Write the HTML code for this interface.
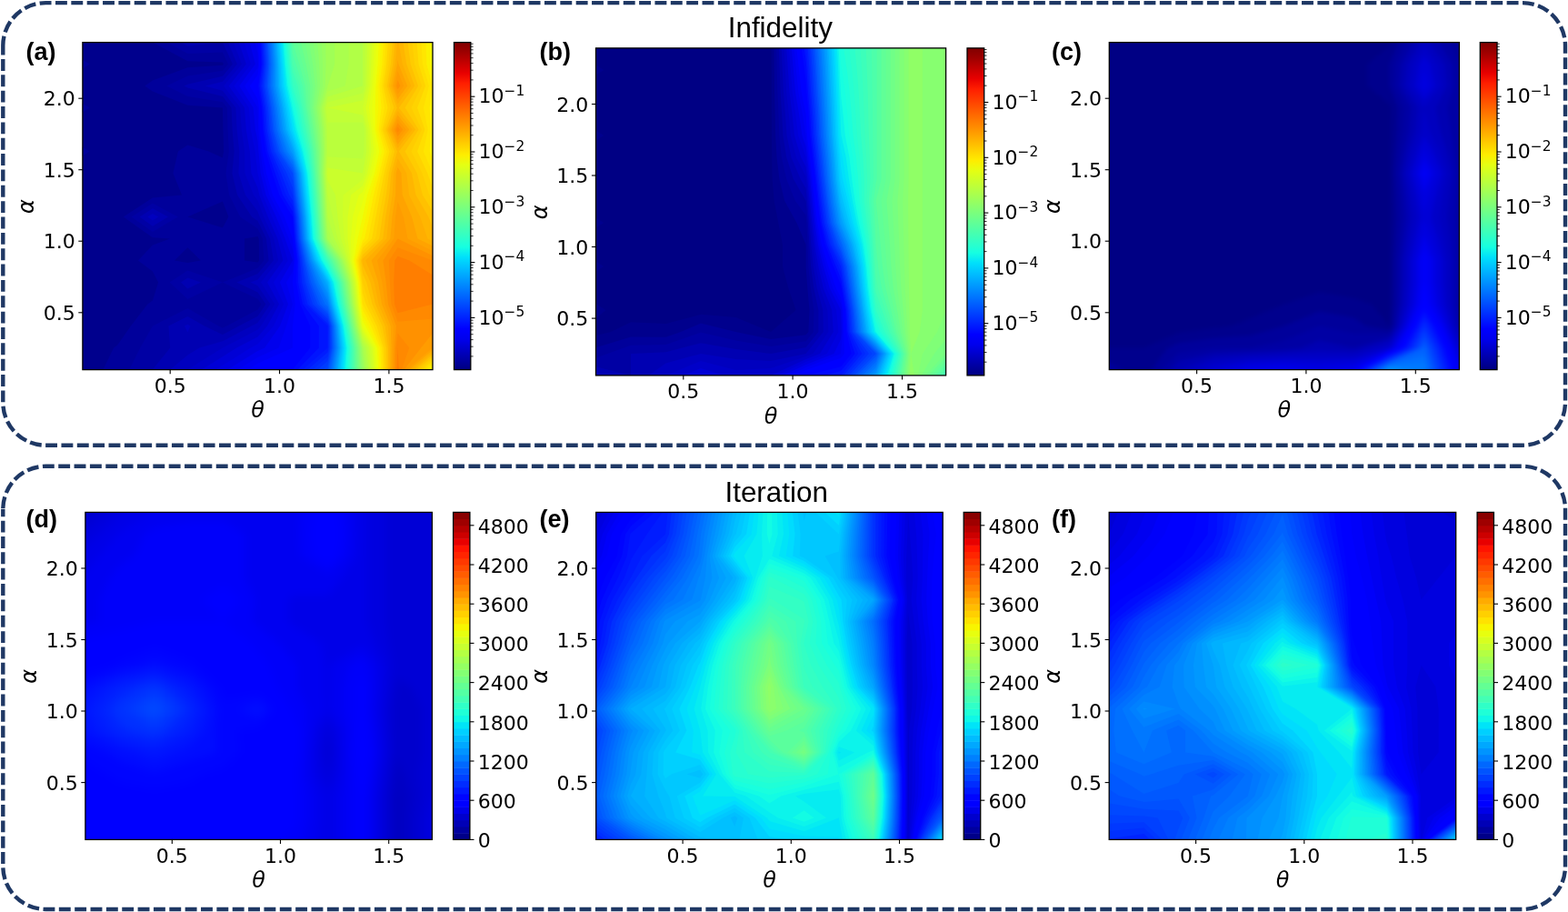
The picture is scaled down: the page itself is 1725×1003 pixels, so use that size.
<!DOCTYPE html>
<html><head><meta charset="utf-8"><title>Infidelity and Iteration</title>
<style>html,body{margin:0;padding:0;background:#fff}svg{display:block}text{font-family:"DejaVu Sans","Liberation Sans",sans-serif;fill:#000}.t{font-size:22px}.b{font-family:"Liberation Sans",sans-serif;font-weight:bold;font-size:27px}.h{font-family:"Liberation Sans",sans-serif;font-size:31.4px}.i{font-style:italic;font-size:24px}</style></head>
<body>
<svg width="1725" height="1003" viewBox="0 0 1725 1003">
<rect width="1725" height="1003" fill="#fff"/>
<path d="M3.3,50.1A47,47 0 0 1 50.3,3.1L1675.0,3.1A47,47 0 0 1 1722.0,50.1L1722.0,442.7A47,47 0 0 1 1675.0,489.7L50.3,489.7A47,47 0 0 1 3.3,442.7Z" fill="none" stroke="#1f3864" stroke-width="4.4" stroke-dasharray="12.9 4.455" stroke-dashoffset="2.39"/>
<path d="M3.3,559.8A47,47 0 0 1 50.3,512.8L1675.0,512.8A47,47 0 0 1 1722.0,559.8L1722.0,953.0A47,47 0 0 1 1675.0,1000.0L50.3,1000.0A47,47 0 0 1 3.3,953.0Z" fill="none" stroke="#1f3864" stroke-width="4.4" stroke-dasharray="12.9 4.455" stroke-dashoffset="16.51"/>
<g><rect x="90.9" y="46.6" width="385.1" height="360" fill="#00008d"/><path fill="#00009b" fill-rule="evenodd" d="M113.4,406.6L129.4,406.6L167.9,406.6L206.4,406.6L244.9,406.6L283.5,406.6L322,406.6L360.5,406.6L399,406.6L437.5,406.6L476,406.6L476,382.6L476,358.6L476,334.6L476,310.6L476,286.6L476,262.6L476,238.6L476,214.6L476,190.6L476,166.6L476,142.6L476,118.6L476,94.6L476,70.6L476,46.6L437.5,46.6L399,46.6L360.5,46.6L322,46.6L283.5,46.6L244.9,46.6L206.4,46.6L167.9,46.6L206.4,67.3L244.9,68.4L245.9,70.6L244.9,71.8L206.4,74.3L167.9,88.6L159.4,94.6L167.9,100.6L206.4,115.7L244.9,118.6L244.9,118.6L245.4,142.6L246.1,166.6L244.9,173.5L229.5,166.6L206.4,159.4L195.9,166.6L190.4,190.6L200,214.6L167.9,217.5L135.7,238.6L167.9,261.3L187.2,262.6L167.9,269.5L151.9,286.6L167.9,298.6L174.1,310.6L167.9,330.6L162.4,334.6L143.9,358.6L129.4,379.2L125.1,382.6ZM206.4,289.1L192,286.6L206.4,272.2L220.9,286.6ZM283.5,288.5L269,286.6L269,262.6L283.5,260L284.7,262.6L285,286.6ZM206.4,238.6L206.4,238.6L206.4,238.6L244.9,221.5L251.4,238.6L244.9,250.6ZM90.9,166.6L90.9,171.4L98.6,166.6L90.9,161.8ZM90.9,118.6L90.9,123.4L98.6,118.6L90.9,113.8ZM90.9,70.6L90.9,75.4L98.6,70.6L90.9,65.8Z"/><path fill="#0000a4" fill-rule="evenodd" d="M142.2,406.6L167.9,406.6L206.4,406.6L244.9,406.6L283.5,406.6L322,406.6L360.5,406.6L399,406.6L437.5,406.6L476,406.6L476,382.6L476,358.6L476,334.6L476,310.6L476,286.6L476,262.6L476,238.6L476,214.6L476,190.6L476,166.6L476,142.6L476,118.6L476,94.6L476,70.6L476,46.6L437.5,46.6L399,46.6L360.5,46.6L322,46.6L283.5,46.6L244.9,46.6L206.4,46.6L183.3,46.6L206.4,59L244.9,57.5L250.9,70.6L244.9,77.8L206.4,83.5L183.3,94.6L206.4,106.1L244.9,112.3L249.8,118.6L250.5,142.6L251.8,166.6L248.4,190.6L252.1,214.6L264.2,238.6L283.5,251.5L288.8,262.6L290.3,286.6L283.5,294.8L244.9,310.6L283.5,328.8L287.4,334.6L283.5,340.4L249.1,358.6L244.9,360.8L240.3,358.6L206.4,339L167.9,358.6L167.9,358.6L154.2,382.6ZM186.6,310.6L206.4,328.9L244.9,310.6L206.4,297.4ZM144.6,238.6L167.9,255L195.7,238.6L167.9,223.4Z"/><path fill="#0000b2" fill-rule="evenodd" d="M167.9,406.6L206.4,406.6L244.9,406.6L283.5,406.6L322,406.6L360.5,406.6L399,406.6L437.5,406.6L476,406.6L476,382.6L476,358.6L476,334.6L476,310.6L476,286.6L476,262.6L476,238.6L476,214.6L476,190.6L476,166.6L476,142.6L476,118.6L476,94.6L476,70.6L476,46.6L437.5,46.6L399,46.6L360.5,46.6L322,46.6L283.5,46.6L244.9,46.6L255.9,70.6L244.9,83.8L206.4,92.8L202.6,94.6L206.4,96.5L244.9,106L254.6,118.6L255.6,142.6L257.6,166.6L255.4,190.6L261.1,214.6L277,238.6L283.5,242.9L293,262.6L295.6,286.6L283.5,301.1L260.3,310.6L283.5,321.5L292.3,334.6L283.5,347.7L262.8,358.6L244.9,368.1L224.9,358.6L206.4,347.9L185.4,358.6L187.2,382.6ZM199,310.6L206.4,317.5L220.9,310.6L206.4,305.6ZM153.6,238.6L167.9,248.7L185,238.6L167.9,229.2ZM198.7,46.6L206.4,50.7L244.9,46.6L206.4,46.6Z"/><path fill="#0000bf" fill-rule="evenodd" d="M187.2,406.6L206.4,406.6L244.9,406.6L283.5,406.6L322,406.6L360.5,406.6L399,406.6L437.5,406.6L476,406.6L476,382.6L476,358.6L476,334.6L476,310.6L476,286.6L476,262.6L476,238.6L476,214.6L476,190.6L476,166.6L476,142.6L476,118.6L476,94.6L476,70.6L476,46.6L437.5,46.6L399,46.6L360.5,46.6L322,46.6L283.5,46.6L250.9,46.6L260.9,70.6L244.9,89.8L225.7,94.6L244.9,99.7L259.4,118.6L260.6,142.6L263.3,166.6L262.4,190.6L270,214.6L283.5,232.6L285.7,238.6L297.1,262.6L300.9,286.6L283.5,307.4L275.7,310.6L283.5,314.2L297.3,334.6L283.5,355L276.6,358.6L244.9,375.3L219.3,382.6L206.4,390.6ZM202.9,358.6L206.4,365.5L209.5,358.6L206.4,356.8ZM162.5,238.6L167.9,242.4L174.3,238.6L167.9,235.1Z"/><path fill="#0000c8" fill-rule="evenodd" d="M206.4,406.6L244.9,406.6L283.5,406.6L322,406.6L360.5,406.6L399,406.6L437.5,406.6L476,406.6L476,382.6L476,358.6L476,334.6L476,310.6L476,286.6L476,262.6L476,238.6L476,214.6L476,190.6L476,166.6L476,142.6L476,118.6L476,94.6L476,70.6L476,46.6L437.5,46.6L399,46.6L360.5,46.6L322,46.6L283.5,46.6L256.8,46.6L265.9,70.6L246.1,94.6L264.2,118.6L265.7,142.6L269.1,166.6L269.4,190.6L279,214.6L283.5,220.6L290.2,238.6L301.3,262.6L306.1,286.6L287,310.6L302.2,334.6L287,358.6L283.5,362.6L244.9,382.6L244.9,382.6Z"/><path fill="#0000d6" fill-rule="evenodd" d="M221.8,406.6L244.9,406.6L283.5,406.6L322,406.6L360.5,406.6L399,406.6L437.5,406.6L476,406.6L476,382.6L476,358.6L476,334.6L476,310.6L476,286.6L476,262.6L476,238.6L476,214.6L476,190.6L476,166.6L476,142.6L476,118.6L476,94.6L476,70.6L476,46.6L437.5,46.6L399,46.6L360.5,46.6L322,46.6L283.5,46.6L262.7,46.6L270.9,70.6L251.8,94.6L269,118.6L270.8,142.6L274.8,166.6L276.4,190.6L283.5,206.6L285.3,214.6L294.8,238.6L305.4,262.6L311.4,286.6L294,310.6L307.1,334.6L294,358.6L283.5,370.6L260.3,382.6L244.9,392.2Z"/><path fill="#0000df" fill-rule="evenodd" d="M237.2,406.6L244.9,406.6L283.5,406.6L322,406.6L360.5,406.6L399,406.6L437.5,406.6L476,406.6L476,382.6L476,358.6L476,334.6L476,310.6L476,286.6L476,262.6L476,238.6L476,214.6L476,190.6L476,166.6L476,142.6L476,118.6L476,94.6L476,70.6L476,46.6L437.5,46.6L399,46.6L360.5,46.6L322,46.6L283.5,46.6L268.6,46.6L275.9,70.6L257.6,94.6L273.8,118.6L275.8,142.6L280.6,166.6L283.5,190.6L283.5,190.6L289,214.6L299.3,238.6L309.5,262.6L316.7,286.6L301,310.6L312.1,334.6L301,358.6L283.5,378.6L275.7,382.6L244.9,401.8Z"/><path fill="#0000ed" fill-rule="evenodd" d="M250.4,406.6L283.5,406.6L322,406.6L360.5,406.6L399,406.6L437.5,406.6L476,406.6L476,382.6L476,358.6L476,334.6L476,310.6L476,286.6L476,262.6L476,238.6L476,214.6L476,190.6L476,166.6L476,142.6L476,118.6L476,94.6L476,70.6L476,46.6L437.5,46.6L399,46.6L360.5,46.6L322,46.6L283.5,46.6L274.6,46.6L280.9,70.6L263.3,94.6L278.6,118.6L280.9,142.6L283.5,154.6L284.4,166.6L286.7,190.6L292.6,214.6L303.8,238.6L313.7,262.6L322,286.6L322,286.6L322,286.6L308,310.6L317,334.6L308,358.6L291.2,382.6L283.5,386Z"/><path fill="#0000f6" fill-rule="evenodd" d="M261.4,406.6L283.5,406.6L322,406.6L360.5,406.6L399,406.6L437.5,406.6L476,406.6L476,382.6L476,358.6L476,334.6L476,310.6L476,286.6L476,262.6L476,238.6L476,214.6L476,190.6L476,166.6L476,142.6L476,118.6L476,94.6L476,70.6L476,46.6L437.5,46.6L399,46.6L360.5,46.6L322,46.6L283.5,46.6L280.5,46.6L283.5,58.6L284,70.6L283.5,74.6L269.1,94.6L283.5,118.6L283.5,118.6L284.2,142.6L286.4,166.6L289.9,190.6L296.3,214.6L308.4,238.6L317.8,262.6L322,274.6L323.1,286.6L322,298.6L315,310.6L322,334.6L322,334.6L322,334.6L315,358.6L306.6,382.6L283.5,392.9Z"/><path fill="#0000ff" fill-rule="evenodd" d="M272.4,406.6L283.5,406.6L322,406.6L360.5,406.6L399,406.6L437.5,406.6L476,406.6L476,382.6L476,358.6L476,334.6L476,310.6L476,286.6L476,262.6L476,238.6L476,214.6L476,190.6L476,166.6L476,142.6L476,118.6L476,94.6L476,70.6L476,46.6L437.5,46.6L399,46.6L360.5,46.6L322,46.6L284,46.6L285.1,70.6L283.5,82.6L274.8,94.6L283.5,109L284.9,118.6L285.8,142.6L288.4,166.6L293.1,190.6L300,214.6L312.9,238.6L322,262.6L322,262.6L324.3,286.6L322,310.6L324.7,334.6L322,358.6L322,382.6L322,382.6L283.5,399.7Z"/><path fill="#0000ff" fill-rule="evenodd" d="M283.5,406.6L322,406.6L360.5,406.6L399,406.6L437.5,406.6L476,406.6L476,382.6L476,358.6L476,334.6L476,310.6L476,286.6L476,262.6L476,238.6L476,214.6L476,190.6L476,166.6L476,142.6L476,118.6L476,94.6L476,70.6L476,46.6L437.5,46.6L399,46.6L360.5,46.6L322,46.6L285.1,46.6L286.2,70.6L283.5,90.6L280.6,94.6L283.5,99.4L286.3,118.6L287.4,142.6L290.4,166.6L296.3,190.6L303.6,214.6L317.4,238.6L322,250.6L322.8,262.6L325.5,286.6L324,310.6L327.5,334.6L331.6,358.6L331.6,382.6L322,394.6Z"/><path fill="#0008ff" fill-rule="evenodd" d="M322,406.6L360.5,406.6L399,406.6L437.5,406.6L476,406.6L476,382.6L476,358.6L476,334.6L476,310.6L476,286.6L476,262.6L476,238.6L476,214.6L476,190.6L476,166.6L476,142.6L476,118.6L476,94.6L476,70.6L476,46.6L437.5,46.6L399,46.6L360.5,46.6L322,46.6L286.2,46.6L287.4,70.6L284.1,94.6L287.7,118.6L289,142.6L292.3,166.6L299.5,190.6L307.3,214.6L322,238.6L322,238.6L323.7,262.6L326.6,286.6L326,310.6L330.2,334.6L341.2,358.6L341.2,382.6Z"/><path fill="#0014ff" fill-rule="evenodd" d="M327.5,406.6L360.5,406.6L399,406.6L437.5,406.6L476,406.6L476,382.6L476,358.6L476,334.6L476,310.6L476,286.6L476,262.6L476,238.6L476,214.6L476,190.6L476,166.6L476,142.6L476,118.6L476,94.6L476,70.6L476,46.6L437.5,46.6L399,46.6L360.5,46.6L322,46.6L287.2,46.6L288.5,70.6L285.5,94.6L289.2,118.6L290.5,142.6L294.3,166.6L302.7,190.6L311,214.6L322,232.6L322.8,238.6L324.6,262.6L327.8,286.6L328,310.6L333,334.6L350.8,358.6L350.8,382.6Z"/><path fill="#001cff" fill-rule="evenodd" d="M333,406.6L360.5,406.6L399,406.6L437.5,406.6L476,406.6L476,382.6L476,358.6L476,334.6L476,310.6L476,286.6L476,262.6L476,238.6L476,214.6L476,190.6L476,166.6L476,142.6L476,118.6L476,94.6L476,70.6L476,46.6L437.5,46.6L399,46.6L360.5,46.6L322,46.6L288.3,46.6L289.6,70.6L286.8,94.6L290.6,118.6L292.1,142.6L296.3,166.6L305.9,190.6L314.6,214.6L322,226.6L323.7,238.6L325.5,262.6L329,286.6L330.1,310.6L335.7,334.6L360.5,358.6L360.5,358.6L360.5,382.6L360.5,382.6Z"/><path fill="#0028ff" fill-rule="evenodd" d="M338.5,406.6L360.5,406.6L399,406.6L437.5,406.6L476,406.6L476,382.6L476,358.6L476,334.6L476,310.6L476,286.6L476,262.6L476,238.6L476,214.6L476,190.6L476,166.6L476,142.6L476,118.6L476,94.6L476,70.6L476,46.6L437.5,46.6L399,46.6L360.5,46.6L322,46.6L289.4,46.6L290.7,70.6L288.2,94.6L292,118.6L293.7,142.6L298.3,166.6L309.1,190.6L318.3,214.6L322,220.6L324.6,238.6L326.3,262.6L330.1,286.6L332.1,310.6L338.5,334.6L360.5,355.9L361.3,358.6L361.4,382.6L360.5,387.4Z"/><path fill="#0030ff" fill-rule="evenodd" d="M344,406.6L360.5,406.6L399,406.6L437.5,406.6L476,406.6L476,382.6L476,358.6L476,334.6L476,310.6L476,286.6L476,262.6L476,238.6L476,214.6L476,190.6L476,166.6L476,142.6L476,118.6L476,94.6L476,70.6L476,46.6L437.5,46.6L399,46.6L360.5,46.6L322,46.6L290.5,46.6L291.8,70.6L289.5,94.6L293.4,118.6L295.2,142.6L300.2,166.6L312.3,190.6L322,214.6L322,214.6L325.5,238.6L327.2,262.6L331.3,286.6L334.1,310.6L341.2,334.6L360.5,353.3L362.1,358.6L362.4,382.6L360.5,392.2Z"/><path fill="#003cff" fill-rule="evenodd" d="M349.5,406.6L360.5,406.6L399,406.6L437.5,406.6L476,406.6L476,382.6L476,358.6L476,334.6L476,310.6L476,286.6L476,262.6L476,238.6L476,214.6L476,190.6L476,166.6L476,142.6L476,118.6L476,94.6L476,70.6L476,46.6L437.5,46.6L399,46.6L360.5,46.6L322,46.6L291.6,46.6L292.9,70.6L290.9,94.6L294.9,118.6L296.8,142.6L302.2,166.6L315.5,190.6L322,206.6L322.9,214.6L326.3,238.6L328.1,262.6L332.5,286.6L336.1,310.6L344,334.6L360.5,350.6L362.9,358.6L363.4,382.6L360.5,397Z"/><path fill="#0044ff" fill-rule="evenodd" d="M355,406.6L360.5,406.6L399,406.6L437.5,406.6L476,406.6L476,382.6L476,358.6L476,334.6L476,310.6L476,286.6L476,262.6L476,238.6L476,214.6L476,190.6L476,166.6L476,142.6L476,118.6L476,94.6L476,70.6L476,46.6L437.5,46.6L399,46.6L360.5,46.6L322,46.6L292.7,46.6L294.1,70.6L292.2,94.6L296.3,118.6L298.4,142.6L304.2,166.6L318.8,190.6L322,198.6L323.8,214.6L327.2,238.6L329,262.6L333.6,286.6L338.2,310.6L346.7,334.6L360.5,347.9L363.7,358.6L364.3,382.6L360.5,401.8Z"/><path fill="#0050ff" fill-rule="evenodd" d="M360.5,406.6L399,406.6L437.5,406.6L476,406.6L476,382.6L476,358.6L476,334.6L476,310.6L476,286.6L476,262.6L476,238.6L476,214.6L476,190.6L476,166.6L476,142.6L476,118.6L476,94.6L476,70.6L476,46.6L437.5,46.6L399,46.6L360.5,46.6L322,46.6L293.8,46.6L295.2,70.6L293.6,94.6L297.7,118.6L300,142.6L306.2,166.6L322,190.6L322,190.6L324.8,214.6L328.1,238.6L329.8,262.6L334.8,286.6L340.2,310.6L349.5,334.6L360.5,345.3L364.5,358.6L365.3,382.6Z"/><path fill="#005cff" fill-rule="evenodd" d="M361.6,406.6L399,406.6L437.5,406.6L476,406.6L476,382.6L476,358.6L476,334.6L476,310.6L476,286.6L476,262.6L476,238.6L476,214.6L476,190.6L476,166.6L476,142.6L476,118.6L476,94.6L476,70.6L476,46.6L437.5,46.6L399,46.6L360.5,46.6L322,46.6L294.8,46.6L296.3,70.6L294.9,94.6L299.1,118.6L301.5,142.6L308.1,166.6L322,187.6L322.9,190.6L325.7,214.6L329,238.6L330.7,262.6L336,286.6L342.2,310.6L352.2,334.6L360.5,342.6L365.3,358.6L366.2,382.6Z"/><path fill="#0064ff" fill-rule="evenodd" d="M362.8,406.6L399,406.6L437.5,406.6L476,406.6L476,382.6L476,358.6L476,334.6L476,310.6L476,286.6L476,262.6L476,238.6L476,214.6L476,190.6L476,166.6L476,142.6L476,118.6L476,94.6L476,70.6L476,46.6L437.5,46.6L399,46.6L360.5,46.6L322,46.6L295.9,46.6L297.4,70.6L296.3,94.6L300.6,118.6L303.1,142.6L310.1,166.6L322,184.6L323.9,190.6L326.7,214.6L329.8,238.6L331.6,262.6L337.1,286.6L344.3,310.6L355,334.6L360.5,339.9L366.1,358.6L367.2,382.6Z"/><path fill="#0070ff" fill-rule="evenodd" d="M364,406.6L399,406.6L437.5,406.6L476,406.6L476,382.6L476,358.6L476,334.6L476,310.6L476,286.6L476,262.6L476,238.6L476,214.6L476,190.6L476,166.6L476,142.6L476,118.6L476,94.6L476,70.6L476,46.6L437.5,46.6L399,46.6L360.5,46.6L322,46.6L297,46.6L298.5,70.6L297.6,94.6L302,118.6L304.7,142.6L312.1,166.6L322,181.6L324.9,190.6L327.6,214.6L330.7,238.6L332.5,262.6L338.3,286.6L346.3,310.6L357.7,334.6L360.5,337.3L366.9,358.6L368.2,382.6Z"/><path fill="#0078ff" fill-rule="evenodd" d="M365.1,406.6L399,406.6L437.5,406.6L476,406.6L476,382.6L476,358.6L476,334.6L476,310.6L476,286.6L476,262.6L476,238.6L476,214.6L476,190.6L476,166.6L476,142.6L476,118.6L476,94.6L476,70.6L476,46.6L437.5,46.6L399,46.6L360.5,46.6L322,46.6L298.1,46.6L299.6,70.6L299,94.6L303.4,118.6L306.2,142.6L314.1,166.6L322,178.6L325.9,190.6L328.5,214.6L331.6,238.6L333.3,262.6L339.5,286.6L348.3,310.6L360.5,334.6L360.5,334.6L367.7,358.6L369.1,382.6Z"/><path fill="#0084ff" fill-rule="evenodd" d="M366.3,406.6L399,406.6L437.5,406.6L476,406.6L476,382.6L476,358.6L476,334.6L476,310.6L476,286.6L476,262.6L476,238.6L476,214.6L476,190.6L476,166.6L476,142.6L476,118.6L476,94.6L476,70.6L476,46.6L437.5,46.6L399,46.6L360.5,46.6L322,46.6L299.2,46.6L300.8,70.6L300.3,94.6L304.8,118.6L307.8,142.6L316,166.6L322,175.6L326.8,190.6L329.5,214.6L332.5,238.6L334.2,262.6L340.6,286.6L350.3,310.6L360.5,330.6L361.4,334.6L368.5,358.6L370.1,382.6Z"/><path fill="#008cff" fill-rule="evenodd" d="M367.5,406.6L399,406.6L437.5,406.6L476,406.6L476,382.6L476,358.6L476,334.6L476,310.6L476,286.6L476,262.6L476,238.6L476,214.6L476,190.6L476,166.6L476,142.6L476,118.6L476,94.6L476,70.6L476,46.6L437.5,46.6L399,46.6L360.5,46.6L322,46.6L300.3,46.6L301.9,70.6L301.7,94.6L306.3,118.6L309.4,142.6L318,166.6L322,172.6L327.8,190.6L330.4,214.6L333.3,238.6L335.1,262.6L341.8,286.6L352.4,310.6L360.5,326.6L362.3,334.6L369.3,358.6L371.1,382.6Z"/><path fill="#0098ff" fill-rule="evenodd" d="M368.6,406.6L399,406.6L437.5,406.6L476,406.6L476,382.6L476,358.6L476,334.6L476,310.6L476,286.6L476,262.6L476,238.6L476,214.6L476,190.6L476,166.6L476,142.6L476,118.6L476,94.6L476,70.6L476,46.6L437.5,46.6L399,46.6L360.5,46.6L322,46.6L301.3,46.6L303,70.6L303,94.6L307.7,118.6L311,142.6L320,166.6L322,169.6L328.8,190.6L331.4,214.6L334.2,238.6L336,262.6L343,286.6L354.4,310.6L360.5,322.6L363.2,334.6L370.1,358.6L372,382.6Z"/><path fill="#00a0ff" fill-rule="evenodd" d="M369.8,406.6L399,406.6L437.5,406.6L476,406.6L476,382.6L476,358.6L476,334.6L476,310.6L476,286.6L476,262.6L476,238.6L476,214.6L476,190.6L476,166.6L476,142.6L476,118.6L476,94.6L476,70.6L476,46.6L437.5,46.6L399,46.6L360.5,46.6L322,46.6L302.4,46.6L304.1,70.6L304.4,94.6L309.1,118.6L312.5,142.6L322,166.6L322,166.6L329.8,190.6L332.3,214.6L335.1,238.6L336.8,262.6L344.1,286.6L356.4,310.6L360.5,318.6L364.1,334.6L370.9,358.6L373,382.6Z"/><path fill="#00acff" fill-rule="evenodd" d="M371,406.6L399,406.6L437.5,406.6L476,406.6L476,382.6L476,358.6L476,334.6L476,310.6L476,286.6L476,262.6L476,238.6L476,214.6L476,190.6L476,166.6L476,142.6L476,118.6L476,94.6L476,70.6L476,46.6L437.5,46.6L399,46.6L360.5,46.6L322,46.6L303.5,46.6L305.2,70.6L305.7,94.6L310.5,118.6L314.1,142.6L322,162.6L323.3,166.6L330.7,190.6L333.2,214.6L336,238.6L337.7,262.6L345.3,286.6L358.4,310.6L360.5,314.6L364.9,334.6L371.7,358.6L373.9,382.6Z"/><path fill="#00b8ff" fill-rule="evenodd" d="M372.1,406.6L399,406.6L437.5,406.6L476,406.6L476,382.6L476,358.6L476,334.6L476,310.6L476,286.6L476,262.6L476,238.6L476,214.6L476,190.6L476,166.6L476,142.6L476,118.6L476,94.6L476,70.6L476,46.6L437.5,46.6L399,46.6L360.5,46.6L322,46.6L304.6,46.6L306.3,70.6L307.1,94.6L312,118.6L315.7,142.6L322,158.6L324.6,166.6L331.7,190.6L334.2,214.6L336.8,238.6L338.6,262.6L346.5,286.6L360.5,310.6L360.5,310.6L365.8,334.6L372.5,358.6L374.9,382.6Z"/><path fill="#00c0ff" fill-rule="evenodd" d="M373.3,406.6L399,406.6L437.5,406.6L476,406.6L476,382.6L476,358.6L476,334.6L476,310.6L476,286.6L476,262.6L476,238.6L476,214.6L476,190.6L476,166.6L476,142.6L476,118.6L476,94.6L476,70.6L476,46.6L437.5,46.6L399,46.6L360.5,46.6L322,46.6L305.7,46.6L307.4,70.6L308.4,94.6L313.4,118.6L317.2,142.6L322,154.6L325.9,166.6L332.7,190.6L335.1,214.6L337.7,238.6L339.5,262.6L347.6,286.6L360.5,308.6L361.5,310.6L366.7,334.6L373.3,358.6L375.9,382.6Z"/><path fill="#00ccff" fill-rule="evenodd" d="M374.5,406.6L399,406.6L437.5,406.6L476,406.6L476,382.6L476,358.6L476,334.6L476,310.6L476,286.6L476,262.6L476,238.6L476,214.6L476,190.6L476,166.6L476,142.6L476,118.6L476,94.6L476,70.6L476,46.6L437.5,46.6L399,46.6L360.5,46.6L322,46.6L306.8,46.6L308.6,70.6L309.8,94.6L314.8,118.6L318.8,142.6L322,150.6L327.2,166.6L333.7,190.6L336,214.6L338.6,238.6L340.3,262.6L348.8,286.6L360.5,306.6L362.4,310.6L367.6,334.6L374.1,358.6L376.8,382.6Z"/><path fill="#00d4ff" fill-rule="evenodd" d="M375.6,406.6L399,406.6L437.5,406.6L476,406.6L476,382.6L476,358.6L476,334.6L476,310.6L476,286.6L476,262.6L476,238.6L476,214.6L476,190.6L476,166.6L476,142.6L476,118.6L476,94.6L476,70.6L476,46.6L437.5,46.6L399,46.6L360.5,46.6L322,46.6L307.9,46.6L309.7,70.6L311.2,94.6L316.3,118.6L320.4,142.6L322,146.6L328.5,166.6L334.6,190.6L337,214.6L339.5,238.6L341.2,262.6L350,286.6L360.5,304.6L363.4,310.6L368.5,334.6L374.9,358.6L377.8,382.6Z"/><path fill="#00e0fb" fill-rule="evenodd" d="M376.8,406.6L399,406.6L437.5,406.6L476,406.6L476,382.6L476,358.6L476,334.6L476,310.6L476,286.6L476,262.6L476,238.6L476,214.6L476,190.6L476,166.6L476,142.6L476,118.6L476,94.6L476,70.6L476,46.6L437.5,46.6L399,46.6L360.5,46.6L322,46.6L308.9,46.6L310.8,70.6L312.5,94.6L317.7,118.6L322,142.6L322,142.6L329.8,166.6L335.6,190.6L337.9,214.6L340.3,238.6L342.1,262.6L351.1,286.6L360.5,302.6L364.4,310.6L369.4,334.6L375.7,358.6L378.8,382.6Z"/><path fill="#02e8f4" fill-rule="evenodd" d="M378,406.6L399,406.6L437.5,406.6L476,406.6L476,382.6L476,358.6L476,334.6L476,310.6L476,286.6L476,262.6L476,238.6L476,214.6L476,190.6L476,166.6L476,142.6L476,118.6L476,94.6L476,70.6L476,46.6L437.5,46.6L399,46.6L360.5,46.6L322,46.6L310,46.6L311.9,70.6L313.9,94.6L319.1,118.6L322,134.6L323.6,142.6L331.1,166.6L336.6,190.6L338.9,214.6L341.2,238.6L343,262.6L352.3,286.6L360.5,300.6L365.4,310.6L370.3,334.6L376.5,358.6L379.7,382.6Z"/><path fill="#0cf4eb" fill-rule="evenodd" d="M379.1,406.6L399,406.6L437.5,406.6L476,406.6L476,382.6L476,358.6L476,334.6L476,310.6L476,286.6L476,262.6L476,238.6L476,214.6L476,190.6L476,166.6L476,142.6L476,118.6L476,94.6L476,70.6L476,46.6L437.5,46.6L399,46.6L360.5,46.6L322,46.6L311.1,46.6L313,70.6L315.2,94.6L320.5,118.6L322,126.6L325.2,142.6L332.4,166.6L337.6,190.6L339.8,214.6L342.1,238.6L343.8,262.6L353.5,286.6L360.5,298.6L366.4,310.6L371.2,334.6L377.3,358.6L380.7,382.6Z"/><path fill="#16ffe1" fill-rule="evenodd" d="M380.3,406.6L399,406.6L437.5,406.6L476,406.6L476,382.6L476,358.6L476,334.6L476,310.6L476,286.6L476,262.6L476,238.6L476,214.6L476,190.6L476,166.6L476,142.6L476,118.6L476,94.6L476,70.6L476,46.6L437.5,46.6L399,46.6L360.5,46.6L322,46.6L312.2,46.6L314.1,70.6L316.6,94.6L322,118.6L322,118.6L326.9,142.6L333.7,166.6L338.5,190.6L340.7,214.6L343,238.6L344.7,262.6L354.6,286.6L360.5,296.6L367.4,310.6L372.1,334.6L378.1,358.6L381.7,382.6Z"/><path fill="#1cffdb" fill-rule="evenodd" d="M381.5,406.6L399,406.6L437.5,406.6L476,406.6L476,382.6L476,358.6L476,334.6L476,310.6L476,286.6L476,262.6L476,238.6L476,214.6L476,190.6L476,166.6L476,142.6L476,118.6L476,94.6L476,70.6L476,46.6L437.5,46.6L399,46.6L360.5,46.6L322,46.6L313.3,46.6L315.3,70.6L317.9,94.6L322,112.6L323.7,118.6L328.5,142.6L335,166.6L339.5,190.6L341.7,214.6L343.8,238.6L345.6,262.6L355.8,286.6L360.5,294.6L368.4,310.6L373,334.6L378.9,358.6L382.6,382.6Z"/><path fill="#26ffd1" fill-rule="evenodd" d="M382.6,406.6L399,406.6L437.5,406.6L476,406.6L476,382.6L476,358.6L476,334.6L476,310.6L476,286.6L476,262.6L476,238.6L476,214.6L476,190.6L476,166.6L476,142.6L476,118.6L476,94.6L476,70.6L476,46.6L437.5,46.6L399,46.6L360.5,46.6L322,46.6L314.4,46.6L316.4,70.6L319.3,94.6L322,106.6L325.5,118.6L330.2,142.6L336.3,166.6L340.5,190.6L342.6,214.6L344.7,238.6L346.5,262.6L357,286.6L360.5,292.6L369.4,310.6L373.9,334.6L379.7,358.6L383.6,382.6Z"/><path fill="#2cffca" fill-rule="evenodd" d="M383.8,406.6L399,406.6L437.5,406.6L476,406.6L476,382.6L476,358.6L476,334.6L476,310.6L476,286.6L476,262.6L476,238.6L476,214.6L476,190.6L476,166.6L476,142.6L476,118.6L476,94.6L476,70.6L476,46.6L437.5,46.6L399,46.6L360.5,46.6L322,46.6L315.5,46.6L317.5,70.6L320.6,94.6L322,100.6L327.2,118.6L331.8,142.6L337.6,166.6L341.5,190.6L343.6,214.6L345.6,238.6L347.3,262.6L358.1,286.6L360.5,290.6L370.3,310.6L374.8,334.6L380.5,358.6L384.5,382.6Z"/><path fill="#36ffc1" fill-rule="evenodd" d="M385,406.6L399,406.6L437.5,406.6L476,406.6L476,382.6L476,358.6L476,334.6L476,310.6L476,286.6L476,262.6L476,238.6L476,214.6L476,190.6L476,166.6L476,142.6L476,118.6L476,94.6L476,70.6L476,46.6L437.5,46.6L399,46.6L360.5,46.6L322,46.6L316.5,46.6L318.6,70.6L322,94.6L322,94.6L329,118.6L333.4,142.6L338.9,166.6L342.4,190.6L344.5,214.6L346.5,238.6L348.2,262.6L359.3,286.6L360.5,288.6L371.3,310.6L375.7,334.6L381.3,358.6L385.5,382.6Z"/><path fill="#3cffba" fill-rule="evenodd" d="M386.1,406.6L399,406.6L437.5,406.6L476,406.6L476,382.6L476,358.6L476,334.6L476,310.6L476,286.6L476,262.6L476,238.6L476,214.6L476,190.6L476,166.6L476,142.6L476,118.6L476,94.6L476,70.6L476,46.6L437.5,46.6L399,46.6L360.5,46.6L322,46.6L317.6,46.6L319.7,70.6L322,86.6L324.7,94.6L330.7,118.6L335.1,142.6L340.2,166.6L343.4,190.6L345.4,214.6L347.3,238.6L349.1,262.6L360.5,286.6L360.5,286.6L372.3,310.6L376.6,334.6L382.1,358.6L386.5,382.6Z"/><path fill="#46ffb1" fill-rule="evenodd" d="M387.3,406.6L399,406.6L437.5,406.6L476,406.6L476,382.6L476,358.6L476,334.6L476,310.6L476,286.6L476,262.6L476,238.6L476,214.6L476,190.6L476,166.6L476,142.6L476,118.6L476,94.6L476,70.6L476,46.6L437.5,46.6L399,46.6L360.5,46.6L322,46.6L318.7,46.6L320.8,70.6L322,78.6L327.5,94.6L332.5,118.6L336.7,142.6L341.5,166.6L344.4,190.6L346.4,214.6L348.2,238.6L350,262.6L360.5,284.8L361.8,286.6L373.3,310.6L377.5,334.6L382.9,358.6L387.4,382.6Z"/><path fill="#4dffaa" fill-rule="evenodd" d="M388.5,406.6L399,406.6L437.5,406.6L476,406.6L476,382.6L476,358.6L476,334.6L476,310.6L476,286.6L476,262.6L476,238.6L476,214.6L476,190.6L476,166.6L476,142.6L476,118.6L476,94.6L476,70.6L476,46.6L437.5,46.6L399,46.6L360.5,46.6L322,46.6L319.8,46.6L322,70.6L322,70.6L330.2,94.6L334.2,118.6L338.3,142.6L342.8,166.6L345.4,190.6L347.3,214.6L349.1,238.6L350.8,262.6L360.5,282.9L363.1,286.6L374.3,310.6L378.4,334.6L383.7,358.6L388.4,382.6Z"/><path fill="#56ffa0" fill-rule="evenodd" d="M389.6,406.6L399,406.6L437.5,406.6L476,406.6L476,382.6L476,358.6L476,334.6L476,310.6L476,286.6L476,262.6L476,238.6L476,214.6L476,190.6L476,166.6L476,142.6L476,118.6L476,94.6L476,70.6L476,46.6L437.5,46.6L399,46.6L360.5,46.6L322,46.6L320.9,46.6L322,58.6L325.6,70.6L333,94.6L336,118.6L340,142.6L344.2,166.6L346.3,190.6L348.3,214.6L350,238.6L351.7,262.6L360.5,281.1L364.4,286.6L375.3,310.6L379.3,334.6L384.5,358.6L389.4,382.6Z"/><path fill="#60ff97" fill-rule="evenodd" d="M390.8,406.6L399,406.6L437.5,406.6L476,406.6L476,382.6L476,358.6L476,334.6L476,310.6L476,286.6L476,262.6L476,238.6L476,214.6L476,190.6L476,166.6L476,142.6L476,118.6L476,94.6L476,70.6L476,46.6L437.5,46.6L399,46.6L360.5,46.6L322,46.6L329.3,70.6L335.7,94.6L337.7,118.6L341.6,142.6L345.5,166.6L347.3,190.6L349.2,214.6L350.8,238.6L352.6,262.6L360.5,279.2L365.7,286.6L376.3,310.6L380.2,334.6L385.3,358.6L390.3,382.6Z"/><path fill="#66ff90" fill-rule="evenodd" d="M392,406.6L399,406.6L437.5,406.6L476,406.6L476,382.6L476,358.6L476,334.6L476,310.6L476,286.6L476,262.6L476,238.6L476,214.6L476,190.6L476,166.6L476,142.6L476,118.6L476,94.6L476,70.6L476,46.6L437.5,46.6L399,46.6L360.5,46.6L326.5,46.6L333,70.6L338.5,94.6L339.5,118.6L343.3,142.6L346.8,166.6L348.3,190.6L350.1,214.6L351.7,238.6L353.5,262.6L360.5,277.4L367,286.6L377.3,310.6L381.1,334.6L386.1,358.6L391.3,382.6Z"/><path fill="#70ff87" fill-rule="evenodd" d="M393.1,406.6L399,406.6L437.5,406.6L476,406.6L476,382.6L476,358.6L476,334.6L476,310.6L476,286.6L476,262.6L476,238.6L476,214.6L476,190.6L476,166.6L476,142.6L476,118.6L476,94.6L476,70.6L476,46.6L437.5,46.6L399,46.6L360.5,46.6L331,46.6L336.6,70.6L341.2,94.6L341.2,118.6L344.9,142.6L348.1,166.6L349.3,190.6L351.1,214.6L352.6,238.6L354.3,262.6L360.5,275.5L368.3,286.6L378.2,310.6L382,334.6L386.9,358.6L392.2,382.6Z"/><path fill="#77ff80" fill-rule="evenodd" d="M394.3,406.6L399,406.6L437.5,406.6L476,406.6L476,382.6L476,358.6L476,334.6L476,310.6L476,286.6L476,262.6L476,238.6L476,214.6L476,190.6L476,166.6L476,142.6L476,118.6L476,94.6L476,70.6L476,46.6L437.5,46.6L399,46.6L360.5,46.6L335.6,46.6L340.3,70.6L344,94.6L343,118.6L346.5,142.6L349.4,166.6L350.2,190.6L352,214.6L353.5,238.6L355.2,262.6L360.5,273.7L369.6,286.6L379.2,310.6L382.9,334.6L387.7,358.6L393.2,382.6Z"/><path fill="#80ff77" fill-rule="evenodd" d="M395.5,406.6L399,406.6L437.5,406.6L476,406.6L476,382.6L476,358.6L476,334.6L476,310.6L476,286.6L476,262.6L476,238.6L476,214.6L476,190.6L476,166.6L476,142.6L476,118.6L476,94.6L476,70.6L476,46.6L437.5,46.6L399,46.6L360.5,46.6L340.1,46.6L344,70.6L346.7,94.6L344.7,118.6L348.2,142.6L350.7,166.6L351.2,190.6L353,214.6L354.3,238.6L356.1,262.6L360.5,271.8L370.9,286.6L380.2,310.6L383.8,334.6L388.6,358.6L394.2,382.6Z"/><path fill="#87ff70" fill-rule="evenodd" d="M396.6,406.6L399,406.6L437.5,406.6L476,406.6L476,382.6L476,358.6L476,334.6L476,310.6L476,286.6L476,262.6L476,238.6L476,214.6L476,190.6L476,166.6L476,142.6L476,118.6L476,94.6L476,70.6L476,46.6L437.5,46.6L399,46.6L360.5,46.6L344.6,46.6L347.6,70.6L349.5,94.6L346.5,118.6L349.8,142.6L352,166.6L352.2,190.6L353.9,214.6L355.2,238.6L357,262.6L360.5,270L372.2,286.6L381.2,310.6L384.7,334.6L389.4,358.6L395.1,382.6Z"/><path fill="#90ff66" fill-rule="evenodd" d="M397.8,406.6L399,406.6L437.5,406.6L476,406.6L476,382.6L476,358.6L476,334.6L476,310.6L476,286.6L476,262.6L476,238.6L476,214.6L476,190.6L476,166.6L476,142.6L476,118.6L476,94.6L476,70.6L476,46.6L437.5,46.6L399,46.6L360.5,46.6L349.1,46.6L351.3,70.6L352.2,94.6L348.2,118.6L351.5,142.6L353.3,166.6L353.2,190.6L354.8,214.6L356.1,238.6L357.8,262.6L360.5,268.1L373.5,286.6L382.2,310.6L385.5,334.6L390.2,358.6L396.1,382.6Z"/><path fill="#97ff60" fill-rule="evenodd" d="M397.1,382.6L399,406.6L399,406.6L437.5,406.6L476,406.6L476,382.6L476,358.6L476,334.6L476,310.6L476,286.6L476,262.6L476,238.6L476,214.6L476,190.6L476,166.6L476,142.6L476,118.6L476,94.6L476,70.6L476,46.6L437.5,46.6L399,46.6L360.5,46.6L353.7,46.6L355,70.6L355,94.6L350,118.6L353.1,142.6L354.6,166.6L354.1,190.6L355.8,214.6L357,238.6L358.7,262.6L360.5,266.3L374.8,286.6L383.2,310.6L386.4,334.6L391,358.6Z"/><path fill="#a0ff56" fill-rule="evenodd" d="M398,382.6L399,394.6L400.6,406.6L437.5,406.6L476,406.6L476,382.6L476,358.6L476,334.6L476,310.6L476,286.6L476,262.6L476,238.6L476,214.6L476,190.6L476,166.6L476,142.6L476,118.6L476,94.6L476,70.6L476,46.6L437.5,46.6L399,46.6L360.5,46.6L358.2,46.6L358.6,70.6L357.7,94.6L351.7,118.6L354.7,142.6L355.9,166.6L355.1,190.6L356.7,214.6L357.8,238.6L359.6,262.6L360.5,264.4L376.1,286.6L384.2,310.6L387.3,334.6L391.8,358.6Z"/><path fill="#aaff4d" fill-rule="evenodd" d="M402.1,406.6L437.5,406.6L476,406.6L476,382.6L476,358.6L476,334.6L476,310.6L476,286.6L476,262.6L476,238.6L476,214.6L476,190.6L476,166.6L476,142.6L476,118.6L476,94.6L476,70.6L476,46.6L437.5,46.6L399,46.6L368.2,46.6L368.2,70.6L360.5,94.6L360.5,94.6L353.5,118.6L356.4,142.6L357.2,166.6L356.1,190.6L357.7,214.6L358.7,238.6L360.5,262.6L360.5,262.6L377.4,286.6L385.2,310.6L388.2,334.6L392.6,358.6L399,382.6L399,382.6Z"/><path fill="#b1ff46" fill-rule="evenodd" d="M403.7,406.6L437.5,406.6L476,406.6L476,382.6L476,358.6L476,334.6L476,310.6L476,286.6L476,262.6L476,238.6L476,214.6L476,190.6L476,166.6L476,142.6L476,118.6L476,94.6L476,70.6L476,46.6L437.5,46.6L399,46.6L383.6,46.6L383.6,70.6L379.7,94.6L360.5,100.6L355.2,118.6L358,142.6L358.5,166.6L357.1,190.6L358.6,214.6L359.6,238.6L360.5,250.6L364.1,262.6L378.7,286.6L386.1,310.6L389.1,334.6L393.4,358.6L399,379.6L400.7,382.6Z"/><path fill="#baff3c" fill-rule="evenodd" d="M405.3,406.6L437.5,406.6L476,406.6L476,382.6L476,358.6L476,334.6L476,310.6L476,286.6L476,262.6L476,238.6L476,214.6L476,190.6L476,166.6L476,142.6L476,118.6L476,94.6L476,70.6L476,46.6L437.5,46.6L399,46.6L399,70.6L399,94.6L399,94.6L360.5,106.6L357,118.6L359.7,142.6L359.8,166.6L358,190.6L359.5,214.6L360.5,238.6L360.5,238.6L367.8,262.6L380.1,286.6L387.1,310.6L390,334.6L394.2,358.6L399,376.6L402.5,382.6ZM399,142.6L399,142.6L399,142.6L399,142.6Z"/><path fill="#c1ff36" fill-rule="evenodd" d="M406.8,406.6L437.5,406.6L476,406.6L476,382.6L476,358.6L476,334.6L476,310.6L476,286.6L476,262.6L476,238.6L476,214.6L476,190.6L476,166.6L476,142.6L476,118.6L476,94.6L476,70.6L476,46.6L437.5,46.6L401.5,46.6L401.4,70.6L401,94.6L399,102.6L360.5,112.6L358.7,118.6L360.5,134.6L399,134.6L400.9,142.6L400.4,166.6L399,174.6L360.5,172.6L359,190.6L360.5,214.6L360.5,214.6L366,238.6L371.5,262.6L381.4,286.6L388.1,310.6L390.9,334.6L395,358.6L399,373.6L404.2,382.6Z"/><path fill="#caff2c" fill-rule="evenodd" d="M408.4,406.6L437.5,406.6L476,406.6L476,382.6L476,358.6L476,334.6L476,310.6L476,286.6L476,262.6L476,238.6L476,214.6L476,190.6L476,166.6L476,142.6L476,118.6L476,94.6L476,70.6L476,46.6L437.5,46.6L404,46.6L403.7,70.6L403.1,94.6L399,110.6L360.5,118.6L399,126.6L402.9,142.6L403.2,166.6L399,190.6L399,190.6L399,190.6L360.5,184.6L360,190.6L360.5,198.6L369,214.6L371.5,238.6L375.1,262.6L382.7,286.6L389.1,310.6L391.8,334.6L395.8,358.6L399,370.6L406,382.6Z"/><path fill="#d1ff26" fill-rule="evenodd" d="M410,406.6L437.5,406.6L476,406.6L476,382.6L476,358.6L476,334.6L476,310.6L476,286.6L476,262.6L476,238.6L476,214.6L476,190.6L476,166.6L476,142.6L476,118.6L476,94.6L476,70.6L476,46.6L437.5,46.6L406.6,46.6L406.1,70.6L405.2,94.6L399,118.6L404.8,142.6L406,166.6L401.6,190.6L399,197.5L377.6,214.6L377,238.6L378.8,262.6L384,286.6L390.1,310.6L392.7,334.6L396.6,358.6L399,367.6L407.7,382.6Z"/><path fill="#dbff1c" fill-rule="evenodd" d="M411.6,406.6L437.5,406.6L476,406.6L476,382.6L476,358.6L476,334.6L476,310.6L476,286.6L476,262.6L476,238.6L476,214.6L476,190.6L476,166.6L476,142.6L476,118.6L476,94.6L476,70.6L476,46.6L437.5,46.6L409.1,46.6L408.5,70.6L407.2,94.6L402.4,118.6L406.8,142.6L408.8,166.6L404.2,190.6L399,204.3L386.1,214.6L382.5,238.6L382.5,262.6L385.3,286.6L391.1,310.6L393.6,334.6L397.4,358.6L399,364.6L409.5,382.6Z"/><path fill="#e4ff13" fill-rule="evenodd" d="M413.1,406.6L437.5,406.6L476,406.6L476,382.6L476,358.6L476,334.6L476,310.6L476,286.6L476,262.6L476,238.6L476,214.6L476,190.6L476,166.6L476,142.6L476,118.6L476,94.6L476,70.6L476,46.6L437.5,46.6L411.6,46.6L410.9,70.6L409.3,94.6L405.9,118.6L408.8,142.6L411.6,166.6L406.8,190.6L399,211.2L394.7,214.6L388,238.6L386.1,262.6L386.6,286.6L392.1,310.6L394.5,334.6L398.2,358.6L399,361.6L411.2,382.6Z"/><path fill="#ebff0c" fill-rule="evenodd" d="M414.7,406.6L437.5,406.6L476,406.6L476,382.6L476,358.6L476,334.6L476,310.6L476,286.6L476,262.6L476,238.6L476,214.6L476,190.6L476,166.6L476,142.6L476,118.6L476,94.6L476,70.6L476,46.6L437.5,46.6L414.2,46.6L413.2,70.6L411.3,94.6L409.3,118.6L410.7,142.6L414.4,166.6L409.5,190.6L400.7,214.6L399,222.6L393.5,238.6L389.8,262.6L387.9,286.6L393.1,310.6L395.4,334.6L399,358.6L399,358.6L413,382.6Z"/><path fill="#f4f802" fill-rule="evenodd" d="M416.3,406.6L437.5,406.6L476,406.6L476,406.6L476,382.6L476,358.6L476,334.6L476,310.6L476,286.6L476,262.6L476,238.6L476,214.6L476,190.6L476,166.6L476,142.6L476,118.6L476,94.6L476,70.6L476,46.6L437.5,46.6L416.7,46.6L415.6,70.6L413.4,94.6L412.7,118.6L412.7,142.6L417.3,166.6L412.1,190.6L404.1,214.6L399,238.6L399,238.6L393.5,262.6L389.2,286.6L394,310.6L396.3,334.6L399,352.6L402.1,358.6L414.7,382.6Z"/><path fill="#fbf100" fill-rule="evenodd" d="M417.8,406.6L437.5,406.6L473.1,406.6L476,404.2L476,382.6L476,358.6L476,334.6L476,310.6L476,286.6L476,262.6L476,238.6L476,214.6L476,190.6L476,166.6L476,142.6L476,118.6L476,94.6L476,78.6L473.8,70.6L473.5,46.6L437.5,46.6L419.2,46.6L418,70.6L415.5,94.6L416.2,118.6L414.6,142.6L420.1,166.6L414.7,190.6L407.6,214.6L402.6,238.6L399,254.6L397.1,262.6L390.5,286.6L395,310.6L397.2,334.6L399,346.6L405.1,358.6L416.5,382.6Z"/><path fill="#ffe600" fill-rule="evenodd" d="M419.4,406.6L437.5,406.6L470.3,406.6L476,401.8L476,382.6L476,358.6L476,334.6L476,310.6L476,286.6L476,262.6L476,238.6L476,214.6L476,190.6L476,174.6L472.6,166.6L474.3,142.6L472.6,118.6L476,94.6L469.4,70.6L468.5,46.6L437.5,46.6L421.8,46.6L420.4,70.6L417.5,94.6L419.6,118.6L416.6,142.6L422.9,166.6L417.3,190.6L411,214.6L406.2,238.6L401,262.6L399,264.6L391.8,286.6L396,310.6L398.1,334.6L399,340.6L408.2,358.6L418.2,382.6Z"/><path fill="#ffde00" fill-rule="evenodd" d="M421,406.6L437.5,406.6L467.4,406.6L476,399.4L476,382.6L476,358.6L476,334.6L476,310.6L476,286.6L476,262.6L476,238.6L476,214.6L476,190.6L476,190.6L465.9,166.6L470.8,142.6L465.9,118.6L472,94.6L464.9,70.6L463.5,46.6L437.5,46.6L424.3,46.6L422.8,70.6L419.6,94.6L423,118.6L418.5,142.6L425.7,166.6L419.9,190.6L414.5,214.6L409.8,238.6L405.1,262.6L399,268.6L393.1,286.6L397,310.6L399,334.6L399,334.6L411.3,358.6L420,382.6Z"/><path fill="#ffd300" fill-rule="evenodd" d="M422.6,406.6L437.5,406.6L464.6,406.6L476,397L476,382.6L476,358.6L476,334.6L476,310.6L476,286.6L476,262.6L476,238.6L476,214.6L476,206.6L470.3,190.6L459.1,166.6L467.4,142.6L459.1,118.6L468.1,94.6L460.5,70.6L458.5,46.6L437.5,46.6L426.8,46.6L425.1,70.6L421.6,94.6L426.5,118.6L420.5,142.6L428.5,166.6L422.6,190.6L417.9,214.6L413.4,238.6L409.1,262.6L399,272.6L394.4,286.6L398,310.6L399,322.6L402.5,334.6L414.4,358.6L421.7,382.6Z"/><path fill="#ffcc00" fill-rule="evenodd" d="M424.1,406.6L437.5,406.6L461.7,406.6L476,394.6L476,382.6L476,358.6L476,334.6L476,310.6L476,286.6L476,262.6L476,238.6L476,220.6L472.3,214.6L464.5,190.6L452.4,166.6L464,142.6L452.4,118.6L464.1,94.6L456.1,70.6L453.5,46.6L437.5,46.6L429.4,46.6L427.5,70.6L423.7,94.6L429.9,118.6L422.4,142.6L431.3,166.6L425.2,190.6L421.3,214.6L417,238.6L413.2,262.6L399,276.6L395.7,286.6L399,310.6L399,310.6L406,334.6L417.5,358.6L423.5,382.6Z"/><path fill="#ffc100" fill-rule="evenodd" d="M425.7,406.6L437.5,406.6L458.9,406.6L476,392.2L476,382.6L476,358.6L476,334.6L476,310.6L476,286.6L476,262.6L476,238.6L476,232.6L464.9,214.6L458.8,190.6L445.6,166.6L460.5,142.6L445.6,118.6L460.1,94.6L451.7,70.6L448.5,46.6L437.5,46.6L431.9,46.6L429.9,70.6L425.8,94.6L433.4,118.6L424.4,142.6L434.1,166.6L427.8,190.6L424.8,214.6L420.6,238.6L417.2,262.6L399,280.6L397,286.6L399,301L403.3,310.6L409.5,334.6L420.5,358.6L425.2,382.6Z"/><path fill="#ffb600" fill-rule="evenodd" d="M427.3,406.6L437.5,406.6L456,406.6L476,389.8L476,382.6L476,358.6L476,334.6L476,310.6L476,286.6L476,262.6L476,250.6L471.4,238.6L457.5,214.6L453,190.6L438.8,166.6L457.1,142.6L438.8,118.6L456.1,94.6L447.2,70.6L443.5,46.6L437.5,46.6L434.4,46.6L432.3,70.6L427.8,94.6L436.8,118.6L426.3,142.6L436.9,166.6L430.4,190.6L428.2,214.6L424.2,238.6L421.3,262.6L399,284.6L398.3,286.6L399,291.4L407.5,310.6L413,334.6L423.6,358.6L427,382.6Z"/><path fill="#ffae00" fill-rule="evenodd" d="M428.8,406.6L437.5,406.6L453.2,406.6L476,387.4L476,382.6L476,358.6L476,334.6L476,310.6L476,286.6L476,265.3L470.5,262.6L462.2,238.6L450.1,214.6L447.3,190.6L437.5,174.3L433,190.6L431.6,214.6L427.8,238.6L425.3,262.6L402.2,286.6L411.8,310.6L416.5,334.6L426.7,358.6L428.7,382.6ZM428.3,142.6L437.5,163.1L453.7,142.6L437.5,122.1ZM429.9,94.6L437.5,114.3L452.2,94.6L442.8,70.6L438.5,46.6L437.5,46.6L437,46.6L434.6,70.6Z"/><path fill="#ffa300" fill-rule="evenodd" d="M430.4,406.6L437.5,406.6L450.3,406.6L476,385L476,382.6L476,358.6L476,334.6L476,310.6L476,286.6L476,270.6L459.5,262.6L453.1,238.6L442.7,214.6L441.5,190.6L437.5,183.9L435.7,190.6L435.1,214.6L431.4,238.6L429.4,262.6L408.6,286.6L416.1,310.6L420,334.6L429.8,358.6L430.5,382.6ZM430.3,142.6L437.5,158.7L450.2,142.6L437.5,126.5ZM431.9,94.6L437.5,109L448.2,94.6L438.4,70.6L437.5,65.8L437,70.6Z"/><path fill="#ff9c00" fill-rule="evenodd" d="M432,406.6L437.5,406.6L447.5,406.6L476,382.6L476,382.6L476,358.6L476,334.6L476,310.6L476,286.6L476,275.9L448.5,262.6L443.9,238.6L437.5,221.8L435,238.6L433.4,262.6L415,286.6L420.4,310.6L423.5,334.6L432.9,358.6L432.2,382.6ZM432.2,142.6L437.5,154.4L446.8,142.6L437.5,130.8ZM434,94.6L437.5,103.7L444.2,94.6L437.5,78.3Z"/><path fill="#ff9100" fill-rule="evenodd" d="M433.6,406.6L437.5,406.6L444.6,406.6L463.2,382.6L476,366.6L476,358.6L476,334.6L476,310.6L476,286.6L476,281.3L437.5,262.6L421.4,286.6L424.7,310.6L427,334.6L435.9,358.6L434,382.6ZM434.2,142.6L437.5,150L443.3,142.6L437.5,135.2ZM436,94.6L437.5,98.3L440.3,94.6L437.5,87.9Z"/><path fill="#ff8900" fill-rule="evenodd" d="M435.1,406.6L437.5,406.6L441.8,406.6L450.3,382.6L437.5,366.6L435.7,382.6ZM430.5,334.6L437.5,353.8L476,350.6L476,334.6L476,310.6L476,286.6L476,286.6L437.5,272.2L427.9,286.6L428.9,310.6ZM436.1,142.6L437.5,145.7L439.9,142.6L437.5,139.5Z"/><path fill="#ff7e00" fill-rule="evenodd" d="M436.7,406.6L437.5,406.6L438.9,406.6L437.5,382.6ZM434,334.6L437.5,344.2L476,334.6L476,334.6L476,310.6L476,302.6L450.3,286.6L437.5,281.8L434.3,286.6L433.2,310.6Z"/></g>
<rect x="90.9" y="46.6" width="385.1" height="360" fill="none" stroke="#000" stroke-width="1.3"/>
<path d="M187.2,406.6v4.6" stroke="#000" stroke-width="1.1"/><text class="t" x="187.2" y="431.9" text-anchor="middle" style="font-size:22px">0.5</text>
<path d="M307.5,406.6v4.6" stroke="#000" stroke-width="1.1"/><text class="t" x="307.5" y="431.9" text-anchor="middle" style="font-size:22px">1.0</text>
<path d="M427.9,406.6v4.6" stroke="#000" stroke-width="1.1"/><text class="t" x="427.9" y="431.9" text-anchor="middle" style="font-size:22px">1.5</text>
<path d="M90.9,343.8h-4.6" stroke="#000" stroke-width="1.1"/><text class="t" x="82.7" y="351.8" text-anchor="end" style="font-size:22px">0.5</text>
<path d="M90.9,265.2h-4.6" stroke="#000" stroke-width="1.1"/><text class="t" x="82.7" y="273.3" text-anchor="end" style="font-size:22px">1.0</text>
<path d="M90.9,186.7h-4.6" stroke="#000" stroke-width="1.1"/><text class="t" x="82.7" y="194.7" text-anchor="end" style="font-size:22px">1.5</text>
<path d="M90.9,108.2h-4.6" stroke="#000" stroke-width="1.1"/><text class="t" x="82.7" y="116.2" text-anchor="end" style="font-size:22px">2.0</text>
<text class="i" x="283.5" y="459.4" text-anchor="middle">θ</text>
<text class="i" transform="translate(37.0,227.1) rotate(-90)" text-anchor="middle">α</text>
<defs><linearGradient id="ga" x1="0" y1="0" x2="0" y2="1"><stop offset="0.0000" stop-color="#800000"/><stop offset="0.0312" stop-color="#9f0000"/><stop offset="0.0625" stop-color="#c40000"/><stop offset="0.0938" stop-color="#e80000"/><stop offset="0.1250" stop-color="#ff1e00"/><stop offset="0.1562" stop-color="#ff3b00"/><stop offset="0.1875" stop-color="#ff5900"/><stop offset="0.2188" stop-color="#ff7700"/><stop offset="0.2500" stop-color="#ff9400"/><stop offset="0.2812" stop-color="#ffb200"/><stop offset="0.3125" stop-color="#ffd000"/><stop offset="0.3438" stop-color="#feed00"/><stop offset="0.3750" stop-color="#e4ff13"/><stop offset="0.4062" stop-color="#caff2c"/><stop offset="0.4375" stop-color="#b1ff46"/><stop offset="0.4688" stop-color="#97ff60"/><stop offset="0.5000" stop-color="#7dff7a"/><stop offset="0.5312" stop-color="#63ff94"/><stop offset="0.5625" stop-color="#49ffad"/><stop offset="0.5938" stop-color="#30ffc7"/><stop offset="0.6250" stop-color="#16ffe1"/><stop offset="0.6562" stop-color="#00e0fb"/><stop offset="0.6875" stop-color="#00c0ff"/><stop offset="0.7188" stop-color="#00a0ff"/><stop offset="0.7500" stop-color="#0080ff"/><stop offset="0.7812" stop-color="#0060ff"/><stop offset="0.8125" stop-color="#0040ff"/><stop offset="0.8438" stop-color="#0020ff"/><stop offset="0.8750" stop-color="#0000ff"/><stop offset="0.9062" stop-color="#0000ed"/><stop offset="0.9375" stop-color="#0000c8"/><stop offset="0.9688" stop-color="#0000a4"/><stop offset="1.0000" stop-color="#000080"/></linearGradient></defs><rect x="499.5" y="46.6" width="18.3" height="360" fill="url(#ga)"/><rect x="499.5" y="46.6" width="18.3" height="360" fill="none" stroke="#000" stroke-width="1.3"/>
<path d="M517.8,391.9h2.8" stroke="#000" stroke-width="0.8"/><path d="M517.8,381.2h2.8" stroke="#000" stroke-width="0.8"/><path d="M517.8,373.6h2.8" stroke="#000" stroke-width="0.8"/><path d="M517.8,367.7h2.8" stroke="#000" stroke-width="0.8"/><path d="M517.8,362.9h2.8" stroke="#000" stroke-width="0.8"/><path d="M517.8,358.9h2.8" stroke="#000" stroke-width="0.8"/><path d="M517.8,355.3h2.8" stroke="#000" stroke-width="0.8"/><path d="M517.8,352.2h2.8" stroke="#000" stroke-width="0.8"/><path d="M517.8,349.4h4.6" stroke="#000" stroke-width="1.1"/><text class="t" x="526.6" y="356.6" style="font-size:22px">10<tspan dy="-8.5" style="font-size:15.4px">−5</tspan></text>
<path d="M517.8,331.1h2.8" stroke="#000" stroke-width="0.8"/><path d="M517.8,320.4h2.8" stroke="#000" stroke-width="0.8"/><path d="M517.8,312.8h2.8" stroke="#000" stroke-width="0.8"/><path d="M517.8,306.9h2.8" stroke="#000" stroke-width="0.8"/><path d="M517.8,302.1h2.8" stroke="#000" stroke-width="0.8"/><path d="M517.8,298.0h2.8" stroke="#000" stroke-width="0.8"/><path d="M517.8,294.5h2.8" stroke="#000" stroke-width="0.8"/><path d="M517.8,291.4h2.8" stroke="#000" stroke-width="0.8"/><path d="M517.8,288.6h4.6" stroke="#000" stroke-width="1.1"/><text class="t" x="526.6" y="295.8" style="font-size:22px">10<tspan dy="-8.5" style="font-size:15.4px">−4</tspan></text>
<path d="M517.8,270.3h2.8" stroke="#000" stroke-width="0.8"/><path d="M517.8,259.6h2.8" stroke="#000" stroke-width="0.8"/><path d="M517.8,252.0h2.8" stroke="#000" stroke-width="0.8"/><path d="M517.8,246.1h2.8" stroke="#000" stroke-width="0.8"/><path d="M517.8,241.3h2.8" stroke="#000" stroke-width="0.8"/><path d="M517.8,237.2h2.8" stroke="#000" stroke-width="0.8"/><path d="M517.8,233.7h2.8" stroke="#000" stroke-width="0.8"/><path d="M517.8,230.6h2.8" stroke="#000" stroke-width="0.8"/><path d="M517.8,227.8h4.6" stroke="#000" stroke-width="1.1"/><text class="t" x="526.6" y="235.0" style="font-size:22px">10<tspan dy="-8.5" style="font-size:15.4px">−3</tspan></text>
<path d="M517.8,209.5h2.8" stroke="#000" stroke-width="0.8"/><path d="M517.8,198.8h2.8" stroke="#000" stroke-width="0.8"/><path d="M517.8,191.2h2.8" stroke="#000" stroke-width="0.8"/><path d="M517.8,185.3h2.8" stroke="#000" stroke-width="0.8"/><path d="M517.8,180.5h2.8" stroke="#000" stroke-width="0.8"/><path d="M517.8,176.4h2.8" stroke="#000" stroke-width="0.8"/><path d="M517.8,172.9h2.8" stroke="#000" stroke-width="0.8"/><path d="M517.8,169.8h2.8" stroke="#000" stroke-width="0.8"/><path d="M517.8,167.0h4.6" stroke="#000" stroke-width="1.1"/><text class="t" x="526.6" y="174.2" style="font-size:22px">10<tspan dy="-8.5" style="font-size:15.4px">−2</tspan></text>
<path d="M517.8,148.7h2.8" stroke="#000" stroke-width="0.8"/><path d="M517.8,138.0h2.8" stroke="#000" stroke-width="0.8"/><path d="M517.8,130.4h2.8" stroke="#000" stroke-width="0.8"/><path d="M517.8,124.5h2.8" stroke="#000" stroke-width="0.8"/><path d="M517.8,119.7h2.8" stroke="#000" stroke-width="0.8"/><path d="M517.8,115.6h2.8" stroke="#000" stroke-width="0.8"/><path d="M517.8,112.1h2.8" stroke="#000" stroke-width="0.8"/><path d="M517.8,109.0h2.8" stroke="#000" stroke-width="0.8"/><path d="M517.8,106.2h4.6" stroke="#000" stroke-width="1.1"/><text class="t" x="526.6" y="113.4" style="font-size:22px">10<tspan dy="-8.5" style="font-size:15.4px">−1</tspan></text>
<path d="M517.8,87.9h2.8" stroke="#000" stroke-width="0.8"/><path d="M517.8,77.2h2.8" stroke="#000" stroke-width="0.8"/><path d="M517.8,69.6h2.8" stroke="#000" stroke-width="0.8"/><path d="M517.8,63.7h2.8" stroke="#000" stroke-width="0.8"/><path d="M517.8,58.9h2.8" stroke="#000" stroke-width="0.8"/><path d="M517.8,54.8h2.8" stroke="#000" stroke-width="0.8"/><path d="M517.8,51.3h2.8" stroke="#000" stroke-width="0.8"/><path d="M517.8,48.2h2.8" stroke="#000" stroke-width="0.8"/><text class="b" x="28.5" y="66">(a)</text>
<g><rect x="655.5" y="52.9" width="385.1" height="360" fill="#000084"/><path fill="#00008d" fill-rule="evenodd" d="M655.5,412.9L694,412.9L732.5,412.9L771,412.9L809.5,412.9L848,412.9L886.6,412.9L925.1,412.9L963.6,412.9L1002.1,412.9L1040.6,412.9L1040.6,388.9L1040.6,364.9L1040.6,340.9L1040.6,316.9L1040.6,292.9L1040.6,268.9L1040.6,244.9L1040.6,220.9L1040.6,196.9L1040.6,172.9L1040.6,148.9L1040.6,124.9L1040.6,100.9L1040.6,76.9L1040.6,52.9L1002.1,52.9L963.6,52.9L925.1,52.9L886.6,52.9L848.6,52.9L848.7,76.9L848.7,100.9L848.8,124.9L848.9,148.9L849.1,172.9L849.6,196.9L851.6,220.9L856.2,244.9L860.9,268.9L860.9,292.9L867.3,316.9L875.6,340.9L848,364.9L848,364.9L848,364.9L809.5,348.9L771,345.8L732.5,355.9L694,354.2L672,364.9L655.5,368.9L655.5,388.9ZM655.5,340.9L655.5,350.5L666.5,340.9L655.5,334ZM655.5,292.9L655.5,298.4L664.4,292.9L655.5,287.4ZM655.5,244.9L655.5,250.4L664.4,244.9L655.5,239.4ZM655.5,148.9L655.5,154.4L664.4,148.9L655.5,143.4ZM655.5,76.9L655.5,82.4L664.4,76.9L655.5,71.4Z"/><path fill="#00009b" fill-rule="evenodd" d="M655.5,412.9L694,412.9L732.5,412.9L771,412.9L809.5,412.9L848,412.9L886.6,412.9L925.1,412.9L963.6,412.9L1002.1,412.9L1040.6,412.9L1040.6,388.9L1040.6,364.9L1040.6,340.9L1040.6,316.9L1040.6,292.9L1040.6,268.9L1040.6,244.9L1040.6,220.9L1040.6,196.9L1040.6,172.9L1040.6,148.9L1040.6,124.9L1040.6,100.9L1040.6,76.9L1040.6,52.9L1002.1,52.9L963.6,52.9L925.1,52.9L886.6,52.9L851.4,52.9L851.7,76.9L852,100.9L852.6,124.9L853.1,148.9L854.5,172.9L857.4,196.9L863.2,220.9L876.4,244.9L886.6,268.9L886.6,268.9L886.6,292.9L888.3,316.9L890.5,340.9L889.3,364.9L886.6,368.3L848,372.9L809.5,364.9L809.5,364.9L771,355.6L748.9,364.9L732.5,370.7L694,370.4L655.5,382.2L655.5,388.9Z"/><path fill="#0000a4" fill-rule="evenodd" d="M655.5,412.9L694,412.9L732.5,412.9L771,412.9L809.5,412.9L848,412.9L886.6,412.9L925.1,412.9L963.6,412.9L1002.1,412.9L1040.6,412.9L1040.6,388.9L1040.6,364.9L1040.6,340.9L1040.6,316.9L1040.6,292.9L1040.6,268.9L1040.6,244.9L1040.6,220.9L1040.6,196.9L1040.6,172.9L1040.6,148.9L1040.6,124.9L1040.6,100.9L1040.6,76.9L1040.6,52.9L1002.1,52.9L963.6,52.9L925.1,52.9L886.6,52.9L854.1,52.9L854.7,76.9L855.3,100.9L856.4,124.9L857.3,148.9L859.8,172.9L865.2,196.9L874.9,220.9L886.6,236.9L887.3,244.9L888.5,268.9L889.3,292.9L891.8,316.9L895.4,340.9L894.8,364.9L886.6,375.2L848,380.9L809.5,374.5L771,365.5L732.5,379L694,379.7L668.3,388.9L655.5,393.7Z"/><path fill="#0000b2" fill-rule="evenodd" d="M655.5,412.9L694,412.9L655.5,403.3ZM694,412.9L732.5,412.9L771,412.9L809.5,412.9L848,412.9L886.6,412.9L925.1,412.9L963.6,412.9L1002.1,412.9L1040.6,412.9L1040.6,388.9L1040.6,364.9L1040.6,340.9L1040.6,316.9L1040.6,292.9L1040.6,268.9L1040.6,244.9L1040.6,220.9L1040.6,196.9L1040.6,172.9L1040.6,148.9L1040.6,124.9L1040.6,100.9L1040.6,76.9L1040.6,52.9L1002.1,52.9L963.6,52.9L925.1,52.9L886.6,52.9L856.9,52.9L857.8,76.9L858.6,100.9L860.1,124.9L861.4,148.9L865.2,172.9L872.9,196.9L886.6,220.9L886.6,220.9L888.8,244.9L890.4,268.9L892.1,292.9L895.3,316.9L900.4,340.9L900.3,364.9L886.6,382L848,388.9L848,388.9L848,388.9L809.5,384.1L771,377.2L732.5,387.2L694,388.9Z"/><path fill="#0000bf" fill-rule="evenodd" d="M713.3,412.9L732.5,412.9L771,412.9L809.5,412.9L848,412.9L886.6,412.9L925.1,412.9L963.6,412.9L1002.1,412.9L1040.6,412.9L1040.6,388.9L1040.6,364.9L1040.6,340.9L1040.6,316.9L1040.6,292.9L1040.6,268.9L1040.6,244.9L1040.6,220.9L1040.6,196.9L1040.6,172.9L1040.6,148.9L1040.6,124.9L1040.6,100.9L1040.6,76.9L1040.6,52.9L1002.1,52.9L963.6,52.9L925.1,52.9L886.6,52.9L859.7,52.9L860.8,76.9L861.9,100.9L863.9,124.9L865.6,148.9L870.5,172.9L880.7,196.9L886.6,207.2L888,220.9L890.3,244.9L892.3,268.9L894.8,292.9L898.8,316.9L905.3,340.9L905.8,364.9L886.6,388.9L886.6,388.9L848,396.9L809.5,394.9L771,388.9L732.5,399.6Z"/><path fill="#0000c8" fill-rule="evenodd" d="M732.5,412.9L771,412.9L809.5,412.9L848,412.9L886.6,412.9L925.1,412.9L963.6,412.9L1002.1,412.9L1040.6,412.9L1040.6,388.9L1040.6,364.9L1040.6,340.9L1040.6,316.9L1040.6,292.9L1040.6,268.9L1040.6,244.9L1040.6,220.9L1040.6,196.9L1040.6,172.9L1040.6,148.9L1040.6,124.9L1040.6,100.9L1040.6,76.9L1040.6,52.9L1002.1,52.9L963.6,52.9L925.1,52.9L886.6,52.9L862.5,52.9L863.8,76.9L865.2,100.9L867.7,124.9L869.8,148.9L875.9,172.9L886.6,194.2L886.9,196.9L889.4,220.9L891.8,244.9L894.3,268.9L897.6,292.9L902.3,316.9L910.3,340.9L911.3,364.9L894.3,388.9L886.6,391.9L848,404.9L809.5,406.9L771,396.9Z"/><path fill="#0000d6" fill-rule="evenodd" d="M751.8,412.9L771,412.9L796.7,412.9L771,404.9ZM848,412.9L886.6,412.9L925.1,412.9L963.6,412.9L1002.1,412.9L1040.6,412.9L1040.6,388.9L1040.6,364.9L1040.6,340.9L1040.6,316.9L1040.6,292.9L1040.6,268.9L1040.6,244.9L1040.6,220.9L1040.6,196.9L1040.6,172.9L1040.6,148.9L1040.6,124.9L1040.6,100.9L1040.6,76.9L1040.6,52.9L1002.1,52.9L963.6,52.9L925.1,52.9L886.6,52.9L865.2,52.9L866.9,76.9L868.5,100.9L871.5,124.9L874,148.9L881.2,172.9L886.6,183.6L888.3,196.9L890.8,220.9L893.4,244.9L896.2,268.9L900.3,292.9L905.8,316.9L915.2,340.9L916.8,364.9L902,388.9L886.6,394.9Z"/><path fill="#0000df" fill-rule="evenodd" d="M854.5,412.9L886.6,412.9L925.1,412.9L963.6,412.9L1002.1,412.9L1040.6,412.9L1040.6,388.9L1040.6,364.9L1040.6,340.9L1040.6,316.9L1040.6,292.9L1040.6,268.9L1040.6,244.9L1040.6,220.9L1040.6,196.9L1040.6,172.9L1040.6,148.9L1040.6,124.9L1040.6,100.9L1040.6,76.9L1040.6,52.9L1002.1,52.9L963.6,52.9L925.1,52.9L886.6,52.9L868,52.9L869.9,76.9L871.7,100.9L875.2,124.9L878.2,148.9L886.6,172.9L886.6,172.9L889.7,196.9L892.3,220.9L894.9,244.9L898.1,268.9L903.1,292.9L909.3,316.9L920.1,340.9L922.3,364.9L909.7,388.9L886.6,397.9Z"/><path fill="#0000ed" fill-rule="evenodd" d="M860.9,412.9L886.6,412.9L925.1,412.9L963.6,412.9L1002.1,412.9L1040.6,412.9L1040.6,388.9L1040.6,364.9L1040.6,340.9L1040.6,316.9L1040.6,292.9L1040.6,268.9L1040.6,244.9L1040.6,220.9L1040.6,196.9L1040.6,172.9L1040.6,148.9L1040.6,124.9L1040.6,100.9L1040.6,76.9L1040.6,52.9L1002.1,52.9L963.6,52.9L925.1,52.9L886.6,52.9L870.8,52.9L872.9,76.9L875,100.9L879,124.9L882.4,148.9L886.6,160.9L888,172.9L891.1,196.9L893.7,220.9L896.4,244.9L900,268.9L905.8,292.9L912.8,316.9L925.1,340.9L925.1,340.9L925.7,364.9L925.1,372.9L917.4,388.9L886.6,400.9Z"/><path fill="#0000f6" fill-rule="evenodd" d="M867.3,412.9L886.6,412.9L925.1,412.9L963.6,412.9L1002.1,412.9L1040.6,412.9L1040.6,388.9L1040.6,364.9L1040.6,340.9L1040.6,316.9L1040.6,292.9L1040.6,268.9L1040.6,244.9L1040.6,220.9L1040.6,196.9L1040.6,172.9L1040.6,148.9L1040.6,124.9L1040.6,100.9L1040.6,76.9L1040.6,52.9L1002.1,52.9L963.6,52.9L925.1,52.9L886.6,52.9L873.5,52.9L875.9,76.9L878.3,100.9L882.8,124.9L886.6,148.9L886.6,148.9L889.5,172.9L892.5,196.9L895.1,220.9L897.9,244.9L902,268.9L908.6,292.9L916.3,316.9L925.1,334L926.3,340.9L927.1,364.9L925.1,388.9L925.1,388.9L886.6,403.9Z"/><path fill="#0000ff" fill-rule="evenodd" d="M873.7,412.9L886.6,412.9L925.1,412.9L963.6,412.9L1002.1,412.9L1040.6,412.9L1040.6,388.9L1040.6,364.9L1040.6,340.9L1040.6,316.9L1040.6,292.9L1040.6,268.9L1040.6,244.9L1040.6,220.9L1040.6,196.9L1040.6,172.9L1040.6,148.9L1040.6,124.9L1040.6,100.9L1040.6,76.9L1040.6,52.9L1002.1,52.9L963.6,52.9L925.1,52.9L886.6,52.9L876.3,52.9L879,76.9L881.6,100.9L886.6,124.9L886.6,124.9L888,148.9L890.9,172.9L893.9,196.9L896.5,220.9L899.4,244.9L903.9,268.9L911.3,292.9L919.8,316.9L925.1,327.2L927.5,340.9L928.4,364.9L928.9,388.9L925.1,393.7L886.6,406.9Z"/><path fill="#0000ff" fill-rule="evenodd" d="M880.1,412.9L886.6,412.9L925.1,412.9L963.6,412.9L1002.1,412.9L1040.6,412.9L1040.6,388.9L1040.6,364.9L1040.6,340.9L1040.6,316.9L1040.6,292.9L1040.6,268.9L1040.6,244.9L1040.6,220.9L1040.6,196.9L1040.6,172.9L1040.6,148.9L1040.6,124.9L1040.6,100.9L1040.6,76.9L1040.6,52.9L1002.1,52.9L963.6,52.9L925.1,52.9L886.6,52.9L879.1,52.9L882,76.9L884.9,100.9L886.6,108.9L888.1,124.9L889.5,148.9L892.4,172.9L895.3,196.9L898,220.9L900.9,244.9L905.8,268.9L914.1,292.9L923.3,316.9L925.1,320.3L928.7,340.9L929.8,364.9L932.8,388.9L925.1,398.5L886.6,409.9Z"/><path fill="#0008ff" fill-rule="evenodd" d="M886.6,412.9L925.1,412.9L963.6,412.9L1002.1,412.9L1040.6,412.9L1040.6,388.9L1040.6,364.9L1040.6,340.9L1040.6,316.9L1040.6,292.9L1040.6,268.9L1040.6,244.9L1040.6,220.9L1040.6,196.9L1040.6,172.9L1040.6,148.9L1040.6,124.9L1040.6,100.9L1040.6,76.9L1040.6,52.9L1002.1,52.9L963.6,52.9L925.1,52.9L886.6,52.9L881.9,52.9L885,76.9L886.6,88.9L887.3,100.9L889.6,124.9L891,148.9L893.8,172.9L896.7,196.9L899.4,220.9L902.4,244.9L907.7,268.9L916.8,292.9L925.1,313.5L925.7,316.9L929.9,340.9L931.2,364.9L936.6,388.9L925.1,403.3Z"/><path fill="#0014ff" fill-rule="evenodd" d="M905.8,412.9L925.1,412.9L963.6,412.9L1002.1,412.9L1040.6,412.9L1040.6,388.9L1040.6,364.9L1040.6,340.9L1040.6,316.9L1040.6,292.9L1040.6,268.9L1040.6,244.9L1040.6,220.9L1040.6,196.9L1040.6,172.9L1040.6,148.9L1040.6,124.9L1040.6,100.9L1040.6,76.9L1040.6,52.9L1002.1,52.9L963.6,52.9L925.1,52.9L886.6,52.9L884.6,52.9L886.6,66.9L887.4,76.9L888.9,100.9L891.1,124.9L892.5,148.9L895.3,172.9L898.1,196.9L900.8,220.9L903.9,244.9L909.7,268.9L919.6,292.9L925.1,306.6L926.9,316.9L931.1,340.9L932.5,364.9L940.5,388.9L925.1,408.1Z"/><path fill="#001cff" fill-rule="evenodd" d="M925.1,412.9L963.6,412.9L1002.1,412.9L1040.6,412.9L1040.6,388.9L1040.6,364.9L1040.6,340.9L1040.6,316.9L1040.6,292.9L1040.6,268.9L1040.6,244.9L1040.6,220.9L1040.6,196.9L1040.6,172.9L1040.6,148.9L1040.6,124.9L1040.6,100.9L1040.6,76.9L1040.6,52.9L1002.1,52.9L963.6,52.9L925.1,52.9L887,52.9L888.9,76.9L890.5,100.9L892.6,124.9L894,148.9L896.7,172.9L899.4,196.9L902.2,220.9L905.4,244.9L911.6,268.9L922.3,292.9L925.1,299.8L928.2,316.9L932.3,340.9L933.9,364.9L944.3,388.9Z"/><path fill="#0028ff" fill-rule="evenodd" d="M928,412.9L963.6,412.9L1002.1,412.9L1040.6,412.9L1040.6,388.9L1040.6,364.9L1040.6,340.9L1040.6,316.9L1040.6,292.9L1040.6,268.9L1040.6,244.9L1040.6,220.9L1040.6,196.9L1040.6,172.9L1040.6,148.9L1040.6,124.9L1040.6,100.9L1040.6,76.9L1040.6,52.9L1002.1,52.9L963.6,52.9L925.1,52.9L888.7,52.9L890.5,76.9L892,100.9L894.1,124.9L895.5,148.9L898.2,172.9L900.8,196.9L903.7,220.9L906.9,244.9L913.5,268.9L925.1,292.9L925.1,292.9L929.4,316.9L933.5,340.9L935.2,364.9L948.2,388.9Z"/><path fill="#0030ff" fill-rule="evenodd" d="M931,412.9L963.6,412.9L1002.1,412.9L1040.6,412.9L1040.6,388.9L1040.6,364.9L1040.6,340.9L1040.6,316.9L1040.6,292.9L1040.6,268.9L1040.6,244.9L1040.6,220.9L1040.6,196.9L1040.6,172.9L1040.6,148.9L1040.6,124.9L1040.6,100.9L1040.6,76.9L1040.6,52.9L1002.1,52.9L963.6,52.9L925.1,52.9L890.3,52.9L892.1,76.9L893.6,100.9L895.6,124.9L897,148.9L899.6,172.9L902.2,196.9L905.1,220.9L908.5,244.9L915.4,268.9L925.1,288.9L926.4,292.9L930.7,316.9L934.7,340.9L936.6,364.9L952,388.9Z"/><path fill="#003cff" fill-rule="evenodd" d="M934,412.9L963.6,412.9L1002.1,412.9L1040.6,412.9L1040.6,388.9L1040.6,364.9L1040.6,340.9L1040.6,316.9L1040.6,292.9L1040.6,268.9L1040.6,244.9L1040.6,220.9L1040.6,196.9L1040.6,172.9L1040.6,148.9L1040.6,124.9L1040.6,100.9L1040.6,76.9L1040.6,52.9L1002.1,52.9L963.6,52.9L925.1,52.9L891.9,52.9L893.7,76.9L895.2,100.9L897.1,124.9L898.5,148.9L901.1,172.9L903.6,196.9L906.5,220.9L910,244.9L917.4,268.9L925.1,284.9L927.8,292.9L931.9,316.9L935.9,340.9L937.9,364.9L955.9,388.9Z"/><path fill="#0044ff" fill-rule="evenodd" d="M936.9,412.9L963.6,412.9L1002.1,412.9L1040.6,412.9L1040.6,388.9L1040.6,364.9L1040.6,340.9L1040.6,316.9L1040.6,292.9L1040.6,268.9L1040.6,244.9L1040.6,220.9L1040.6,196.9L1040.6,172.9L1040.6,148.9L1040.6,124.9L1040.6,100.9L1040.6,76.9L1040.6,52.9L1002.1,52.9L963.6,52.9L925.1,52.9L893.5,52.9L895.3,76.9L896.7,100.9L898.6,124.9L899.9,148.9L902.5,172.9L905,196.9L908,220.9L911.5,244.9L919.3,268.9L925.1,280.9L929.1,292.9L933.1,316.9L937.1,340.9L939.3,364.9L959.7,388.9Z"/><path fill="#0050ff" fill-rule="evenodd" d="M939.9,412.9L963.6,412.9L1002.1,412.9L1040.6,412.9L1040.6,388.9L1040.6,364.9L1040.6,340.9L1040.6,316.9L1040.6,292.9L1040.6,268.9L1040.6,244.9L1040.6,220.9L1040.6,196.9L1040.6,172.9L1040.6,148.9L1040.6,124.9L1040.6,100.9L1040.6,76.9L1040.6,52.9L1002.1,52.9L963.6,52.9L925.1,52.9L895.1,52.9L896.9,76.9L898.3,100.9L900.2,124.9L901.4,148.9L904,172.9L906.4,196.9L909.4,220.9L913,244.9L921.2,268.9L925.1,276.9L930.5,292.9L934.4,316.9L938.3,340.9L940.6,364.9L963.6,388.9L963.6,388.9L963.6,388.9Z"/><path fill="#005cff" fill-rule="evenodd" d="M942.8,412.9L963.6,412.9L1002.1,412.9L1040.6,412.9L1040.6,388.9L1040.6,364.9L1040.6,340.9L1040.6,316.9L1040.6,292.9L1040.6,268.9L1040.6,244.9L1040.6,220.9L1040.6,196.9L1040.6,172.9L1040.6,148.9L1040.6,124.9L1040.6,100.9L1040.6,76.9L1040.6,52.9L1002.1,52.9L963.6,52.9L925.1,52.9L896.8,52.9L898.4,76.9L899.9,100.9L901.7,124.9L902.9,148.9L905.5,172.9L907.8,196.9L910.8,220.9L914.5,244.9L923.1,268.9L925.1,272.9L931.8,292.9L935.6,316.9L939.5,340.9L942,364.9L963.6,387.5L964.8,388.9L963.6,391.9Z"/><path fill="#0064ff" fill-rule="evenodd" d="M945.8,412.9L963.6,412.9L1002.1,412.9L1040.6,412.9L1040.6,388.9L1040.6,364.9L1040.6,340.9L1040.6,316.9L1040.6,292.9L1040.6,268.9L1040.6,244.9L1040.6,220.9L1040.6,196.9L1040.6,172.9L1040.6,148.9L1040.6,124.9L1040.6,100.9L1040.6,76.9L1040.6,52.9L1002.1,52.9L963.6,52.9L925.1,52.9L898.4,52.9L900,76.9L901.4,100.9L903.2,124.9L904.4,148.9L906.9,172.9L909.2,196.9L912.2,220.9L916,244.9L925.1,268.9L925.1,268.9L933.2,292.9L936.9,316.9L940.7,340.9L943.3,364.9L963.6,386.1L966,388.9L963.6,394.9Z"/><path fill="#0070ff" fill-rule="evenodd" d="M948.8,412.9L963.6,412.9L1002.1,412.9L1040.6,412.9L1040.6,388.9L1040.6,364.9L1040.6,340.9L1040.6,316.9L1040.6,292.9L1040.6,268.9L1040.6,244.9L1040.6,220.9L1040.6,196.9L1040.6,172.9L1040.6,148.9L1040.6,124.9L1040.6,100.9L1040.6,76.9L1040.6,52.9L1002.1,52.9L963.6,52.9L925.1,52.9L900,52.9L901.6,76.9L903,100.9L904.7,124.9L905.9,148.9L908.4,172.9L910.6,196.9L913.7,220.9L917.5,244.9L925.1,264.9L926.7,268.9L934.5,292.9L938.1,316.9L941.9,340.9L944.7,364.9L963.6,384.7L967.2,388.9L963.6,397.9Z"/><path fill="#0078ff" fill-rule="evenodd" d="M951.7,412.9L963.6,412.9L1002.1,412.9L1040.6,412.9L1040.6,388.9L1040.6,364.9L1040.6,340.9L1040.6,316.9L1040.6,292.9L1040.6,268.9L1040.6,244.9L1040.6,220.9L1040.6,196.9L1040.6,172.9L1040.6,148.9L1040.6,124.9L1040.6,100.9L1040.6,76.9L1040.6,52.9L1002.1,52.9L963.6,52.9L925.1,52.9L901.6,52.9L903.2,76.9L904.6,100.9L906.2,124.9L907.4,148.9L909.8,172.9L912,196.9L915.1,220.9L919,244.9L925.1,260.9L928.4,268.9L935.9,292.9L939.4,316.9L943.1,340.9L946,364.9L963.6,383.3L968.4,388.9L963.6,400.9Z"/><path fill="#0084ff" fill-rule="evenodd" d="M954.7,412.9L963.6,412.9L1002.1,412.9L1040.6,412.9L1040.6,388.9L1040.6,364.9L1040.6,340.9L1040.6,316.9L1040.6,292.9L1040.6,268.9L1040.6,244.9L1040.6,220.9L1040.6,196.9L1040.6,172.9L1040.6,148.9L1040.6,124.9L1040.6,100.9L1040.6,76.9L1040.6,52.9L1002.1,52.9L963.6,52.9L925.1,52.9L903.2,52.9L904.8,76.9L906.1,100.9L907.7,124.9L908.9,148.9L911.3,172.9L913.4,196.9L916.5,220.9L920.5,244.9L925.1,256.9L930.1,268.9L937.2,292.9L940.6,316.9L944.3,340.9L947.4,364.9L963.6,381.8L969.6,388.9L963.6,403.9Z"/><path fill="#008cff" fill-rule="evenodd" d="M957.7,412.9L963.6,412.9L1002.1,412.9L1040.6,412.9L1040.6,388.9L1040.6,364.9L1040.6,340.9L1040.6,316.9L1040.6,292.9L1040.6,268.9L1040.6,244.9L1040.6,220.9L1040.6,196.9L1040.6,172.9L1040.6,148.9L1040.6,124.9L1040.6,100.9L1040.6,76.9L1040.6,52.9L1002.1,52.9L963.6,52.9L925.1,52.9L904.8,52.9L906.4,76.9L907.7,100.9L909.2,124.9L910.3,148.9L912.7,172.9L914.8,196.9L917.9,220.9L922,244.9L925.1,252.9L931.8,268.9L938.6,292.9L941.8,316.9L945.5,340.9L948.7,364.9L963.6,380.4L970.8,388.9L963.6,406.9Z"/><path fill="#0098ff" fill-rule="evenodd" d="M960.6,412.9L963.6,412.9L1002.1,412.9L1040.6,412.9L1040.6,388.9L1040.6,364.9L1040.6,340.9L1040.6,316.9L1040.6,292.9L1040.6,268.9L1040.6,244.9L1040.6,220.9L1040.6,196.9L1040.6,172.9L1040.6,148.9L1040.6,124.9L1040.6,100.9L1040.6,76.9L1040.6,52.9L1002.1,52.9L963.6,52.9L925.1,52.9L906.5,52.9L908,76.9L909.3,100.9L910.7,124.9L911.8,148.9L914.2,172.9L916.2,196.9L919.4,220.9L923.6,244.9L925.1,248.9L933.4,268.9L939.9,292.9L943.1,316.9L946.7,340.9L950.1,364.9L963.6,379L972,388.9L963.6,409.9Z"/><path fill="#00a0ff" fill-rule="evenodd" d="M963.6,412.9L1002.1,412.9L1040.6,412.9L1040.6,388.9L1040.6,364.9L1040.6,340.9L1040.6,316.9L1040.6,292.9L1040.6,268.9L1040.6,244.9L1040.6,220.9L1040.6,196.9L1040.6,172.9L1040.6,148.9L1040.6,124.9L1040.6,100.9L1040.6,76.9L1040.6,52.9L1002.1,52.9L963.6,52.9L925.1,52.9L908.1,52.9L909.5,76.9L910.8,100.9L912.2,124.9L913.3,148.9L915.6,172.9L917.5,196.9L920.8,220.9L925.1,244.9L925.1,244.9L935.1,268.9L941.3,292.9L944.3,316.9L947.9,340.9L951.4,364.9L963.6,377.6L973.2,388.9Z"/><path fill="#00acff" fill-rule="evenodd" d="M965.1,412.9L1002.1,412.9L1040.6,412.9L1040.6,388.9L1040.6,364.9L1040.6,340.9L1040.6,316.9L1040.6,292.9L1040.6,268.9L1040.6,244.9L1040.6,220.9L1040.6,196.9L1040.6,172.9L1040.6,148.9L1040.6,124.9L1040.6,100.9L1040.6,76.9L1040.6,52.9L1002.1,52.9L963.6,52.9L925.1,52.9L909.7,52.9L911.1,76.9L912.4,100.9L913.7,124.9L914.8,148.9L917.1,172.9L918.9,196.9L922.2,220.9L925.1,236.9L927.3,244.9L936.8,268.9L942.6,292.9L945.6,316.9L949.1,340.9L952.8,364.9L963.6,376.2L974.4,388.9Z"/><path fill="#00b8ff" fill-rule="evenodd" d="M966.7,412.9L1002.1,412.9L1040.6,412.9L1040.6,388.9L1040.6,364.9L1040.6,340.9L1040.6,316.9L1040.6,292.9L1040.6,268.9L1040.6,244.9L1040.6,220.9L1040.6,196.9L1040.6,172.9L1040.6,148.9L1040.6,124.9L1040.6,100.9L1040.6,76.9L1040.6,52.9L1002.1,52.9L963.6,52.9L925.1,52.9L911.3,52.9L912.7,76.9L914,100.9L915.3,124.9L916.3,148.9L918.5,172.9L920.3,196.9L923.6,220.9L925.1,228.9L929.5,244.9L938.5,268.9L944,292.9L946.8,316.9L950.3,340.9L954.1,364.9L963.6,374.8L975.6,388.9Z"/><path fill="#00c0ff" fill-rule="evenodd" d="M968.2,412.9L1002.1,412.9L1040.6,412.9L1040.6,388.9L1040.6,364.9L1040.6,340.9L1040.6,316.9L1040.6,292.9L1040.6,268.9L1040.6,244.9L1040.6,220.9L1040.6,196.9L1040.6,172.9L1040.6,148.9L1040.6,124.9L1040.6,100.9L1040.6,76.9L1040.6,52.9L1002.1,52.9L963.6,52.9L925.1,52.9L912.9,52.9L914.3,76.9L915.5,100.9L916.8,124.9L917.8,148.9L920,172.9L921.7,196.9L925.1,220.9L925.1,220.9L931.7,244.9L940.1,268.9L945.3,292.9L948.1,316.9L951.5,340.9L955.5,364.9L963.6,373.4L976.8,388.9Z"/><path fill="#00ccff" fill-rule="evenodd" d="M969.7,412.9L1002.1,412.9L1040.6,412.9L1040.6,388.9L1040.6,364.9L1040.6,340.9L1040.6,316.9L1040.6,292.9L1040.6,268.9L1040.6,244.9L1040.6,220.9L1040.6,196.9L1040.6,172.9L1040.6,148.9L1040.6,124.9L1040.6,100.9L1040.6,76.9L1040.6,52.9L1002.1,52.9L963.6,52.9L925.1,52.9L914.6,52.9L915.9,76.9L917.1,100.9L918.3,124.9L919.3,148.9L921.4,172.9L923.1,196.9L925.1,210.9L927.6,220.9L933.9,244.9L941.8,268.9L946.7,292.9L949.3,316.9L952.7,340.9L956.8,364.9L963.6,372L978,388.9Z"/><path fill="#00d4ff" fill-rule="evenodd" d="M971.3,412.9L1002.1,412.9L1040.6,412.9L1040.6,388.9L1040.6,364.9L1040.6,340.9L1040.6,316.9L1040.6,292.9L1040.6,268.9L1040.6,244.9L1040.6,220.9L1040.6,196.9L1040.6,172.9L1040.6,148.9L1040.6,124.9L1040.6,100.9L1040.6,76.9L1040.6,52.9L1002.1,52.9L963.6,52.9L925.1,52.9L916.2,52.9L917.5,76.9L918.7,100.9L919.8,124.9L920.8,148.9L922.9,172.9L924.5,196.9L925.1,200.9L930.2,220.9L936.1,244.9L943.5,268.9L948,292.9L950.5,316.9L954,340.9L958.2,364.9L963.6,370.5L979.2,388.9Z"/><path fill="#00e0fb" fill-rule="evenodd" d="M972.8,412.9L1002.1,412.9L1040.6,412.9L1040.6,388.9L1040.6,364.9L1040.6,340.9L1040.6,316.9L1040.6,292.9L1040.6,268.9L1040.6,244.9L1040.6,220.9L1040.6,196.9L1040.6,172.9L1040.6,148.9L1040.6,124.9L1040.6,100.9L1040.6,76.9L1040.6,52.9L1002.1,52.9L963.6,52.9L925.1,52.9L917.8,52.9L919,76.9L920.2,100.9L921.3,124.9L922.2,148.9L924.3,172.9L925.1,183.8L927.1,196.9L932.8,220.9L938.3,244.9L945.2,268.9L949.4,292.9L951.8,316.9L955.2,340.9L959.5,364.9L963.6,369.1L980.4,388.9Z"/><path fill="#02e8f4" fill-rule="evenodd" d="M974.4,412.9L1002.1,412.9L1040.6,412.9L1040.6,388.9L1040.6,364.9L1040.6,340.9L1040.6,316.9L1040.6,292.9L1040.6,268.9L1040.6,244.9L1040.6,220.9L1040.6,196.9L1040.6,172.9L1040.6,148.9L1040.6,124.9L1040.6,100.9L1040.6,76.9L1040.6,52.9L1002.1,52.9L963.6,52.9L925.1,52.9L919.4,52.9L920.6,76.9L921.8,100.9L922.8,124.9L923.7,148.9L925.1,164.3L926.9,172.9L930.5,196.9L935.3,220.9L940.5,244.9L946.8,268.9L950.7,292.9L953,316.9L956.4,340.9L960.9,364.9L963.6,367.7L981.6,388.9Z"/><path fill="#0cf4eb" fill-rule="evenodd" d="M975.9,412.9L1002.1,412.9L1040.6,412.9L1040.6,388.9L1040.6,364.9L1040.6,340.9L1040.6,316.9L1040.6,292.9L1040.6,268.9L1040.6,244.9L1040.6,220.9L1040.6,196.9L1040.6,172.9L1040.6,148.9L1040.6,124.9L1040.6,100.9L1040.6,76.9L1040.6,52.9L1002.1,52.9L963.6,52.9L925.1,52.9L921,52.9L922.2,76.9L923.3,100.9L924.3,124.9L925.1,144.9L925.5,148.9L930.7,172.9L933.9,196.9L937.9,220.9L942.7,244.9L948.5,268.9L952.1,292.9L954.3,316.9L957.6,340.9L962.2,364.9L963.6,366.3L982.8,388.9Z"/><path fill="#16ffe1" fill-rule="evenodd" d="M977.4,412.9L1002.1,412.9L1040.6,412.9L1040.6,388.9L1040.6,364.9L1040.6,340.9L1040.6,316.9L1040.6,292.9L1040.6,268.9L1040.6,244.9L1040.6,220.9L1040.6,196.9L1040.6,172.9L1040.6,148.9L1040.6,124.9L1040.6,100.9L1040.6,76.9L1040.6,52.9L1002.1,52.9L963.6,52.9L925.1,52.9L922.6,52.9L923.8,76.9L924.9,100.9L925.1,104.9L927.4,124.9L929.8,148.9L934.4,172.9L937.2,196.9L940.5,220.9L944.9,244.9L950.2,268.9L953.4,292.9L955.5,316.9L958.8,340.9L963.6,364.9L963.6,364.9L984,388.9Z"/><path fill="#1cffdb" fill-rule="evenodd" d="M979,412.9L1002.1,412.9L1040.6,412.9L1040.6,388.9L1040.6,364.9L1040.6,340.9L1040.6,316.9L1040.6,292.9L1040.6,268.9L1040.6,244.9L1040.6,220.9L1040.6,196.9L1040.6,172.9L1040.6,148.9L1040.6,124.9L1040.6,100.9L1040.6,76.9L1040.6,52.9L1002.1,52.9L963.6,52.9L925.1,52.9L924.3,52.9L925.1,70L926.2,76.9L929.6,100.9L932,124.9L934.2,148.9L938.2,172.9L940.6,196.9L943,220.9L947.1,244.9L951.9,268.9L954.8,292.9L956.7,316.9L960,340.9L963.6,358.9L966.1,364.9L985.2,388.9Z"/><path fill="#26ffd1" fill-rule="evenodd" d="M980.5,412.9L1002.1,412.9L1040.6,412.9L1040.6,388.9L1040.6,364.9L1040.6,340.9L1040.6,316.9L1040.6,292.9L1040.6,268.9L1040.6,244.9L1040.6,220.9L1040.6,196.9L1040.6,172.9L1040.6,148.9L1040.6,124.9L1040.6,100.9L1040.6,76.9L1040.6,52.9L1002.1,52.9L963.6,52.9L928.1,52.9L931.7,76.9L934.6,100.9L936.7,124.9L938.5,148.9L941.9,172.9L944,196.9L945.6,220.9L949.3,244.9L953.5,268.9L956.1,292.9L958,316.9L961.2,340.9L963.6,352.9L968.5,364.9L986.4,388.9Z"/><path fill="#2cffca" fill-rule="evenodd" d="M982.1,412.9L1002.1,412.9L1040.6,412.9L1040.6,388.9L1040.6,364.9L1040.6,340.9L1040.6,316.9L1040.6,292.9L1040.6,268.9L1040.6,244.9L1040.6,220.9L1040.6,196.9L1040.6,172.9L1040.6,148.9L1040.6,124.9L1040.6,100.9L1040.6,76.9L1040.6,52.9L1002.1,52.9L963.6,52.9L934.2,52.9L937.2,76.9L939.6,100.9L941.3,124.9L942.8,148.9L945.6,172.9L947.4,196.9L948.2,220.9L951.5,244.9L955.2,268.9L957.5,292.9L959.2,316.9L962.4,340.9L963.6,346.9L971,364.9L987.6,388.9Z"/><path fill="#36ffc1" fill-rule="evenodd" d="M983.6,412.9L1002.1,412.9L1040.6,412.9L1040.6,388.9L1040.6,364.9L1040.6,340.9L1040.6,316.9L1040.6,292.9L1040.6,268.9L1040.6,244.9L1040.6,220.9L1040.6,196.9L1040.6,172.9L1040.6,148.9L1040.6,124.9L1040.6,100.9L1040.6,76.9L1040.6,52.9L1002.1,52.9L963.6,52.9L940.4,52.9L942.7,76.9L944.6,100.9L945.9,124.9L947.1,148.9L949.4,172.9L950.7,196.9L950.7,220.9L953.7,244.9L956.9,268.9L958.9,292.9L960.5,316.9L963.6,340.9L963.6,340.9L973.5,364.9L988.9,388.9Z"/><path fill="#3cffba" fill-rule="evenodd" d="M985.1,412.9L1002.1,412.9L1040.6,412.9L1040.6,388.9L1040.6,364.9L1040.6,340.9L1040.6,316.9L1040.6,292.9L1040.6,268.9L1040.6,244.9L1040.6,220.9L1040.6,196.9L1040.6,172.9L1040.6,148.9L1040.6,124.9L1040.6,100.9L1040.6,76.9L1040.6,52.9L1002.1,52.9L963.6,52.9L946.5,52.9L948.2,76.9L949.6,100.9L950.6,124.9L951.5,148.9L953.1,172.9L954.1,196.9L953.3,220.9L955.9,244.9L958.6,268.9L960.2,292.9L961.7,316.9L963.6,331.3L966.9,340.9L976,364.9L990.1,388.9Z"/><path fill="#46ffb1" fill-rule="evenodd" d="M986.7,412.9L1002.1,412.9L1040.6,412.9L1040.6,412.9L1040.6,388.9L1040.6,364.9L1040.6,340.9L1040.6,316.9L1040.6,292.9L1040.6,268.9L1040.6,244.9L1040.6,220.9L1040.6,196.9L1040.6,172.9L1040.6,148.9L1040.6,124.9L1040.6,100.9L1040.6,76.9L1040.6,52.9L1002.1,52.9L963.6,52.9L952.6,52.9L953.7,76.9L954.6,100.9L955.2,124.9L955.8,148.9L956.9,172.9L957.5,196.9L955.9,220.9L958.1,244.9L960.2,268.9L961.6,292.9L963,316.9L963.6,321.7L970.3,340.9L978.5,364.9L991.3,388.9Z"/><path fill="#4dffaa" fill-rule="evenodd" d="M988.2,412.9L1002.1,412.9L1036.7,412.9L1040.6,408.9L1040.6,388.9L1040.6,364.9L1040.6,340.9L1040.6,316.9L1040.6,292.9L1040.6,268.9L1040.6,244.9L1040.6,220.9L1040.6,196.9L1040.6,172.9L1040.6,148.9L1040.6,124.9L1040.6,100.9L1040.6,76.9L1040.6,52.9L1002.1,52.9L963.6,52.9L958.7,52.9L959.2,76.9L959.6,100.9L959.9,124.9L960.1,148.9L960.6,172.9L960.9,196.9L958.4,220.9L960.3,244.9L961.9,268.9L962.9,292.9L963.6,304.9L965.7,316.9L973.6,340.9L981,364.9L992.5,388.9Z"/><path fill="#56ffa0" fill-rule="evenodd" d="M989.8,412.9L1002.1,412.9L1032.9,412.9L1040.6,404.9L1040.6,388.9L1040.6,364.9L1040.6,340.9L1040.6,316.9L1040.6,292.9L1040.6,268.9L1040.6,244.9L1040.6,220.9L1040.6,196.9L1040.6,172.9L1040.6,148.9L1040.6,124.9L1040.6,100.9L1040.6,76.9L1040.6,52.9L1002.1,52.9L964.6,52.9L964.6,76.9L964.6,100.9L964.6,124.9L964.6,148.9L964.6,172.9L964.6,196.9L963.6,200.9L961,220.9L962.5,244.9L963.6,268.9L963.6,268.9L966,292.9L970,316.9L977,340.9L983.5,364.9L993.7,388.9Z"/><path fill="#60ff97" fill-rule="evenodd" d="M991.3,412.9L1002.1,412.9L1029,412.9L1040.6,400.9L1040.6,388.9L1040.6,364.9L1040.6,340.9L1040.6,316.9L1040.6,292.9L1040.6,268.9L1040.6,244.9L1040.6,220.9L1040.6,196.9L1040.6,172.9L1040.6,148.9L1040.6,124.9L1040.6,100.9L1040.6,76.9L1040.6,52.9L1002.1,52.9L969.6,52.9L969.6,76.9L969.6,100.9L969.6,124.9L969.6,148.9L969.6,172.9L969.6,196.9L963.6,220.9L966.3,244.9L968.7,268.9L970.8,292.9L974.3,316.9L980.3,340.9L985.9,364.9L994.9,388.9Z"/><path fill="#66ff90" fill-rule="evenodd" d="M992.8,412.9L1002.1,412.9L1025.2,412.9L1040.6,396.9L1040.6,388.9L1040.6,364.9L1040.6,340.9L1040.6,316.9L1040.6,292.9L1040.6,268.9L1040.6,244.9L1040.6,220.9L1040.6,196.9L1040.6,172.9L1040.6,148.9L1040.6,124.9L1040.6,100.9L1040.6,76.9L1040.6,52.9L1002.1,52.9L974.6,52.9L974.6,76.9L974.6,100.9L974.6,124.9L974.6,148.9L974.6,172.9L974.6,196.9L969.5,220.9L971.8,244.9L973.8,268.9L975.6,292.9L978.6,316.9L983.7,340.9L988.4,364.9L996.1,388.9Z"/><path fill="#70ff87" fill-rule="evenodd" d="M994.4,412.9L1002.1,412.9L1021.3,412.9L1040.6,392.9L1040.6,388.9L1040.6,364.9L1040.6,340.9L1040.6,316.9L1040.6,292.9L1040.6,268.9L1040.6,244.9L1040.6,220.9L1040.6,196.9L1040.6,172.9L1040.6,148.9L1040.6,124.9L1040.6,100.9L1040.6,76.9L1040.6,52.9L1002.1,52.9L979.6,52.9L979.6,76.9L979.6,100.9L979.6,124.9L979.6,148.9L979.6,172.9L979.6,196.9L975.4,220.9L977.3,244.9L979,268.9L980.4,292.9L982.8,316.9L987,340.9L990.9,364.9L997.3,388.9Z"/><path fill="#77ff80" fill-rule="evenodd" d="M995.9,412.9L1002.1,412.9L1017.5,412.9L1040.6,388.9L1040.6,388.9L1040.6,364.9L1040.6,340.9L1040.6,316.9L1040.6,292.9L1040.6,268.9L1040.6,244.9L1040.6,220.9L1040.6,196.9L1040.6,172.9L1040.6,148.9L1040.6,124.9L1040.6,100.9L1040.6,76.9L1040.6,52.9L1002.1,52.9L984.6,52.9L984.6,76.9L984.6,100.9L984.6,124.9L984.6,148.9L984.6,172.9L984.6,196.9L981.4,220.9L982.8,244.9L984.1,268.9L985.2,292.9L987.1,316.9L990.4,340.9L993.4,364.9L998.5,388.9Z"/><path fill="#80ff77" fill-rule="evenodd" d="M997.5,412.9L1002.1,412.9L1013.6,412.9L1027.8,388.9L1040.6,372.9L1040.6,364.9L1040.6,340.9L1040.6,316.9L1040.6,292.9L1040.6,268.9L1040.6,244.9L1040.6,220.9L1040.6,196.9L1040.6,172.9L1040.6,148.9L1040.6,124.9L1040.6,100.9L1040.6,76.9L1040.6,52.9L1002.1,52.9L989.6,52.9L989.6,76.9L989.6,100.9L989.6,124.9L989.6,148.9L989.6,172.9L989.6,196.9L987.3,220.9L988.3,244.9L989.3,268.9L990.1,292.9L991.4,316.9L993.7,340.9L995.9,364.9L999.7,388.9Z"/><path fill="#87ff70" fill-rule="evenodd" d="M999,412.9L1002.1,412.9L1009.8,412.9L1014.9,388.9L1031,364.9L1040.6,340.9L1040.6,316.9L1040.6,292.9L1040.6,268.9L1040.6,244.9L1040.6,220.9L1040.6,196.9L1040.6,172.9L1040.6,148.9L1040.6,124.9L1040.6,100.9L1040.6,76.9L1040.6,52.9L1002.1,52.9L994.6,52.9L994.6,76.9L994.6,100.9L994.6,124.9L994.6,148.9L994.6,172.9L994.6,196.9L993.2,220.9L993.8,244.9L994.4,268.9L994.9,292.9L995.7,316.9L997.1,340.9L998.4,364.9L1000.9,388.9Z"/><path fill="#90ff66" fill-rule="evenodd" d="M1000.5,412.9L1002.1,412.9L1005.9,412.9L1002.1,388.9ZM1000.8,364.9L1002.1,388.9L1011.7,364.9L1014.9,340.9L1014.9,316.9L1014.9,292.9L1014.9,268.9L1014.9,244.9L1014.9,220.9L1014.9,196.9L1014.9,172.9L1014.9,148.9L1014.9,124.9L1014.9,100.9L1014.9,76.9L1014.9,52.9L1002.1,52.9L999.6,52.9L999.6,76.9L999.6,100.9L999.6,124.9L999.6,148.9L999.6,172.9L999.6,196.9L999.1,220.9L999.3,244.9L999.5,268.9L999.7,292.9L1000,316.9L1000.4,340.9Z"/></g>
<rect x="655.5" y="52.9" width="385.1" height="360" fill="none" stroke="#000" stroke-width="1.3"/>
<path d="M751.8,412.9v4.6" stroke="#000" stroke-width="1.1"/><text class="t" x="751.8" y="438.2" text-anchor="middle" style="font-size:22px">0.5</text>
<path d="M872.1,412.9v4.6" stroke="#000" stroke-width="1.1"/><text class="t" x="872.1" y="438.2" text-anchor="middle" style="font-size:22px">1.0</text>
<path d="M992.5,412.9v4.6" stroke="#000" stroke-width="1.1"/><text class="t" x="992.5" y="438.2" text-anchor="middle" style="font-size:22px">1.5</text>
<path d="M655.5,350.1h-4.6" stroke="#000" stroke-width="1.1"/><text class="t" x="647.3" y="358.1" text-anchor="end" style="font-size:22px">0.5</text>
<path d="M655.5,271.5h-4.6" stroke="#000" stroke-width="1.1"/><text class="t" x="647.3" y="279.6" text-anchor="end" style="font-size:22px">1.0</text>
<path d="M655.5,193.0h-4.6" stroke="#000" stroke-width="1.1"/><text class="t" x="647.3" y="201.0" text-anchor="end" style="font-size:22px">1.5</text>
<path d="M655.5,114.5h-4.6" stroke="#000" stroke-width="1.1"/><text class="t" x="647.3" y="122.5" text-anchor="end" style="font-size:22px">2.0</text>
<text class="i" x="848.0" y="465.7" text-anchor="middle">θ</text>
<text class="i" transform="translate(601.6,233.4) rotate(-90)" text-anchor="middle">α</text>
<defs><linearGradient id="gb" x1="0" y1="0" x2="0" y2="1"><stop offset="0.0000" stop-color="#800000"/><stop offset="0.0312" stop-color="#9f0000"/><stop offset="0.0625" stop-color="#c40000"/><stop offset="0.0938" stop-color="#e80000"/><stop offset="0.1250" stop-color="#ff1e00"/><stop offset="0.1562" stop-color="#ff3b00"/><stop offset="0.1875" stop-color="#ff5900"/><stop offset="0.2188" stop-color="#ff7700"/><stop offset="0.2500" stop-color="#ff9400"/><stop offset="0.2812" stop-color="#ffb200"/><stop offset="0.3125" stop-color="#ffd000"/><stop offset="0.3438" stop-color="#feed00"/><stop offset="0.3750" stop-color="#e4ff13"/><stop offset="0.4062" stop-color="#caff2c"/><stop offset="0.4375" stop-color="#b1ff46"/><stop offset="0.4688" stop-color="#97ff60"/><stop offset="0.5000" stop-color="#7dff7a"/><stop offset="0.5312" stop-color="#63ff94"/><stop offset="0.5625" stop-color="#49ffad"/><stop offset="0.5938" stop-color="#30ffc7"/><stop offset="0.6250" stop-color="#16ffe1"/><stop offset="0.6562" stop-color="#00e0fb"/><stop offset="0.6875" stop-color="#00c0ff"/><stop offset="0.7188" stop-color="#00a0ff"/><stop offset="0.7500" stop-color="#0080ff"/><stop offset="0.7812" stop-color="#0060ff"/><stop offset="0.8125" stop-color="#0040ff"/><stop offset="0.8438" stop-color="#0020ff"/><stop offset="0.8750" stop-color="#0000ff"/><stop offset="0.9062" stop-color="#0000ed"/><stop offset="0.9375" stop-color="#0000c8"/><stop offset="0.9688" stop-color="#0000a4"/><stop offset="1.0000" stop-color="#000080"/></linearGradient></defs><rect x="1064" y="52.9" width="18.7" height="360" fill="url(#gb)"/><rect x="1064" y="52.9" width="18.7" height="360" fill="none" stroke="#000" stroke-width="1.3"/>
<path d="M1082.7,398.2h2.8" stroke="#000" stroke-width="0.8"/><path d="M1082.7,387.5h2.8" stroke="#000" stroke-width="0.8"/><path d="M1082.7,379.9h2.8" stroke="#000" stroke-width="0.8"/><path d="M1082.7,374.0h2.8" stroke="#000" stroke-width="0.8"/><path d="M1082.7,369.2h2.8" stroke="#000" stroke-width="0.8"/><path d="M1082.7,365.2h2.8" stroke="#000" stroke-width="0.8"/><path d="M1082.7,361.6h2.8" stroke="#000" stroke-width="0.8"/><path d="M1082.7,358.5h2.8" stroke="#000" stroke-width="0.8"/><path d="M1082.7,355.7h4.6" stroke="#000" stroke-width="1.1"/><text class="t" x="1091.5" y="362.9" style="font-size:22px">10<tspan dy="-8.5" style="font-size:15.4px">−5</tspan></text>
<path d="M1082.7,337.4h2.8" stroke="#000" stroke-width="0.8"/><path d="M1082.7,326.7h2.8" stroke="#000" stroke-width="0.8"/><path d="M1082.7,319.1h2.8" stroke="#000" stroke-width="0.8"/><path d="M1082.7,313.2h2.8" stroke="#000" stroke-width="0.8"/><path d="M1082.7,308.4h2.8" stroke="#000" stroke-width="0.8"/><path d="M1082.7,304.3h2.8" stroke="#000" stroke-width="0.8"/><path d="M1082.7,300.8h2.8" stroke="#000" stroke-width="0.8"/><path d="M1082.7,297.7h2.8" stroke="#000" stroke-width="0.8"/><path d="M1082.7,294.9h4.6" stroke="#000" stroke-width="1.1"/><text class="t" x="1091.5" y="302.1" style="font-size:22px">10<tspan dy="-8.5" style="font-size:15.4px">−4</tspan></text>
<path d="M1082.7,276.6h2.8" stroke="#000" stroke-width="0.8"/><path d="M1082.7,265.9h2.8" stroke="#000" stroke-width="0.8"/><path d="M1082.7,258.3h2.8" stroke="#000" stroke-width="0.8"/><path d="M1082.7,252.4h2.8" stroke="#000" stroke-width="0.8"/><path d="M1082.7,247.6h2.8" stroke="#000" stroke-width="0.8"/><path d="M1082.7,243.5h2.8" stroke="#000" stroke-width="0.8"/><path d="M1082.7,240.0h2.8" stroke="#000" stroke-width="0.8"/><path d="M1082.7,236.9h2.8" stroke="#000" stroke-width="0.8"/><path d="M1082.7,234.1h4.6" stroke="#000" stroke-width="1.1"/><text class="t" x="1091.5" y="241.3" style="font-size:22px">10<tspan dy="-8.5" style="font-size:15.4px">−3</tspan></text>
<path d="M1082.7,215.8h2.8" stroke="#000" stroke-width="0.8"/><path d="M1082.7,205.1h2.8" stroke="#000" stroke-width="0.8"/><path d="M1082.7,197.5h2.8" stroke="#000" stroke-width="0.8"/><path d="M1082.7,191.6h2.8" stroke="#000" stroke-width="0.8"/><path d="M1082.7,186.8h2.8" stroke="#000" stroke-width="0.8"/><path d="M1082.7,182.7h2.8" stroke="#000" stroke-width="0.8"/><path d="M1082.7,179.2h2.8" stroke="#000" stroke-width="0.8"/><path d="M1082.7,176.1h2.8" stroke="#000" stroke-width="0.8"/><path d="M1082.7,173.3h4.6" stroke="#000" stroke-width="1.1"/><text class="t" x="1091.5" y="180.5" style="font-size:22px">10<tspan dy="-8.5" style="font-size:15.4px">−2</tspan></text>
<path d="M1082.7,155.0h2.8" stroke="#000" stroke-width="0.8"/><path d="M1082.7,144.3h2.8" stroke="#000" stroke-width="0.8"/><path d="M1082.7,136.7h2.8" stroke="#000" stroke-width="0.8"/><path d="M1082.7,130.8h2.8" stroke="#000" stroke-width="0.8"/><path d="M1082.7,126.0h2.8" stroke="#000" stroke-width="0.8"/><path d="M1082.7,121.9h2.8" stroke="#000" stroke-width="0.8"/><path d="M1082.7,118.4h2.8" stroke="#000" stroke-width="0.8"/><path d="M1082.7,115.3h2.8" stroke="#000" stroke-width="0.8"/><path d="M1082.7,112.5h4.6" stroke="#000" stroke-width="1.1"/><text class="t" x="1091.5" y="119.7" style="font-size:22px">10<tspan dy="-8.5" style="font-size:15.4px">−1</tspan></text>
<path d="M1082.7,94.2h2.8" stroke="#000" stroke-width="0.8"/><path d="M1082.7,83.5h2.8" stroke="#000" stroke-width="0.8"/><path d="M1082.7,75.9h2.8" stroke="#000" stroke-width="0.8"/><path d="M1082.7,70.0h2.8" stroke="#000" stroke-width="0.8"/><path d="M1082.7,65.2h2.8" stroke="#000" stroke-width="0.8"/><path d="M1082.7,61.1h2.8" stroke="#000" stroke-width="0.8"/><path d="M1082.7,57.6h2.8" stroke="#000" stroke-width="0.8"/><path d="M1082.7,54.5h2.8" stroke="#000" stroke-width="0.8"/><text class="b" x="593.5" y="66">(b)</text>
<defs><clipPath id="cc"><rect x="1220.3" y="46.6" width="385.1" height="360"/></clipPath><filter id="fc" color-interpolation-filters="sRGB" filterUnits="userSpaceOnUse" x="1181.8" y="22.6" width="462.1" height="408"><feGaussianBlur stdDeviation="2"/></filter></defs><g clip-path="url(#cc)"><g filter="url(#fc)"><rect x="1181.8" y="22.6" width="462.1" height="408" fill="#000084"/><path fill="#00008d" fill-rule="evenodd" d="M1181.8,430.6L1220.3,430.6L1258.8,430.6L1297.3,430.6L1335.8,430.6L1374.3,430.6L1412.8,430.6L1451.4,430.6L1489.9,430.6L1528.4,430.6L1566.9,430.6L1605.4,430.6L1643.9,430.6L1643.9,406.6L1643.9,382.6L1643.9,358.6L1643.9,334.6L1643.9,310.6L1643.9,286.6L1643.9,262.6L1643.9,238.6L1643.9,214.6L1643.9,190.6L1643.9,166.6L1643.9,142.6L1643.9,118.6L1643.9,94.6L1643.9,70.6L1643.9,46.6L1643.9,22.6L1605.4,22.6L1566.9,22.6L1530,22.6L1530,46.6L1528.4,50.6L1504.3,70.6L1504.3,94.6L1528.4,114.6L1529.9,118.6L1529.7,142.6L1529.4,166.6L1529.2,190.6L1529.4,214.6L1529.5,238.6L1529.3,262.6L1529.1,286.6L1529.1,310.6L1529.1,334.6L1528.4,358.6L1528.4,358.6L1528.4,358.6L1509.1,334.6L1489.9,327.7L1451.4,321.3L1412.8,334.6L1412.8,334.6L1374.3,350.6L1355.1,358.6L1335.8,360.8L1297.3,365.5L1258.8,382.6L1258.8,382.6L1220.3,382.6L1181.8,382.6L1181.8,406.6Z"/><path fill="#00009b" fill-rule="evenodd" d="M1181.8,430.6L1220.3,430.6L1235.1,430.6L1235.1,406.6L1220.3,398.6L1181.8,398.6L1181.8,406.6ZM1266.9,430.6L1297.3,430.6L1335.8,430.6L1374.3,430.6L1412.8,430.6L1451.4,430.6L1489.9,430.6L1528.4,430.6L1566.9,430.6L1605.4,430.6L1643.9,430.6L1643.9,406.6L1643.9,382.6L1643.9,358.6L1643.9,334.6L1643.9,310.6L1643.9,286.6L1643.9,262.6L1643.9,238.6L1643.9,214.6L1643.9,190.6L1643.9,166.6L1643.9,142.6L1643.9,118.6L1643.9,94.6L1643.9,70.6L1643.9,46.6L1605.4,46.6L1605.4,46.6L1605.4,22.6L1566.9,22.6L1538.2,22.6L1538.2,46.6L1528.4,70.6L1528.4,94.6L1537.3,118.6L1536.6,142.6L1534.6,166.6L1533.1,190.6L1534.2,214.6L1535,238.6L1533.9,262.6L1532.9,286.6L1532.9,310.6L1532.5,334.6L1530.8,358.6L1528.4,362.6L1502.7,358.6L1489.9,349.4L1451.4,342.6L1412.8,358.6L1412.8,358.6L1374.3,369.3L1335.8,371.7L1297.3,376.9L1284.5,382.6L1266.9,406.6Z"/><path fill="#0000a4" fill-rule="evenodd" d="M1277.1,430.6L1297.3,430.6L1335.8,430.6L1374.3,430.6L1412.8,430.6L1451.4,430.6L1489.9,430.6L1528.4,430.6L1566.9,430.6L1605.4,430.6L1643.9,430.6L1643.9,406.6L1643.9,382.6L1643.9,358.6L1643.9,334.6L1643.9,310.6L1643.9,286.6L1643.9,262.6L1643.9,238.6L1643.9,214.6L1643.9,190.6L1643.9,166.6L1643.9,142.6L1643.9,118.6L1605.4,118.6L1605.4,118.6L1605.4,94.6L1605.4,70.6L1594.5,46.6L1594.5,22.6L1566.9,22.6L1546.3,22.6L1546.3,46.6L1535,70.6L1534.1,94.6L1544.7,118.6L1543.4,142.6L1539.7,166.6L1537,190.6L1539.1,214.6L1540.4,238.6L1538.5,262.6L1536.7,286.6L1536.7,310.6L1536,334.6L1533.2,358.6L1528.4,366.6L1489.9,366.6L1451.4,358.6L1412.8,374.6L1374.3,382.6L1374.3,382.6L1335.8,382.6L1297.3,387.4L1277.1,406.6Z"/><path fill="#0000b2" fill-rule="evenodd" d="M1287.2,430.6L1297.3,430.6L1335.8,430.6L1374.3,430.6L1412.8,430.6L1451.4,430.6L1489.9,430.6L1528.4,430.6L1566.9,430.6L1605.4,430.6L1643.9,430.6L1643.9,406.6L1643.9,382.6L1643.9,358.6L1605.4,358.6L1605.4,358.6L1603.1,334.6L1602.8,310.6L1602.8,286.6L1602,262.6L1600.9,238.6L1601.7,214.6L1602.7,190.6L1599.3,166.6L1595.9,142.6L1592.5,118.6L1598.7,94.6L1597.4,70.6L1583.5,46.6L1583.5,22.6L1566.9,22.6L1554.5,22.6L1554.5,46.6L1541.6,70.6L1539.8,94.6L1552.2,118.6L1550.2,142.6L1544.9,166.6L1541,190.6L1543.9,214.6L1545.9,238.6L1543.1,262.6L1540.4,286.6L1540.4,310.6L1539.4,334.6L1535.6,358.6L1528.4,370.6L1489.9,382.6L1489.9,382.6L1489.9,382.6L1451.4,374.6L1432.1,382.6L1412.8,384.4L1374.3,386.3L1335.8,387.9L1297.3,397L1287.2,406.6Z"/><path fill="#0000bf" fill-rule="evenodd" d="M1297.3,430.6L1335.8,430.6L1374.3,430.6L1412.8,430.6L1451.4,430.6L1489.9,430.6L1528.4,430.6L1566.9,430.6L1605.4,430.6L1643.9,430.6L1643.9,406.6L1643.9,382.6L1643.9,366.6L1605.4,366.6L1602.4,358.6L1598.6,334.6L1597.7,310.6L1597.7,286.6L1595.3,262.6L1592,238.6L1594.4,214.6L1597.2,190.6L1591.8,166.6L1584,142.6L1579.6,118.6L1592,94.6L1589.4,70.6L1572.6,46.6L1572.6,22.6L1566.9,22.6L1562.6,22.6L1562.6,46.6L1548.2,70.6L1545.5,94.6L1559.6,118.6L1557.1,142.6L1550,166.6L1544.9,190.6L1548.8,214.6L1551.4,238.6L1547.6,262.6L1544.2,286.6L1544.2,310.6L1542.9,334.6L1538,358.6L1528.4,374.6L1502.7,382.6L1489.9,386.6L1451.4,385.3L1412.8,388.1L1374.3,390L1335.8,393.3L1297.3,406.6Z"/><path fill="#0000c8" fill-rule="evenodd" d="M1312.7,430.6L1335.8,430.6L1374.3,430.6L1412.8,430.6L1451.4,430.6L1489.9,430.6L1528.4,430.6L1566.9,430.6L1605.4,430.6L1643.9,430.6L1643.9,406.6L1643.9,382.6L1643.9,374.6L1605.4,374.6L1599.5,358.6L1594,334.6L1592.6,310.6L1592.6,286.6L1588.5,262.6L1583.1,238.6L1587,214.6L1591.8,190.6L1584.2,166.6L1572.1,142.6L1566.9,119.6L1563.9,142.6L1555.2,166.6L1548.9,190.6L1553.6,214.6L1556.9,238.6L1552.2,262.6L1547.9,286.6L1547.9,310.6L1546.3,334.6L1540.4,358.6L1528.4,378.6L1515.5,382.6L1489.9,390.6L1451.4,390.6L1412.8,391.8L1374.3,393.7L1335.8,398.6L1312.7,406.6ZM1551.2,94.6L1566.9,118.4L1585.3,94.6L1581.4,70.6L1566.9,51.6L1554.8,70.6Z"/><path fill="#0000d6" fill-rule="evenodd" d="M1328.1,430.6L1335.8,430.6L1374.3,430.6L1412.8,430.6L1451.4,430.6L1489.9,430.6L1528.4,430.6L1566.9,430.6L1605.4,430.6L1643.9,430.6L1643.9,406.6L1643.9,382.6L1605.4,382.6L1605.4,382.6L1596.5,358.6L1589.5,334.6L1587.5,310.6L1587.5,286.6L1581.8,262.6L1574.2,238.6L1579.7,214.6L1586.4,190.6L1576.6,166.6L1566.9,149.9L1560.3,166.6L1552.8,190.6L1558.5,214.6L1562.4,238.6L1556.8,262.6L1551.7,286.6L1551.7,310.6L1549.8,334.6L1542.8,358.6L1528.4,382.6L1528.4,382.6L1489.9,394.6L1451.4,395.9L1412.8,395.5L1374.3,397.4L1335.8,403.9L1328.1,406.6ZM1556.9,94.6L1566.9,109.7L1578.6,94.6L1573.4,70.6L1566.9,62L1561.5,70.6Z"/><path fill="#0000df" fill-rule="evenodd" d="M1345.5,430.6L1374.3,430.6L1412.8,430.6L1451.4,430.6L1489.9,430.6L1528.4,430.6L1566.9,430.6L1605.4,430.6L1643.9,430.6L1643.9,406.6L1643.9,390.6L1605.4,390.6L1602.8,382.6L1593.6,358.6L1584.9,334.6L1582.4,310.6L1582.4,286.6L1575,262.6L1566.9,241.7L1561.4,262.6L1555.5,286.6L1555.5,310.6L1553.2,334.6L1545.2,358.6L1530.9,382.6L1528.4,383.7L1489.9,398.6L1451.4,401.3L1412.8,399.2L1374.3,401.1L1345.5,406.6ZM1563.3,214.6L1566.9,233.9L1572.3,214.6L1580.9,190.6L1569,166.6L1566.9,162.9L1565.4,166.6L1556.7,190.6ZM1562.7,94.6L1566.9,101L1571.9,94.6L1566.9,75.3Z"/><path fill="#0000ed" fill-rule="evenodd" d="M1364.7,430.6L1374.3,430.6L1412.8,430.6L1451.4,430.6L1451.4,406.6L1412.8,402.9L1374.3,404.8L1364.7,406.6ZM1451.4,430.6L1489.9,430.6L1528.4,430.6L1566.9,430.6L1605.4,430.6L1643.9,430.6L1643.9,406.6L1643.9,398.6L1605.4,398.6L1600.3,382.6L1590.6,358.6L1580.4,334.6L1577.3,310.6L1577.3,286.6L1568.2,262.6L1566.9,259.1L1566,262.6L1559.2,286.6L1559.2,310.6L1556.7,334.6L1547.6,358.6L1533.5,382.6L1528.4,384.9L1489.9,402.6L1451.4,406.6ZM1560.7,190.6L1566.9,211.2L1575.5,190.6L1566.9,174.1Z"/><path fill="#0000f6" fill-rule="evenodd" d="M1489.9,430.6L1528.4,430.6L1566.9,430.6L1605.4,430.6L1605.4,406.6L1597.7,382.6L1587.6,358.6L1575.8,334.6L1572.2,310.6L1572.2,286.6L1566.9,273L1563,286.6L1563,310.6L1560.1,334.6L1550,358.6L1536.1,382.6L1528.4,386L1489.9,406.6ZM1564.6,190.6L1566.9,198.2L1570,190.6L1566.9,184.5Z"/><path fill="#0000ff" fill-rule="evenodd" d="M1492,430.6L1528.4,430.6L1566.9,430.6L1602.8,430.6L1602.8,406.6L1595.1,382.6L1584.7,358.6L1571.3,334.6L1567.1,310.6L1567.1,286.6L1566.9,286.1L1566.7,286.6L1566.7,310.6L1563.6,334.6L1552.4,358.6L1538.6,382.6L1528.4,387.2L1492,406.6Z"/><path fill="#0000ff" fill-rule="evenodd" d="M1494.1,430.6L1528.4,430.6L1566.9,430.6L1600.3,430.6L1600.3,406.6L1592.6,382.6L1581.7,358.6L1566.9,334.8L1554.9,358.6L1541.2,382.6L1528.4,388.3L1494.1,406.6Z"/><path fill="#0008ff" fill-rule="evenodd" d="M1496.3,430.6L1528.4,430.6L1566.9,430.6L1597.7,430.6L1597.7,406.6L1590,382.6L1578.7,358.6L1566.9,339.6L1557.3,358.6L1543.8,382.6L1528.4,389.5L1496.3,406.6Z"/><path fill="#0014ff" fill-rule="evenodd" d="M1498.4,430.6L1528.4,430.6L1566.9,430.6L1595.1,430.6L1595.1,406.6L1587.4,382.6L1575.8,358.6L1566.9,344.3L1559.7,358.6L1546.4,382.6L1528.4,390.6L1498.4,406.6Z"/><path fill="#001cff" fill-rule="evenodd" d="M1500.6,430.6L1528.4,430.6L1566.9,430.6L1592.6,430.6L1592.6,406.6L1584.9,382.6L1572.8,358.6L1566.9,349.1L1562.1,358.6L1548.9,382.6L1528.4,391.7L1500.6,406.6Z"/><path fill="#0028ff" fill-rule="evenodd" d="M1502.7,430.6L1528.4,430.6L1566.9,430.6L1590,430.6L1590,406.6L1582.3,382.6L1569.9,358.6L1566.9,353.8L1564.5,358.6L1551.5,382.6L1528.4,392.9L1502.7,406.6Z"/><path fill="#0030ff" fill-rule="evenodd" d="M1504.8,430.6L1528.4,430.6L1566.9,430.6L1587.4,430.6L1587.4,406.6L1579.7,382.6L1566.9,358.6L1554.1,382.6L1528.4,394L1504.8,406.6Z"/><path fill="#003cff" fill-rule="evenodd" d="M1507,430.6L1528.4,430.6L1566.9,430.6L1584.9,430.6L1584.9,406.6L1577.2,382.6L1566.9,363.4L1556.6,382.6L1528.4,395.2L1507,406.6Z"/><path fill="#0044ff" fill-rule="evenodd" d="M1509.1,430.6L1528.4,430.6L1566.9,430.6L1582.3,430.6L1582.3,406.6L1574.6,382.6L1566.9,368.2L1559.2,382.6L1528.4,396.3L1509.1,406.6Z"/><path fill="#0050ff" fill-rule="evenodd" d="M1511.3,430.6L1528.4,430.6L1566.9,430.6L1579.7,430.6L1579.7,406.6L1572,382.6L1566.9,373L1561.8,382.6L1528.4,397.5L1511.3,406.6Z"/><path fill="#005cff" fill-rule="evenodd" d="M1513.4,430.6L1528.4,430.6L1566.9,430.6L1577.2,430.6L1577.2,406.6L1569.5,382.6L1566.9,377.8L1564.3,382.6L1528.4,398.6L1513.4,406.6Z"/><path fill="#0064ff" fill-rule="evenodd" d="M1515.5,430.6L1528.4,430.6L1566.9,430.6L1574.6,430.6L1574.6,406.6L1566.9,382.6L1528.4,399.7L1515.5,406.6Z"/><path fill="#0070ff" fill-rule="evenodd" d="M1517.7,430.6L1528.4,430.6L1566.9,430.6L1572,430.6L1572,406.6L1566.9,390.6L1528.4,400.9L1517.7,406.6Z"/><path fill="#0078ff" fill-rule="evenodd" d="M1519.8,430.6L1528.4,430.6L1566.9,430.6L1569.5,430.6L1569.5,406.6L1566.9,398.6L1528.4,402L1519.8,406.6Z"/><path fill="#0084ff" fill-rule="evenodd" d="M1522,430.6L1528.4,430.6L1566.9,430.6L1566.9,406.6L1528.4,403.2L1522,406.6Z"/><path fill="#008cff" fill-rule="evenodd" d="M1524.1,430.6L1528.4,430.6L1554.1,430.6L1554.1,406.6L1528.4,404.3L1524.1,406.6Z"/><path fill="#0098ff" fill-rule="evenodd" d="M1526.2,430.6L1528.4,430.6L1541.2,430.6L1541.2,406.6L1528.4,405.5L1526.2,406.6Z"/></g></g>
<rect x="1220.3" y="46.6" width="385.1" height="360" fill="none" stroke="#000" stroke-width="1.3"/>
<path d="M1316.6,406.6v4.6" stroke="#000" stroke-width="1.1"/><text class="t" x="1316.6" y="431.9" text-anchor="middle" style="font-size:22px">0.5</text>
<path d="M1436.9,406.6v4.6" stroke="#000" stroke-width="1.1"/><text class="t" x="1436.9" y="431.9" text-anchor="middle" style="font-size:22px">1.0</text>
<path d="M1557.3,406.6v4.6" stroke="#000" stroke-width="1.1"/><text class="t" x="1557.3" y="431.9" text-anchor="middle" style="font-size:22px">1.5</text>
<path d="M1220.3,343.8h-4.6" stroke="#000" stroke-width="1.1"/><text class="t" x="1212.1" y="351.8" text-anchor="end" style="font-size:22px">0.5</text>
<path d="M1220.3,265.2h-4.6" stroke="#000" stroke-width="1.1"/><text class="t" x="1212.1" y="273.3" text-anchor="end" style="font-size:22px">1.0</text>
<path d="M1220.3,186.7h-4.6" stroke="#000" stroke-width="1.1"/><text class="t" x="1212.1" y="194.7" text-anchor="end" style="font-size:22px">1.5</text>
<path d="M1220.3,108.2h-4.6" stroke="#000" stroke-width="1.1"/><text class="t" x="1212.1" y="116.2" text-anchor="end" style="font-size:22px">2.0</text>
<text class="i" x="1412.8" y="459.4" text-anchor="middle">θ</text>
<text class="i" transform="translate(1166.4,227.1) rotate(-90)" text-anchor="middle">α</text>
<defs><linearGradient id="gc" x1="0" y1="0" x2="0" y2="1"><stop offset="0.0000" stop-color="#800000"/><stop offset="0.0312" stop-color="#9f0000"/><stop offset="0.0625" stop-color="#c40000"/><stop offset="0.0938" stop-color="#e80000"/><stop offset="0.1250" stop-color="#ff1e00"/><stop offset="0.1562" stop-color="#ff3b00"/><stop offset="0.1875" stop-color="#ff5900"/><stop offset="0.2188" stop-color="#ff7700"/><stop offset="0.2500" stop-color="#ff9400"/><stop offset="0.2812" stop-color="#ffb200"/><stop offset="0.3125" stop-color="#ffd000"/><stop offset="0.3438" stop-color="#feed00"/><stop offset="0.3750" stop-color="#e4ff13"/><stop offset="0.4062" stop-color="#caff2c"/><stop offset="0.4375" stop-color="#b1ff46"/><stop offset="0.4688" stop-color="#97ff60"/><stop offset="0.5000" stop-color="#7dff7a"/><stop offset="0.5312" stop-color="#63ff94"/><stop offset="0.5625" stop-color="#49ffad"/><stop offset="0.5938" stop-color="#30ffc7"/><stop offset="0.6250" stop-color="#16ffe1"/><stop offset="0.6562" stop-color="#00e0fb"/><stop offset="0.6875" stop-color="#00c0ff"/><stop offset="0.7188" stop-color="#00a0ff"/><stop offset="0.7500" stop-color="#0080ff"/><stop offset="0.7812" stop-color="#0060ff"/><stop offset="0.8125" stop-color="#0040ff"/><stop offset="0.8438" stop-color="#0020ff"/><stop offset="0.8750" stop-color="#0000ff"/><stop offset="0.9062" stop-color="#0000ed"/><stop offset="0.9375" stop-color="#0000c8"/><stop offset="0.9688" stop-color="#0000a4"/><stop offset="1.0000" stop-color="#000080"/></linearGradient></defs><rect x="1628.3" y="46.6" width="18.7" height="360" fill="url(#gc)"/><rect x="1628.3" y="46.6" width="18.7" height="360" fill="none" stroke="#000" stroke-width="1.3"/>
<path d="M1647.0,391.9h2.8" stroke="#000" stroke-width="0.8"/><path d="M1647.0,381.2h2.8" stroke="#000" stroke-width="0.8"/><path d="M1647.0,373.6h2.8" stroke="#000" stroke-width="0.8"/><path d="M1647.0,367.7h2.8" stroke="#000" stroke-width="0.8"/><path d="M1647.0,362.9h2.8" stroke="#000" stroke-width="0.8"/><path d="M1647.0,358.9h2.8" stroke="#000" stroke-width="0.8"/><path d="M1647.0,355.3h2.8" stroke="#000" stroke-width="0.8"/><path d="M1647.0,352.2h2.8" stroke="#000" stroke-width="0.8"/><path d="M1647.0,349.4h4.6" stroke="#000" stroke-width="1.1"/><text class="t" x="1655.8" y="356.6" style="font-size:22px">10<tspan dy="-8.5" style="font-size:15.4px">−5</tspan></text>
<path d="M1647.0,331.1h2.8" stroke="#000" stroke-width="0.8"/><path d="M1647.0,320.4h2.8" stroke="#000" stroke-width="0.8"/><path d="M1647.0,312.8h2.8" stroke="#000" stroke-width="0.8"/><path d="M1647.0,306.9h2.8" stroke="#000" stroke-width="0.8"/><path d="M1647.0,302.1h2.8" stroke="#000" stroke-width="0.8"/><path d="M1647.0,298.0h2.8" stroke="#000" stroke-width="0.8"/><path d="M1647.0,294.5h2.8" stroke="#000" stroke-width="0.8"/><path d="M1647.0,291.4h2.8" stroke="#000" stroke-width="0.8"/><path d="M1647.0,288.6h4.6" stroke="#000" stroke-width="1.1"/><text class="t" x="1655.8" y="295.8" style="font-size:22px">10<tspan dy="-8.5" style="font-size:15.4px">−4</tspan></text>
<path d="M1647.0,270.3h2.8" stroke="#000" stroke-width="0.8"/><path d="M1647.0,259.6h2.8" stroke="#000" stroke-width="0.8"/><path d="M1647.0,252.0h2.8" stroke="#000" stroke-width="0.8"/><path d="M1647.0,246.1h2.8" stroke="#000" stroke-width="0.8"/><path d="M1647.0,241.3h2.8" stroke="#000" stroke-width="0.8"/><path d="M1647.0,237.2h2.8" stroke="#000" stroke-width="0.8"/><path d="M1647.0,233.7h2.8" stroke="#000" stroke-width="0.8"/><path d="M1647.0,230.6h2.8" stroke="#000" stroke-width="0.8"/><path d="M1647.0,227.8h4.6" stroke="#000" stroke-width="1.1"/><text class="t" x="1655.8" y="235.0" style="font-size:22px">10<tspan dy="-8.5" style="font-size:15.4px">−3</tspan></text>
<path d="M1647.0,209.5h2.8" stroke="#000" stroke-width="0.8"/><path d="M1647.0,198.8h2.8" stroke="#000" stroke-width="0.8"/><path d="M1647.0,191.2h2.8" stroke="#000" stroke-width="0.8"/><path d="M1647.0,185.3h2.8" stroke="#000" stroke-width="0.8"/><path d="M1647.0,180.5h2.8" stroke="#000" stroke-width="0.8"/><path d="M1647.0,176.4h2.8" stroke="#000" stroke-width="0.8"/><path d="M1647.0,172.9h2.8" stroke="#000" stroke-width="0.8"/><path d="M1647.0,169.8h2.8" stroke="#000" stroke-width="0.8"/><path d="M1647.0,167.0h4.6" stroke="#000" stroke-width="1.1"/><text class="t" x="1655.8" y="174.2" style="font-size:22px">10<tspan dy="-8.5" style="font-size:15.4px">−2</tspan></text>
<path d="M1647.0,148.7h2.8" stroke="#000" stroke-width="0.8"/><path d="M1647.0,138.0h2.8" stroke="#000" stroke-width="0.8"/><path d="M1647.0,130.4h2.8" stroke="#000" stroke-width="0.8"/><path d="M1647.0,124.5h2.8" stroke="#000" stroke-width="0.8"/><path d="M1647.0,119.7h2.8" stroke="#000" stroke-width="0.8"/><path d="M1647.0,115.6h2.8" stroke="#000" stroke-width="0.8"/><path d="M1647.0,112.1h2.8" stroke="#000" stroke-width="0.8"/><path d="M1647.0,109.0h2.8" stroke="#000" stroke-width="0.8"/><path d="M1647.0,106.2h4.6" stroke="#000" stroke-width="1.1"/><text class="t" x="1655.8" y="113.4" style="font-size:22px">10<tspan dy="-8.5" style="font-size:15.4px">−1</tspan></text>
<path d="M1647.0,87.9h2.8" stroke="#000" stroke-width="0.8"/><path d="M1647.0,77.2h2.8" stroke="#000" stroke-width="0.8"/><path d="M1647.0,69.6h2.8" stroke="#000" stroke-width="0.8"/><path d="M1647.0,63.7h2.8" stroke="#000" stroke-width="0.8"/><path d="M1647.0,58.9h2.8" stroke="#000" stroke-width="0.8"/><path d="M1647.0,54.8h2.8" stroke="#000" stroke-width="0.8"/><path d="M1647.0,51.3h2.8" stroke="#000" stroke-width="0.8"/><path d="M1647.0,48.2h2.8" stroke="#000" stroke-width="0.8"/><text class="b" x="1157" y="66">(c)</text>
<defs><clipPath id="cd"><rect x="93.9" y="563.4" width="381.5" height="360"/></clipPath><filter id="fd" color-interpolation-filters="sRGB" filterUnits="userSpaceOnUse" x="55.8" y="539.4" width="457.8" height="408"><feGaussianBlur stdDeviation="5"/></filter></defs><g clip-path="url(#cd)"><g filter="url(#fd)"><rect x="55.8" y="539.4" width="457.8" height="408" fill="#0000bb"/><path fill="#0000c4" fill-rule="evenodd" d="M55.8,947.4L93.9,947.4L132.1,947.4L170.2,947.4L208.3,947.4L246.5,947.4L284.6,947.4L322.8,947.4L361,947.4L399.1,947.4L436.6,947.4L436.6,923.4L436.6,899.4L436.6,875.4L437.2,870.6L438.8,875.4L438.5,899.4L438.5,923.4L438.5,947.4L475.4,947.4L513.5,947.4L513.5,923.4L513.5,899.4L513.5,875.4L513.5,851.4L513.5,827.4L513.5,803.4L513.5,779.4L513.5,755.4L513.5,731.4L513.5,707.4L513.5,683.4L513.5,659.4L513.5,635.4L513.5,611.4L513.5,587.4L513.5,563.4L513.5,539.4L475.4,539.4L437.2,539.4L399.1,539.4L361,539.4L322.8,539.4L284.6,539.4L246.5,539.4L208.3,539.4L170.2,539.4L132.1,539.4L93.9,539.4L55.8,539.4L55.8,563.4L55.8,587.4L55.8,611.4L55.8,635.4L55.8,659.4L55.8,683.4L55.8,707.4L55.8,731.4L55.8,755.4L55.8,779.4L55.8,803.4L55.8,827.4L55.8,851.4L55.8,875.4L55.8,899.4L55.8,923.4Z"/><path fill="#0000cd" fill-rule="evenodd" d="M55.8,947.4L93.9,947.4L132.1,947.4L170.2,947.4L208.3,947.4L246.5,947.4L284.6,947.4L322.8,947.4L361,947.4L399.1,947.4L431.5,947.4L431.5,923.4L431.5,899.4L431.5,875.4L434.7,851.4L437.2,832.2L444.9,851.4L451,875.4L448.7,899.4L448.7,923.4L448.7,947.4L475.4,947.4L513.5,947.4L513.5,923.4L513.5,899.4L513.5,875.4L513.5,851.4L513.5,827.4L513.5,803.4L513.5,779.4L513.5,755.4L513.5,731.4L513.5,707.4L513.5,683.4L513.5,659.4L513.5,635.4L513.5,611.4L513.5,587.4L513.5,563.4L513.5,539.4L475.4,539.4L437.2,539.4L399.1,539.4L361,539.4L322.8,539.4L284.6,539.4L246.5,539.4L208.3,539.4L170.2,539.4L132.1,539.4L93.9,539.4L55.8,539.4L55.8,563.4L55.8,587.4L55.8,611.4L55.8,635.4L55.8,659.4L55.8,683.4L55.8,707.4L55.8,731.4L55.8,755.4L55.8,779.4L55.8,803.4L55.8,827.4L55.8,851.4L55.8,875.4L55.8,899.4L55.8,923.4Z"/><path fill="#0000d6" fill-rule="evenodd" d="M55.8,947.4L93.9,947.4L132.1,947.4L170.2,947.4L208.3,947.4L246.5,947.4L284.6,947.4L322.8,947.4L361,947.4L399.1,947.4L426.4,947.4L426.4,923.4L426.4,899.4L426.4,875.4L429.6,851.4L432.8,827.4L432.4,803.4L431.9,779.4L435.6,755.4L437.2,745.8L452.5,755.4L464,779.4L464,803.4L464,827.4L460.1,851.4L463.2,875.4L458.9,899.4L458.9,923.4L458.9,947.4L475.4,947.4L513.5,947.4L513.5,923.4L513.5,899.4L513.5,875.4L513.5,851.4L513.5,827.4L513.5,803.4L513.5,779.4L513.5,755.4L513.5,731.4L513.5,707.4L513.5,683.4L513.5,659.4L513.5,635.4L513.5,611.4L513.5,587.4L513.5,563.4L513.5,539.4L475.4,539.4L437.2,539.4L399.1,539.4L361,539.4L322.8,539.4L284.6,539.4L246.5,539.4L208.3,539.4L170.2,539.4L132.1,539.4L103.4,539.4L103.4,563.4L93.9,571.4L55.8,571.4L55.8,587.4L55.8,611.4L55.8,635.4L55.8,659.4L55.8,683.4L55.8,707.4L55.8,731.4L55.8,755.4L55.8,779.4L55.8,803.4L55.8,827.4L55.8,851.4L55.8,875.4L55.8,899.4L55.8,923.4Z"/><path fill="#0000df" fill-rule="evenodd" d="M55.8,947.4L93.9,947.4L132.1,947.4L170.2,947.4L208.3,947.4L246.5,947.4L284.6,947.4L322.8,947.4L361,947.4L399.1,947.4L421.4,947.4L421.4,923.4L421.4,899.4L421.4,875.4L424.5,851.4L427.7,827.4L426.8,803.4L425.8,779.4L428.8,755.4L431.8,731.4L427.7,707.4L424.5,683.4L424.5,659.4L424.5,635.4L424.5,611.4L424.5,587.4L424.5,563.4L424.5,539.4L399.1,539.4L361,539.4L322.8,539.4L284.6,539.4L246.5,539.4L208.3,539.4L170.2,539.4L132.1,539.4L118.7,539.4L118.7,563.4L93.9,584.2L55.8,584.2L55.8,587.4L55.8,611.4L55.8,635.4L55.8,659.4L55.8,683.4L55.8,707.4L55.8,731.4L55.8,755.4L55.8,779.4L55.8,803.4L55.8,827.4L55.8,851.4L55.8,875.4L55.8,899.4L55.8,923.4ZM361,851.4L361,851.4L356.7,827.4L361,803.4L361,803.4L361,803.4L364.8,827.4L361,851.4ZM469,947.4L475.4,947.4L513.5,947.4L513.5,923.4L513.5,899.4L513.5,875.4L475.4,875.4L469,899.4L469,923.4Z"/><path fill="#0000e8" fill-rule="evenodd" d="M55.8,947.4L93.9,947.4L132.1,947.4L170.2,947.4L208.3,947.4L246.5,947.4L284.6,947.4L322.8,947.4L361,947.4L399.1,947.4L416.3,947.4L416.3,923.4L416.3,899.4L416.3,875.4L419.4,851.4L422.6,827.4L421.3,803.4L419.7,779.4L422,755.4L423.1,731.4L412.5,707.4L404.2,683.4L404.2,659.4L404.2,635.4L404.2,611.4L404.2,587.4L404.2,563.4L404.2,539.4L399.1,539.4L361,539.4L322.8,539.4L284.6,539.4L246.5,539.4L208.3,539.4L170.2,539.4L135.9,539.4L135.9,563.4L132.1,565.8L109.2,587.4L93.9,601.8L55.8,601.8L55.8,611.4L55.8,635.4L55.8,659.4L55.8,683.4L55.8,707.4L55.8,731.4L55.8,755.4L55.8,779.4L55.8,803.4L55.8,827.4L55.8,851.4L55.8,875.4L55.8,899.4L55.8,923.4ZM361,870.6L352.2,851.4L349.9,827.4L353.3,803.4L361,790.6L368.6,803.4L370.9,827.4L368.6,851.4Z"/><path fill="#0000f1" fill-rule="evenodd" d="M55.8,947.4L93.9,947.4L132.1,947.4L170.2,947.4L208.3,947.4L246.5,947.4L284.6,947.4L322.8,947.4L349.5,947.4L349.5,923.4L351.8,899.4L351.8,875.4L343.5,851.4L343.1,827.4L345.7,803.4L358.4,779.4L357.1,755.4L357.1,731.4L353.3,707.4L322.8,688.2L317.3,683.4L317.3,659.4L322.8,654.6L361,654.6L376.2,635.4L391.5,611.4L392.6,587.4L391.5,563.4L391.5,539.4L361,539.4L322.8,539.4L284.6,539.4L246.5,539.4L208.3,539.4L170.2,539.4L166.4,539.4L166.4,563.4L132.1,585L129.5,587.4L109.2,611.4L93.9,630.6L55.8,630.6L55.8,635.4L55.8,659.4L55.8,683.4L55.8,707.4L55.8,731.4L55.8,755.4L55.8,779.4L55.8,803.4L55.8,827.4L55.8,851.4L55.8,875.4L55.8,899.4L55.8,923.4ZM370.1,947.4L399.1,947.4L411.2,947.4L411.2,923.4L411.2,899.4L411.2,875.4L414.4,851.4L417.5,827.4L415.7,803.4L413.6,779.4L415.2,755.4L414.4,731.4L399.1,709L363.5,731.4L362.9,755.4L362.9,779.4L376.2,803.4L377,827.4L376.2,851.4L370.1,875.4L370.1,899.4L370.1,923.4Z"/><path fill="#0000fa" fill-rule="evenodd" d="M55.8,947.4L93.9,947.4L132.1,947.4L170.2,947.4L208.3,947.4L246.5,947.4L284.6,947.4L322.8,947.4L334.2,947.4L334.2,923.4L339.6,899.4L339.6,875.4L334.8,851.4L336.4,827.4L338.1,803.4L338.1,779.4L326.6,755.4L326.6,731.4L322.8,726.6L307.5,707.4L284.6,689.4L277,683.4L280.8,659.4L269.4,635.4L269.4,611.4L269.4,587.4L246.5,573L208.3,573L170.2,580.2L158.8,587.4L147.3,611.4L132.1,621L120.6,635.4L109.2,659.4L109.2,683.4L93.9,687.1L55.8,687.1L55.8,707.4L55.8,731.4L55.8,755.4L55.8,779.4L55.8,803.4L55.8,827.4L55.8,851.4L55.8,875.4L55.8,899.4L55.8,923.4ZM382.3,947.4L399.1,947.4L406.1,947.4L406.1,923.4L406.1,899.4L406.1,875.4L409.3,851.4L412.5,827.4L410.2,803.4L407.5,779.4L408.4,755.4L405.6,731.4L399.1,721.8L383.8,731.4L378.1,755.4L378.1,779.4L383.8,803.4L383.1,827.4L383.8,851.4L382.3,875.4L382.3,899.4L382.3,923.4ZM330.4,611.4L361,630.6L381.3,611.4L383.8,587.4L381.3,563.4L381.3,539.4L361,539.4L330.4,539.4L330.4,563.4L328.9,587.4Z"/><path fill="#0000ff" fill-rule="evenodd" d="M55.8,947.4L93.9,947.4L132.1,947.4L170.2,947.4L208.3,947.4L246.5,947.4L284.6,947.4L307.5,947.4L307.5,923.4L322.8,913.8L327.4,899.4L327.4,875.4L326.1,851.4L329.6,827.4L330.4,803.4L322.8,784.2L320.6,779.4L305,755.4L296.1,731.4L284.6,717L277,707.4L246.5,683.4L208.3,683.4L170.2,683.4L132.1,692.6L93.9,701.9L55.8,701.9L55.8,707.4L55.8,731.4L55.8,755.4L55.8,779.4L55.8,803.4L55.8,827.4L55.8,851.4L55.8,875.4L55.8,899.4L55.8,923.4ZM394.5,947.4L399.1,947.4L401,947.4L401,923.4L401,899.4L401,875.4L404.2,851.4L407.4,827.4L404.6,803.4L401.4,779.4L401.6,755.4L399.1,741L393.4,755.4L393.4,779.4L391.5,803.4L389.2,827.4L391.5,851.4L394.5,875.4L394.5,899.4L394.5,923.4ZM221.1,659.4L246.5,683.4L265.6,659.4L246.5,643.4ZM345.7,611.4L361,621L371.1,611.4L375.1,587.4L371.1,563.4L371.1,539.4L361,539.4L345.7,539.4L345.7,563.4L341.1,587.4Z"/><path fill="#0000ff" fill-rule="evenodd" d="M55.8,947.4L93.9,947.4L132.1,947.4L170.2,947.4L208.3,947.4L208.3,923.4L208.3,923.4L246.5,899.4L246.5,899.4L284.6,875.4L284.6,851.4L284.6,827.4L284.6,827.4L322.8,803.4L311.9,779.4L284.6,755.4L284.6,755.4L246.5,731.4L246.5,731.4L208.3,707.4L208.3,707.4L170.2,698.2L132.1,707.4L132.1,707.4L93.9,731.4L93.9,731.4L55.8,731.4L55.8,755.4L55.8,779.4L55.8,803.4L55.8,827.4L55.8,851.4L55.8,875.4L55.8,899.4L55.8,923.4ZM395.3,827.4L399.1,851.4L402.3,827.4L399.1,803.4ZM241.4,659.4L246.5,664.2L250.3,659.4L246.5,656.2ZM353.3,587.4L361,611.4L366.4,587.4L361,563.4Z"/><path fill="#0004ff" fill-rule="evenodd" d="M116.8,851.4L132.1,861L170.2,868.2L208.3,861L223.6,851.4L246.5,844.2L264.3,827.4L261.8,803.4L284.6,799.8L303.2,779.4L284.6,763.1L246.5,769.8L241.9,755.4L216,731.4L208.3,726.6L170.2,712.2L132.1,726.6L124.4,731.4L93.9,741L55.8,741L55.8,755.4L55.8,779.4L55.8,803.4L55.8,827.4L55.8,837L93.9,837Z"/><path fill="#000cff" fill-rule="evenodd" d="M116.8,827.4L132.1,837L170.2,849.8L208.3,837L238.9,827.4L237.3,803.4L240,779.4L229.7,755.4L208.3,738.6L185.5,731.4L170.2,725L154.9,731.4L132.1,736.2L93.9,750.6L55.8,750.6L55.8,755.4L55.8,779.4L55.8,803.4L55.7,817.8L93.9,817.8ZM261.8,779.4L284.6,790.2L294.5,779.4L284.6,770.8Z"/><path fill="#0014ff" fill-rule="evenodd" d="M147.3,827.4L170.2,837L193.1,827.4L208.3,821L225.1,803.4L231.2,779.4L217.5,755.4L208.3,748.2L170.2,734.1L132.1,742.6L101.5,755.4L93.9,765L55.8,765L55.8,779.4L55.8,803.4L55.8,805L93.9,805L132.1,823.6ZM282.1,779.4L284.6,780.6L285.7,779.4L284.6,778.4Z"/><path fill="#001cff" fill-rule="evenodd" d="M107.3,803.4L132.1,815.9L170.2,825.5L208.3,808.2L212.9,803.4L222.5,779.4L208.3,758.6L205.3,755.4L170.2,739.6L132.1,749L116.8,755.4L97,779.4Z"/><path fill="#0024ff" fill-rule="evenodd" d="M122.5,803.4L132.1,808.2L170.2,817.8L198.8,803.4L208.3,791.4L213.8,779.4L208.3,771.4L193.1,755.4L170.2,745.1L132.1,755.4L132.1,755.4L109.2,779.4Z"/><path fill="#0030ff" fill-rule="evenodd" d="M143.5,803.4L170.2,810.1L183.6,803.4L205.1,779.4L180.9,755.4L170.2,750.6L152.4,755.4L132.1,768.2L121.4,779.4L132.1,796.2Z"/><path fill="#0038ff" fill-rule="evenodd" d="M133.6,779.4L170.2,802.4L196.4,779.4L170.2,756.4Z"/><path fill="#0040ff" fill-rule="evenodd" d="M145.8,779.4L170.2,794.8L187.6,779.4L170.2,764Z"/><path fill="#0048ff" fill-rule="evenodd" d="M158,779.4L170.2,787.1L178.9,779.4L170.2,771.7Z"/></g></g>
<rect x="93.9" y="563.4" width="381.5" height="360" fill="none" stroke="#000" stroke-width="1.3"/>
<path d="M189.3,923.4v4.6" stroke="#000" stroke-width="1.1"/><text class="t" x="189.3" y="948.7" text-anchor="middle" style="font-size:22px">0.5</text>
<path d="M308.5,923.4v4.6" stroke="#000" stroke-width="1.1"/><text class="t" x="308.5" y="948.7" text-anchor="middle" style="font-size:22px">1.0</text>
<path d="M427.7,923.4v4.6" stroke="#000" stroke-width="1.1"/><text class="t" x="427.7" y="948.7" text-anchor="middle" style="font-size:22px">1.5</text>
<path d="M93.9,860.6h-4.6" stroke="#000" stroke-width="1.1"/><text class="t" x="85.7" y="868.6" text-anchor="end" style="font-size:22px">0.5</text>
<path d="M93.9,782.0h-4.6" stroke="#000" stroke-width="1.1"/><text class="t" x="85.7" y="790.1" text-anchor="end" style="font-size:22px">1.0</text>
<path d="M93.9,703.5h-4.6" stroke="#000" stroke-width="1.1"/><text class="t" x="85.7" y="711.5" text-anchor="end" style="font-size:22px">1.5</text>
<path d="M93.9,625.0h-4.6" stroke="#000" stroke-width="1.1"/><text class="t" x="85.7" y="633.0" text-anchor="end" style="font-size:22px">2.0</text>
<text class="i" x="284.6" y="976.2" text-anchor="middle">θ</text>
<text class="i" transform="translate(40.0,743.9) rotate(-90)" text-anchor="middle">α</text>
<rect x="498.6" y="916.20" width="18.3" height="7.70" fill="#000089"/><rect x="498.6" y="909.00" width="18.3" height="7.70" fill="#00009f"/><rect x="498.6" y="901.80" width="18.3" height="7.70" fill="#0000b6"/><rect x="498.6" y="894.60" width="18.3" height="7.70" fill="#0000cd"/><rect x="498.6" y="887.40" width="18.3" height="7.70" fill="#0000e8"/><rect x="498.6" y="880.20" width="18.3" height="7.70" fill="#0000ff"/><rect x="498.6" y="873.00" width="18.3" height="7.70" fill="#0004ff"/><rect x="498.6" y="865.80" width="18.3" height="7.70" fill="#0018ff"/><rect x="498.6" y="858.60" width="18.3" height="7.70" fill="#002cff"/><rect x="498.6" y="851.40" width="18.3" height="7.70" fill="#0040ff"/><rect x="498.6" y="844.20" width="18.3" height="7.70" fill="#0054ff"/><rect x="498.6" y="837.00" width="18.3" height="7.70" fill="#0068ff"/><rect x="498.6" y="829.80" width="18.3" height="7.70" fill="#0080ff"/><rect x="498.6" y="822.60" width="18.3" height="7.70" fill="#0094ff"/><rect x="498.6" y="815.40" width="18.3" height="7.70" fill="#00a8ff"/><rect x="498.6" y="808.20" width="18.3" height="7.70" fill="#00bcff"/><rect x="498.6" y="801.00" width="18.3" height="7.70" fill="#00d0ff"/><rect x="498.6" y="793.80" width="18.3" height="7.70" fill="#00e4f8"/><rect x="498.6" y="786.60" width="18.3" height="7.70" fill="#0ff8e7"/><rect x="498.6" y="779.40" width="18.3" height="7.70" fill="#1fffd7"/><rect x="498.6" y="772.20" width="18.3" height="7.70" fill="#30ffc7"/><rect x="498.6" y="765.00" width="18.3" height="7.70" fill="#43ffb4"/><rect x="498.6" y="757.80" width="18.3" height="7.70" fill="#53ffa4"/><rect x="498.6" y="750.60" width="18.3" height="7.70" fill="#63ff94"/><rect x="498.6" y="743.40" width="18.3" height="7.70" fill="#73ff83"/><rect x="498.6" y="736.20" width="18.3" height="7.70" fill="#83ff73"/><rect x="498.6" y="729.00" width="18.3" height="7.70" fill="#94ff63"/><rect x="498.6" y="721.80" width="18.3" height="7.70" fill="#a4ff53"/><rect x="498.6" y="714.60" width="18.3" height="7.70" fill="#b4ff43"/><rect x="498.6" y="707.40" width="18.3" height="7.70" fill="#c7ff30"/><rect x="498.6" y="700.20" width="18.3" height="7.70" fill="#d7ff1f"/><rect x="498.6" y="693.00" width="18.3" height="7.70" fill="#e7ff0f"/><rect x="498.6" y="685.80" width="18.3" height="7.70" fill="#f8f500"/><rect x="498.6" y="678.60" width="18.3" height="7.70" fill="#ffe200"/><rect x="498.6" y="671.40" width="18.3" height="7.70" fill="#ffd000"/><rect x="498.6" y="664.20" width="18.3" height="7.70" fill="#ffbd00"/><rect x="498.6" y="657.00" width="18.3" height="7.70" fill="#ffab00"/><rect x="498.6" y="649.80" width="18.3" height="7.70" fill="#ff9400"/><rect x="498.6" y="642.60" width="18.3" height="7.70" fill="#ff8200"/><rect x="498.6" y="635.40" width="18.3" height="7.70" fill="#ff6f00"/><rect x="498.6" y="628.20" width="18.3" height="7.70" fill="#ff5d00"/><rect x="498.6" y="621.00" width="18.3" height="7.70" fill="#ff4a00"/><rect x="498.6" y="613.80" width="18.3" height="7.70" fill="#ff3800"/><rect x="498.6" y="606.60" width="18.3" height="7.70" fill="#ff2500"/><rect x="498.6" y="599.40" width="18.3" height="7.70" fill="#ff1300"/><rect x="498.6" y="592.20" width="18.3" height="7.70" fill="#e80000"/><rect x="498.6" y="585.00" width="18.3" height="7.70" fill="#cd0000"/><rect x="498.6" y="577.80" width="18.3" height="7.70" fill="#b60000"/><rect x="498.6" y="570.60" width="18.3" height="7.70" fill="#9f0000"/><rect x="498.6" y="563.40" width="18.3" height="7.70" fill="#890000"/><rect x="498.6" y="563.4" width="18.3" height="360" fill="none" stroke="#000" stroke-width="1.3"/>
<path d="M516.9,923.4h4.6" stroke="#000" stroke-width="1.1"/><text class="t" x="525.7" y="932.2" style="font-size:22px">0</text>
<path d="M516.9,880.2h4.6" stroke="#000" stroke-width="1.1"/><text class="t" x="525.7" y="889.0" style="font-size:22px">600</text>
<path d="M516.9,837.0h4.6" stroke="#000" stroke-width="1.1"/><text class="t" x="525.7" y="845.8" style="font-size:22px">1200</text>
<path d="M516.9,793.8h4.6" stroke="#000" stroke-width="1.1"/><text class="t" x="525.7" y="802.6" style="font-size:22px">1800</text>
<path d="M516.9,750.6h4.6" stroke="#000" stroke-width="1.1"/><text class="t" x="525.7" y="759.4" style="font-size:22px">2400</text>
<path d="M516.9,707.4h4.6" stroke="#000" stroke-width="1.1"/><text class="t" x="525.7" y="716.2" style="font-size:22px">3000</text>
<path d="M516.9,664.2h4.6" stroke="#000" stroke-width="1.1"/><text class="t" x="525.7" y="673.0" style="font-size:22px">3600</text>
<path d="M516.9,621.0h4.6" stroke="#000" stroke-width="1.1"/><text class="t" x="525.7" y="629.8" style="font-size:22px">4200</text>
<path d="M516.9,577.8h4.6" stroke="#000" stroke-width="1.1"/><text class="t" x="525.7" y="586.6" style="font-size:22px">4800</text>
<text class="b" x="28.5" y="580">(d)</text>
<defs><clipPath id="ce"><rect x="655.7" y="563.4" width="381.5" height="360"/></clipPath><filter id="fe" color-interpolation-filters="sRGB" filterUnits="userSpaceOnUse" x="617.6" y="539.4" width="457.8" height="408"><feGaussianBlur stdDeviation="0.45"/></filter></defs><g clip-path="url(#ce)"><g filter="url(#fe)"><rect x="617.6" y="539.4" width="457.8" height="408" fill="#0000cd"/><path fill="#0000d6" fill-rule="evenodd" d="M617.6,947.4L655.7,947.4L693.9,947.4L732,947.4L770.2,947.4L808.3,947.4L846.5,947.4L884.6,947.4L922.8,947.4L960.9,947.4L998.8,947.4L998.8,923.4L998.9,899.4L998.9,875.4L998.9,851.4L998.8,827.4L998.8,803.4L998.1,779.4L997.9,755.4L997.7,731.4L997.6,707.4L998.6,683.4L999,673.8L1000.3,683.4L1003.5,707.4L1003.5,731.4L1003.9,755.4L1003.2,779.4L1000.1,803.4L1000,827.4L1000,851.4L999.9,875.4L999.6,899.4L999.3,923.4L999.3,947.4L1037.2,947.4L1075.3,947.4L1075.3,923.4L1075.3,899.4L1075.3,875.4L1075.3,851.4L1075.3,827.4L1075.3,803.4L1075.3,779.4L1075.3,755.4L1075.3,731.4L1075.3,707.4L1075.3,683.4L1075.3,659.4L1075.3,635.4L1075.3,611.4L1075.3,587.4L1075.3,563.4L1075.3,539.4L1037.2,539.4L999,539.4L960.9,539.4L922.8,539.4L884.6,539.4L846.5,539.4L808.3,539.4L770.2,539.4L732,539.4L693.9,539.4L657.2,539.4L657.2,563.4L655.7,566.6L617.6,566.6L617.6,587.4L617.6,611.4L617.6,635.4L617.6,659.4L617.6,683.4L617.6,707.4L617.6,731.4L617.6,755.4L617.6,779.4L617.6,803.4L617.6,827.4L617.6,851.4L617.6,875.4L617.6,899.4L617.6,923.4ZM999,635.4L999,635.4L999,635.4L999,635.4Z"/><path fill="#0000df" fill-rule="evenodd" d="M617.6,947.4L655.7,947.4L693.9,947.4L732,947.4L770.2,947.4L808.3,947.4L846.5,947.4L884.6,947.4L922.8,947.4L960.9,947.4L998,947.4L998,923.4L998.1,899.4L998.1,875.4L998.1,851.4L997.8,827.4L997.6,803.4L997,779.4L996.5,755.4L996.1,731.4L995.9,707.4L996.7,683.4L998.2,659.4L996.8,635.4L997.1,611.4L998.3,587.4L999,563.4L999,539.4L960.9,539.4L922.8,539.4L884.6,539.4L846.5,539.4L808.3,539.4L770.2,539.4L732,539.4L693.9,539.4L663.3,539.4L663.3,563.4L655.7,579.4L617.6,579.4L617.6,587.4L617.6,611.4L617.6,635.4L617.6,659.4L617.6,683.4L617.6,707.4L617.6,731.4L617.6,755.4L617.6,779.4L617.6,803.4L617.6,827.4L617.6,851.4L617.6,875.4L617.6,899.4L617.6,923.4ZM1000.4,947.4L1037.2,947.4L1075.3,947.4L1075.3,923.4L1075.3,899.4L1075.3,875.4L1075.3,851.4L1075.3,827.4L1075.3,803.4L1075.3,779.4L1075.3,755.4L1075.3,731.4L1075.3,707.4L1075.3,683.4L1075.3,659.4L1075.3,635.4L1075.3,611.4L1075.3,587.4L1075.3,563.4L1075.3,539.4L1037.2,539.4L999,539.4L999,563.4L1000.9,587.4L1002.9,611.4L1004.3,635.4L1002.5,659.4L1005.4,683.4L1008.6,707.4L1008.6,731.4L1009.5,755.4L1007.9,779.4L1004.5,803.4L1003.6,827.4L1003.6,851.4L1003.3,875.4L1001.6,899.4L1000.4,923.4Z"/><path fill="#0000e8" fill-rule="evenodd" d="M617.6,947.4L655.7,947.4L693.9,947.4L732,947.4L770.2,947.4L808.3,947.4L846.5,947.4L884.6,947.4L922.8,947.4L960.9,947.4L997.1,947.4L997.1,923.4L997.3,899.4L997.4,875.4L997.3,851.4L996.8,827.4L996.4,803.4L995.9,779.4L995.1,755.4L994.5,731.4L994.3,707.4L994.8,683.4L996.7,659.4L994.6,635.4L994,611.4L995.1,587.4L995.8,563.4L995.8,539.4L960.9,539.4L922.8,539.4L884.6,539.4L846.5,539.4L808.3,539.4L770.2,539.4L732,539.4L693.9,539.4L669.4,539.4L669.4,563.4L657.6,587.4L655.7,594.6L617.6,594.6L617.6,611.4L617.6,635.4L617.6,659.4L617.6,683.4L617.6,707.4L617.6,731.4L617.6,755.4L617.6,779.4L617.6,803.4L617.6,827.4L617.6,851.4L617.6,875.4L617.6,899.4L617.6,923.4ZM1001.5,947.4L1037.2,947.4L1075.3,947.4L1075.3,923.4L1075.3,899.4L1075.3,875.4L1075.3,851.4L1075.3,827.4L1075.3,803.4L1075.3,779.4L1075.3,755.4L1075.3,731.4L1075.3,707.4L1075.3,683.4L1075.3,659.4L1075.3,635.4L1075.3,611.4L1075.3,587.4L1075.3,563.4L1075.3,539.4L1037.2,539.4L1005.8,539.4L1005.8,563.4L1008.1,587.4L1009,611.4L1009.6,635.4L1008.1,659.4L1010.5,683.4L1013.7,707.4L1013.7,731.4L1015,755.4L1012.5,779.4L1008.9,803.4L1007.3,827.4L1007.3,851.4L1006.6,875.4L1003.7,899.4L1001.5,923.4Z"/><path fill="#0000f1" fill-rule="evenodd" d="M617.6,947.4L655.7,947.4L693.9,947.4L732,947.4L770.2,947.4L808.3,947.4L846.5,947.4L884.6,947.4L922.8,947.4L960.9,947.4L996.2,947.4L996.2,923.4L996.5,899.4L996.7,875.4L996.5,851.4L995.8,827.4L995.3,803.4L994.9,779.4L993.7,755.4L992.9,731.4L992.6,707.4L993,683.4L995.3,659.4L992.3,635.4L991,611.4L991.9,587.4L992.6,563.4L992.6,539.4L960.9,539.4L922.8,539.4L884.6,539.4L846.5,539.4L808.3,539.4L770.2,539.4L732,539.4L693.9,539.4L675.5,539.4L675.5,563.4L662.7,587.4L656.4,611.4L655.7,612.5L617.6,612.5L617.6,635.4L617.6,659.4L617.6,683.4L617.6,707.4L617.6,731.4L617.6,755.4L617.6,779.4L617.6,803.4L617.6,827.4L617.6,851.4L617.6,875.4L617.6,899.4L617.6,923.4ZM1002.5,947.4L1037.2,947.4L1075.3,947.4L1075.3,923.4L1075.3,899.4L1075.3,875.4L1075.3,851.4L1075.3,827.4L1075.3,803.4L1075.3,779.4L1075.3,755.4L1075.3,731.4L1075.3,707.4L1075.3,683.4L1075.3,659.4L1075.3,635.4L1075.3,611.4L1075.3,587.4L1075.3,563.4L1075.3,539.4L1037.2,539.4L1012.6,539.4L1012.6,563.4L1015.4,587.4L1015.1,611.4L1014.8,635.4L1013.6,659.4L1015.6,683.4L1018.8,707.4L1018.8,731.4L1020.6,755.4L1017.2,779.4L1013.2,803.4L1010.9,827.4L1010.9,851.4L1010,875.4L1005.8,899.4L1002.5,923.4Z"/><path fill="#0000fa" fill-rule="evenodd" d="M617.6,947.4L655.7,947.4L693.9,947.4L732,947.4L770.2,947.4L808.3,947.4L846.5,947.4L884.6,947.4L922.8,947.4L960.9,947.4L995.4,947.4L995.4,923.4L995.8,899.4L995.9,875.4L995.8,851.4L994.7,827.4L994.1,803.4L993.8,779.4L992.4,755.4L991.3,731.4L990.9,707.4L991.1,683.4L993.9,659.4L990.1,635.4L987.9,611.4L988.7,587.4L989.3,563.4L989.3,539.4L960.9,539.4L922.8,539.4L884.6,539.4L846.5,539.4L808.3,539.4L770.2,539.4L732,539.4L693.9,539.4L681.6,539.4L681.6,563.4L667.8,587.4L661.9,611.4L655.7,621.2L617.6,621.2L617.6,635.4L617.6,659.4L617.6,683.4L617.6,707.4L617.6,731.4L617.6,755.4L617.6,779.4L617.6,803.4L617.6,827.4L617.6,851.4L617.6,875.4L617.6,899.4L617.6,923.4ZM1003.6,947.4L1037.2,947.4L1075.3,947.4L1075.3,923.4L1075.3,899.4L1075.3,875.4L1075.3,851.4L1075.3,827.4L1075.3,803.4L1075.3,779.4L1075.3,755.4L1075.3,731.4L1075.3,707.4L1075.3,683.4L1075.3,659.4L1075.3,635.4L1075.3,611.4L1075.3,587.4L1075.3,563.4L1075.3,539.4L1037.2,539.4L1019.4,539.4L1019.4,563.4L1022.7,587.4L1021.2,611.4L1020.1,635.4L1019.2,659.4L1020.7,683.4L1023.8,707.4L1023.8,731.4L1026.1,755.4L1021.9,779.4L1017.6,803.4L1014.6,827.4L1014.6,851.4L1013.4,875.4L1007.8,899.4L1003.6,923.4Z"/><path fill="#0000ff" fill-rule="evenodd" d="M617.6,947.4L655.7,947.4L693.9,947.4L732,947.4L770.2,947.4L808.3,947.4L846.5,947.4L884.6,947.4L922.8,947.4L960.9,947.4L994.5,947.4L994.5,923.4L995,899.4L995.2,875.4L995,851.4L993.7,827.4L993,803.4L992.7,779.4L991,755.4L989.8,731.4L989.3,707.4L989.2,683.4L992.4,659.4L987.8,635.4L984.8,611.4L985.5,587.4L986.1,563.4L986.1,539.4L960.9,539.4L922.8,539.4L884.6,539.4L846.5,539.4L808.3,539.4L770.2,539.4L732,539.4L693.9,539.4L687.7,539.4L687.7,563.4L672.9,587.4L667.5,611.4L655.7,629.9L617.6,629.9L617.6,635.4L617.6,659.4L617.6,683.4L617.6,707.4L617.6,731.4L617.6,755.4L617.6,779.4L617.6,803.4L617.6,827.4L617.6,851.4L617.6,875.4L617.6,899.4L617.6,923.4ZM1004.7,947.4L1037.2,947.4L1075.3,947.4L1075.3,923.4L1075.3,899.4L1075.3,875.4L1075.3,851.4L1075.3,827.4L1075.3,803.4L1075.3,779.4L1075.3,755.4L1075.3,731.4L1075.3,707.4L1075.3,683.4L1075.3,659.4L1075.3,635.4L1075.3,611.4L1075.3,587.4L1075.3,563.4L1075.3,539.4L1037.2,539.4L1026.2,539.4L1026.2,563.4L1029.9,587.4L1027.3,611.4L1025.4,635.4L1024.7,659.4L1025.8,683.4L1028.9,707.4L1028.9,731.4L1031.7,755.4L1026.6,779.4L1021.9,803.4L1018.2,827.4L1018.2,851.4L1016.8,875.4L1009.9,899.4L1004.7,923.4Z"/><path fill="#0000ff" fill-rule="evenodd" d="M617.6,947.4L655.7,947.4L693.9,947.4L732,947.4L770.2,947.4L808.3,947.4L846.5,947.4L884.6,947.4L922.8,947.4L960.9,947.4L993.6,947.4L993.6,923.4L994.2,899.4L994.5,875.4L994.2,851.4L992.7,827.4L991.8,803.4L991.6,779.4L989.6,755.4L988.2,731.4L987.6,707.4L987.3,683.4L991,659.4L985.6,635.4L981.7,611.4L982.4,587.4L982.8,563.4L982.8,539.4L960.9,539.4L922.8,539.4L884.6,539.4L846.5,539.4L808.3,539.4L770.2,539.4L732,539.4L693.9,539.4L693.9,563.4L693.9,563.4L678,587.4L673,611.4L658.4,635.4L655.7,642.6L617.6,642.6L617.6,659.4L617.6,683.4L617.6,707.4L617.6,731.4L617.6,755.4L617.6,779.4L617.6,803.4L617.6,827.4L617.6,851.4L617.6,875.4L617.6,899.4L617.6,923.4ZM1005.7,947.4L1037.2,947.4L1075.3,947.4L1075.3,923.4L1075.3,899.4L1075.3,875.4L1075.3,851.4L1075.3,827.4L1075.3,803.4L1075.3,779.4L1075.3,755.4L1037.2,755.4L1031.3,779.4L1026.3,803.4L1021.9,827.4L1021.9,851.4L1020.2,875.4L1011.9,899.4L1005.7,923.4ZM1034,731.4L1037.2,755.4L1075.3,755.4L1075.3,731.4L1075.3,707.4L1075.3,683.4L1075.3,659.4L1075.3,635.4L1075.3,611.4L1075.3,587.4L1037.2,587.4L1033.4,611.4L1030.6,635.4L1030.3,659.4L1030.8,683.4L1034,707.4ZM1033,563.4L1037.2,587.4L1075.3,587.4L1075.3,563.4L1075.3,539.4L1037.2,539.4L1033,539.4Z"/><path fill="#0004ff" fill-rule="evenodd" d="M617.6,947.4L655.7,947.4L693.9,947.4L732,947.4L770.2,947.4L808.3,947.4L846.5,947.4L884.6,947.4L922.8,947.4L960.9,947.4L992.8,947.4L992.8,923.4L993.4,899.4L993.7,875.4L993.4,851.4L991.7,827.4L990.6,803.4L990.6,779.4L988.3,755.4L986.6,731.4L985.9,707.4L985.5,683.4L989.6,659.4L983.3,635.4L978.6,611.4L979.2,587.4L979.6,563.4L979.6,539.4L960.9,539.4L922.8,539.4L884.6,539.4L846.5,539.4L808.3,539.4L770.2,539.4L732,539.4L702.6,539.4L702.6,563.4L693.9,571.1L683,587.4L678.6,611.4L665.5,635.4L656.4,659.4L655.7,661.8L617.6,661.8L617.6,683.4L617.6,707.4L617.6,731.4L617.6,755.4L617.6,779.4L617.6,803.4L617.6,827.4L617.6,851.4L617.6,875.4L617.6,899.4L617.6,923.4ZM1006.8,947.4L1037.2,947.4L1075.3,947.4L1075.3,923.4L1075.3,899.4L1075.3,875.4L1075.3,851.4L1075.3,827.4L1075.3,803.4L1075.3,779.4L1075.3,774.6L1037.2,774.6L1036,779.4L1030.7,803.4L1025.5,827.4L1025.5,851.4L1023.5,875.4L1014,899.4L1006.8,923.4ZM1035.9,683.4L1037.2,693L1075.3,693L1075.3,683.4L1075.3,659.4L1075.3,635.4L1075.3,625.8L1037.2,625.8L1035.9,635.4L1035.8,659.4Z"/><path fill="#000cff" fill-rule="evenodd" d="M617.6,947.4L655.7,947.4L693.9,947.4L732,947.4L770.2,947.4L808.3,947.4L846.5,947.4L884.6,947.4L922.8,947.4L960.9,947.4L991.9,947.4L991.9,923.4L992.7,899.4L993,875.4L992.7,851.4L990.7,827.4L989.5,803.4L989.5,779.4L986.9,755.4L985,731.4L984.2,707.4L983.6,683.4L988.1,659.4L981.1,635.4L975.5,611.4L976,587.4L976.3,563.4L976.3,539.4L960.9,539.4L922.8,539.4L884.6,539.4L846.5,539.4L808.3,539.4L770.2,539.4L732,539.4L711.3,539.4L711.3,563.4L693.9,578.8L688.1,587.4L684.1,611.4L672.6,635.4L662.1,659.4L655.7,681L617.6,681L617.6,683.4L617.6,707.4L617.6,731.4L617.6,755.4L617.6,779.4L617.6,803.4L617.6,827.4L617.6,851.4L617.6,875.4L617.6,899.4L617.6,923.4ZM1007.9,947.4L1037.2,947.4L1075.3,947.4L1075.3,923.4L1075.3,899.4L1075.3,875.4L1075.3,851.4L1075.3,827.4L1075.3,803.4L1075.3,793.8L1037.2,793.8L1035,803.4L1029.2,827.4L1029.2,851.4L1026.9,875.4L1016.1,899.4L1007.9,923.4Z"/><path fill="#0014ff" fill-rule="evenodd" d="M617.6,947.4L655.7,947.4L693.9,947.4L732,947.4L770.2,947.4L808.3,947.4L846.5,947.4L884.6,947.4L922.8,947.4L960.9,947.4L991,947.4L991,923.4L991.9,899.4L992.2,875.4L991.9,851.4L989.7,827.4L988.3,803.4L988.4,779.4L985.5,755.4L983.4,731.4L982.6,707.4L981.7,683.4L986.7,659.4L978.9,635.4L972.5,611.4L972.8,587.4L973.1,563.4L973.1,539.4L960.9,539.4L922.8,539.4L884.6,539.4L846.5,539.4L808.3,539.4L770.2,539.4L732,539.4L720,539.4L720,563.4L693.9,586.4L693.2,587.4L689.7,611.4L679.7,635.4L667.8,659.4L659.6,683.4L656.7,707.4L655.7,710.5L617.6,710.5L617.6,731.4L617.6,755.4L617.6,779.4L617.6,803.4L617.6,827.4L617.6,851.4L617.6,875.4L617.6,899.4L617.6,923.4ZM1008.9,947.4L1037.2,947.4L1075.3,947.4L1075.3,923.4L1075.3,899.4L1075.3,875.4L1075.3,851.4L1075.3,827.4L1075.3,810.5L1037.2,810.5L1032.8,827.4L1032.8,851.4L1030.3,875.4L1018.1,899.4L1008.9,923.4Z"/><path fill="#001cff" fill-rule="evenodd" d="M617.6,947.4L655.7,947.4L693.9,947.4L732,947.4L770.2,947.4L808.3,947.4L846.5,947.4L884.6,947.4L922.8,947.4L960.9,947.4L990.2,947.4L990.2,923.4L991.1,899.4L991.5,875.4L991.1,851.4L988.7,827.4L987.2,803.4L987.3,779.4L984.2,755.4L981.9,731.4L980.9,707.4L979.9,683.4L985.3,659.4L976.6,635.4L969.4,611.4L969.6,587.4L969.8,563.4L969.8,539.4L960.9,539.4L922.8,539.4L884.6,539.4L846.5,539.4L808.3,539.4L770.2,539.4L732,539.4L728.7,539.4L728.7,563.4L711.7,587.4L696.4,611.4L693.9,616.2L686.8,635.4L673.6,659.4L664.1,683.4L660.5,707.4L655.7,722.8L617.6,722.8L617.6,731.4L617.6,755.4L617.6,779.4L617.6,803.4L617.6,827.4L617.6,851.4L617.6,875.4L617.6,899.4L617.6,923.4ZM1010,947.4L1037.2,947.4L1075.3,947.4L1075.3,923.4L1075.3,899.4L1075.3,875.4L1075.3,851.4L1075.3,827.4L1075.3,824.6L1037.2,824.6L1036.5,827.4L1036.5,851.4L1033.7,875.4L1020.2,899.4L1010,923.4Z"/><path fill="#0024ff" fill-rule="evenodd" d="M660.2,947.4L693.9,947.4L732,947.4L770.2,947.4L808.3,947.4L846.5,947.4L884.6,947.4L922.8,947.4L960.9,947.4L989.3,947.4L989.3,923.4L990.4,899.4L990.8,875.4L990.4,851.4L987.7,827.4L986,803.4L986.2,779.4L982.8,755.4L980.3,731.4L979.2,707.4L978,683.4L983.8,659.4L974.4,635.4L966.3,611.4L966.5,587.4L966.6,563.4L966.6,539.4L960.9,539.4L922.8,539.4L884.6,539.4L846.5,539.4L808.3,539.4L770.2,539.4L734.6,539.4L734.6,563.4L732,587.4L732,587.4L706.4,611.4L693.9,635.4L693.9,635.4L679.3,659.4L668.6,683.4L664.4,707.4L656.8,731.4L655.7,734L617.6,734L617.6,755.4L617.6,779.4L617.6,803.4L617.6,827.4L617.6,851.4L617.6,875.4L617.6,899.4L617.5,920.2L655.7,920.2L660.2,923.4ZM1011.1,947.4L1037.2,947.4L1075.3,947.4L1075.3,923.4L1075.3,899.4L1075.3,875.4L1075.3,874L1037.2,874L1037,875.4L1022.2,899.4L1011.1,923.4Z"/><path fill="#0030ff" fill-rule="evenodd" d="M665.8,947.4L693.9,947.4L732,947.4L770.2,947.4L808.3,947.4L846.5,947.4L884.6,947.4L922.8,947.4L960.9,947.4L988.5,947.4L988.5,923.4L989.6,899.4L990,875.4L989.6,851.4L986.6,827.4L984.8,803.4L985.2,779.4L981.4,755.4L978.7,731.4L977.6,707.4L976.1,683.4L982.4,659.4L972.1,635.4L963.2,611.4L963.3,587.4L963.3,563.4L963.3,539.4L960.9,539.4L922.8,539.4L884.6,539.4L846.5,539.4L808.3,539.4L770.2,539.4L738.8,539.4L738.8,563.4L735.9,587.4L732,596.8L716.4,611.4L700.3,635.4L693.9,644.8L685,659.4L673.1,683.4L668.3,707.4L660.5,731.4L655.7,742.5L617.6,742.5L617.6,755.4L617.6,779.4L617.6,803.4L617.6,827.4L617.6,851.4L617.6,875.4L617.6,899.4L617.6,916.1L655.7,916.1L665.8,923.4ZM1012.2,947.4L1037.2,947.4L1075.3,947.4L1075.3,923.4L1075.3,899.4L1075.3,878.6L1037.2,878.6L1024.3,899.4L1012.2,923.4Z"/><path fill="#0038ff" fill-rule="evenodd" d="M671.4,947.4L693.9,947.4L732,947.4L770.2,947.4L808.3,947.4L846.5,947.4L884.6,947.4L922.8,947.4L960.9,947.4L987.6,947.4L987.6,923.4L988.8,899.4L989.3,875.4L988.8,851.4L985.6,827.4L983.7,803.4L984.1,779.4L980.1,755.4L977.1,731.4L975.9,707.4L974.2,683.4L981,659.4L969.9,635.4L960.9,612.8L960.4,611.4L960.4,587.4L960.5,563.4L960.5,539.4L922.8,539.4L884.6,539.4L846.5,539.4L808.3,539.4L770.2,539.4L743,539.4L743,563.4L739.8,587.4L732,606.2L726.5,611.4L706.7,635.4L693.9,654.2L690.7,659.4L677.6,683.4L672.1,707.4L664.1,731.4L655.7,751.1L617.6,751.1L617.6,755.4L617.6,779.4L617.6,803.4L617.6,827.4L617.6,851.4L617.6,875.4L617.6,899.4L617.6,912.1L655.7,912.1L671.4,923.4ZM1013.2,947.4L1037.2,947.4L1075.3,947.4L1075.3,923.4L1075.3,899.4L1075.3,881.9L1037.2,881.9L1026.4,899.4L1013.2,923.4Z"/><path fill="#0040ff" fill-rule="evenodd" d="M677,947.4L693.9,947.4L732,947.4L770.2,947.4L808.3,947.4L846.5,947.4L884.6,947.4L922.8,947.4L960.9,947.4L986.7,947.4L986.7,923.4L988,899.4L988.6,875.4L988,851.4L984.6,827.4L982.5,803.4L983,779.4L978.7,755.4L975.5,731.4L974.2,707.4L972.4,683.4L979.5,659.4L967.6,635.4L960.9,618.5L958.3,611.4L958.4,587.4L958.7,563.4L958.7,539.4L922.8,539.4L884.6,539.4L846.5,539.4L808.3,539.4L770.2,539.4L747.2,539.4L747.2,563.4L743.7,587.4L734.2,611.4L732,614.6L713.1,635.4L696.5,659.4L693.9,662.9L682.1,683.4L676,707.4L667.8,731.4L657.7,755.4L655.7,758.1L617.6,758.1L617.6,779.4L617.6,803.4L617.6,827.4L617.6,851.4L617.6,875.4L617.6,899.4L617.6,908L655.7,908L677,923.4ZM1014.3,947.4L1037.2,947.4L1075.3,947.4L1075.3,923.4L1075.3,899.4L1075.3,885.2L1037.2,885.2L1028.4,899.4L1014.3,923.4Z"/><path fill="#0048ff" fill-rule="evenodd" d="M682.6,947.4L693.9,947.4L732,947.4L770.2,947.4L808.3,947.4L846.5,947.4L884.6,947.4L922.8,947.4L960.9,947.4L985.9,947.4L985.9,923.4L987.3,899.4L987.8,875.4L987.3,851.4L983.6,827.4L981.4,803.4L981.9,779.4L977.3,755.4L973.9,731.4L972.6,707.4L970.5,683.4L978.1,659.4L965.4,635.4L960.9,624.1L956.1,611.4L956.4,587.4L957,563.4L957,539.4L922.8,539.4L884.6,539.4L846.5,539.4L808.3,539.4L770.2,539.4L751.3,539.4L751.3,563.4L747.7,587.4L739.1,611.4L732,621.6L719.5,635.4L702.3,659.4L693.9,670.8L686.6,683.4L679.8,707.4L671.4,731.4L661.7,755.4L655.7,763.4L617.6,763.4L617.6,779.4L617.6,797.9L655.7,797.9L659.3,803.4L655.7,818.8L617.6,818.8L617.6,827.4L617.6,851.4L617.6,875.4L617.6,899.4L617.6,904L655.7,904L682.6,923.4ZM1015.4,947.4L1037.2,947.4L1075.3,947.4L1075.3,923.4L1075.3,899.4L1075.3,888.6L1037.2,888.6L1030.5,899.4L1015.4,923.4Z"/><path fill="#0050ff" fill-rule="evenodd" d="M688.2,947.4L693.9,947.4L732,947.4L770.2,947.4L808.3,947.4L846.5,947.4L884.6,947.4L922.8,947.4L960.9,947.4L985,947.4L985,923.4L986.5,899.4L987.1,875.4L986.5,851.4L982.6,827.4L980.2,803.4L980.9,779.4L976,755.4L972.4,731.4L970.9,707.4L968.6,683.4L976.7,659.4L963.1,635.4L960.9,629.8L954,611.4L954.5,587.4L955.2,563.4L955.2,539.4L922.8,539.4L884.6,539.4L846.5,539.4L808.3,539.4L770.2,539.4L755.5,539.4L755.5,563.4L751.6,587.4L743.9,611.4L732,628.7L725.9,635.4L708.1,659.4L693.9,678.7L691.1,683.4L683.7,707.4L675.1,731.4L665.7,755.4L655.7,768.7L617.6,768.7L617.6,779.4L617.6,791.7L655.7,791.7L663.3,803.4L657.6,827.4L655.7,837L617.6,837L617.6,851.4L617.6,875.4L617.6,899.4L617.6,899.9L655.7,899.9L688.2,923.4ZM1016.4,947.4L1037.2,947.4L1075.3,947.4L1075.3,923.4L1075.3,899.4L1075.3,891.9L1037.2,891.9L1032.6,899.4L1016.4,923.4Z"/><path fill="#0058ff" fill-rule="evenodd" d="M693.9,947.4L732,947.4L770.2,947.4L808.3,947.4L846.5,947.4L884.6,947.4L922.8,947.4L960.9,947.4L984.1,947.4L984.1,923.4L985.7,899.4L986.4,875.4L985.7,851.4L981.6,827.4L979,803.4L979.8,779.4L974.6,755.4L970.8,731.4L969.2,707.4L966.8,683.4L975.2,659.4L960.9,635.4L960.9,635.4L951.9,611.4L952.5,587.4L953.4,563.4L953.4,539.4L922.8,539.4L884.6,539.4L846.5,539.4L808.3,539.4L770.2,539.4L759.7,539.4L759.7,563.4L755.5,587.4L748.8,611.4L732.3,635.4L732,635.8L713.9,659.4L695.8,683.4L693.8,688.1L687.6,707.4L678.8,731.4L669.8,755.4L655.7,774.1L617.6,774.1L617.6,779.4L617.6,785.6L655.7,785.6L667.3,803.4L661.4,827.4L656.7,851.4L655.7,856.2L617.6,856.2L617.6,875.4L617.6,888.2L655.7,888.2L659.3,899.4L693.8,923.4L693.9,923.4ZM1017.5,947.4L1037.2,947.4L1075.3,947.4L1075.3,923.4L1075.3,899.4L1075.3,895.2L1037.2,895.2L1034.6,899.4L1017.5,923.4Z"/><path fill="#0060ff" fill-rule="evenodd" d="M698.9,947.4L732,947.4L770.2,947.4L808.3,947.4L846.5,947.4L884.6,947.4L922.8,947.4L960.9,947.4L983.3,947.4L983.3,923.4L984.9,899.4L985.6,875.4L984.9,851.4L980.6,827.4L977.9,803.4L978.7,779.4L973.2,755.4L969.2,731.4L967.6,707.4L964.9,683.4L973.8,659.4L960.9,637.8L958.1,635.4L949.8,611.4L950.5,587.4L951.7,563.4L951.7,539.4L922.8,539.4L884.6,539.4L846.5,539.4L808.3,539.4L770.2,539.4L763.9,539.4L763.9,563.4L759.4,587.4L753.7,611.4L738.4,635.4L732,643.3L719.7,659.4L700.8,683.4L693.9,700L691.4,707.4L682.4,731.4L673.8,755.4L655.7,779.4L671.3,803.4L665.2,827.4L660.8,851.4L655.7,875.4L663.3,899.4L693.9,920.6L698.9,923.4ZM1018.6,947.4L1037.2,947.4L1075.3,947.4L1075.3,923.4L1075.3,899.4L1075.3,898.6L1037.2,898.6L1036.7,899.4L1018.6,923.4Z"/><path fill="#0068ff" fill-rule="evenodd" d="M704,947.4L732,947.4L770.2,947.4L808.3,947.4L846.5,947.4L884.6,947.4L922.8,947.4L960.9,947.4L982.4,947.4L982.4,923.4L984.2,899.4L984.9,875.4L984.2,851.4L979.6,827.4L976.7,803.4L977.6,779.4L971.8,755.4L967.6,731.4L965.9,707.4L963,683.4L972.4,659.4L960.9,640.2L955.4,635.4L947.7,611.4L948.5,587.4L949.9,563.4L949.9,539.4L922.8,539.4L884.6,539.4L846.5,539.4L808.3,539.4L770.2,539.4L768.1,539.4L768.1,563.4L763.3,587.4L758.6,611.4L744.4,635.4L732,650.9L725.5,659.4L705.8,683.4L695.9,707.4L693.8,711L686.1,731.4L677.8,755.4L659.5,779.4L675.3,803.4L669.1,827.4L664.9,851.4L659.5,875.4L667.4,899.4L693.9,917.8L704,923.4ZM1019.6,947.4L1037.2,947.4L1075.3,947.4L1075.3,923.4L1075.3,900.4L1037.2,900.4L1019.6,923.4Z"/><path fill="#0070ff" fill-rule="evenodd" d="M709.1,947.4L732,947.4L770.2,947.4L808.3,947.4L846.5,947.4L884.6,947.4L922.8,947.4L960.9,947.4L981.5,947.4L981.5,923.4L983.4,899.4L984.2,875.4L983.4,851.4L978.5,827.4L975.6,803.4L976.5,779.4L970.5,755.4L966,731.4L964.2,707.4L961.1,683.4L970.9,659.4L960.9,642.6L952.6,635.4L945.5,611.4L946.5,587.4L948.2,563.4L948.2,539.4L922.8,539.4L884.6,539.4L846.5,539.4L808.3,539.4L772.1,539.4L772.1,563.4L770.2,573L767.2,587.4L763.4,611.4L750.5,635.4L732,658.5L731.3,659.4L710.8,683.4L701.5,707.4L693.9,720.6L689.7,731.4L681.8,755.4L663.3,779.4L679.3,803.4L672.9,827.4L668.9,851.4L663.3,875.4L671.5,899.4L693.9,914.9L709.1,923.4ZM1020.7,947.4L1037.2,947.4L1075.3,947.4L1075.3,923.4L1075.3,901.8L1037.2,901.8L1020.7,923.4Z"/><path fill="#0078ff" fill-rule="evenodd" d="M714.2,947.4L732,947.4L770.2,947.4L808.3,947.4L846.5,947.4L884.6,947.4L922.8,947.4L960.9,947.4L980.7,947.4L980.7,923.4L982.6,899.4L983.4,875.4L982.6,851.4L977.5,827.4L974.4,803.4L975.5,779.4L969.1,755.4L964.5,731.4L962.6,707.4L960.9,694.6L958.6,683.4L960.9,680.3L969.5,659.4L960.9,645L949.8,635.4L943.4,611.4L944.5,587.4L946.4,563.4L946.4,539.4L922.8,539.4L884.6,539.4L846.5,539.4L808.3,539.4L775.9,539.4L775.9,563.4L771.1,587.4L770.2,597L768.3,611.4L756.5,635.4L740.9,659.4L732,664.5L715.8,683.4L707,707.4L693.9,730.2L693.4,731.4L685.8,755.4L667.1,779.4L683.3,803.4L676.7,827.4L673,851.4L667.1,875.4L675.5,899.4L693.9,912.1L714.2,923.4ZM1021.8,947.4L1037.2,947.4L1075.3,947.4L1075.3,923.4L1075.3,903.2L1037.2,903.2L1021.8,923.4Z"/><path fill="#0080ff" fill-rule="evenodd" d="M719.3,947.4L732,947.4L770.2,947.4L808.3,947.4L846.5,947.4L884.6,947.4L922.8,947.4L960.9,947.4L979.8,947.4L979.8,923.4L981.9,899.4L982.7,875.4L981.9,851.4L976.5,827.4L973.2,803.4L974.4,779.4L967.7,755.4L962.9,731.4L960.9,707.4L960.9,707.4L956,683.4L960.9,676.9L968.1,659.4L960.9,647.4L947,635.4L941.3,611.4L942.6,587.4L944.7,563.4L944.7,539.4L922.8,539.4L884.6,539.4L846.5,539.4L808.3,539.4L779.7,539.4L779.7,563.4L774.9,587.4L772,611.4L770.2,619.4L762.6,635.4L751.1,659.4L732,670.3L720.8,683.4L712.6,707.4L699.2,731.4L693.9,742.6L689.8,755.4L671,779.4L687.3,803.4L680.5,827.4L677.1,851.4L671,875.4L679.6,899.4L693.9,909.3L719.3,923.4ZM1022.9,947.4L1037.2,947.4L1075.3,947.4L1075.3,923.4L1075.3,904.6L1037.2,904.6L1022.9,923.4Z"/><path fill="#0088ff" fill-rule="evenodd" d="M724.4,947.4L732,947.4L770.2,947.4L808.3,947.4L846.5,947.4L884.6,947.4L922.8,947.4L960.9,947.4L978.9,947.4L978.9,923.4L981.1,899.4L982,875.4L981.1,851.4L975.5,827.4L972.1,803.4L973.3,779.4L966.4,755.4L961.3,731.4L960.9,726.6L958.2,707.4L953.4,683.4L960.9,673.4L966.6,659.4L960.9,649.8L944.3,635.4L939.2,611.4L940.6,587.4L942.9,563.4L942.9,539.4L922.8,539.4L884.6,539.4L846.5,539.4L808.3,539.4L783.5,539.4L783.5,563.4L778.7,587.4L774.9,611.4L770.2,632.2L768.6,635.4L761.2,659.4L732,676.1L725.8,683.4L718.1,707.4L705.3,731.4L693.9,755.4L693.9,755.4L674.8,779.4L691.3,803.4L684.3,827.4L681.1,851.4L674.8,875.4L683.7,899.4L693.9,906.5L724.4,923.4ZM1023.9,947.4L1037.2,947.4L1075.3,947.4L1075.3,923.4L1075.3,906L1037.2,906L1023.9,923.4Z"/><path fill="#0090ff" fill-rule="evenodd" d="M729.5,947.4L732,947.4L770.2,947.4L808.3,947.4L846.5,947.4L884.6,947.4L922.8,947.4L960.9,947.4L978.1,947.4L978.1,923.4L980.3,899.4L981.2,875.4L980.3,851.4L974.5,827.4L970.9,803.4L972.2,779.4L965,755.4L960.9,736.2L959,731.4L955.5,707.4L950.8,683.4L960.9,669.9L965.2,659.4L960.9,652.2L941.5,635.4L937.1,611.4L938.6,587.4L941.2,563.4L941.2,539.4L922.8,539.4L884.6,539.4L846.5,539.4L808.3,539.4L787.3,539.4L787.3,563.4L782.5,587.4L777.8,611.4L775.9,635.4L770.8,659.4L770.2,660.4L732,681.9L730.8,683.4L723.7,707.4L711.4,731.4L701.5,755.4L693.9,760.2L678.6,779.4L693.9,801.3L696.1,803.4L693.9,808.2L688.1,827.4L685.2,851.4L678.6,875.4L687.7,899.4L693.9,903.6L729.5,923.4ZM1025,947.4L1037.2,947.4L1075.3,947.4L1075.3,923.4L1075.3,907.4L1037.2,907.4L1025,923.4Z"/><path fill="#0098ff" fill-rule="evenodd" d="M735.8,947.4L770.2,947.4L808.3,947.4L846.5,947.4L884.6,947.4L922.8,947.4L960.9,947.4L977.2,947.4L977.2,923.4L979.5,899.4L980.5,875.4L979.5,851.4L973.5,827.4L969.7,803.4L971.1,779.4L963.6,755.4L960.9,742.6L956.5,731.4L952.8,707.4L948.2,683.4L960.9,666.4L963.8,659.4L960.9,654.6L938.7,635.4L934.9,611.4L936.6,587.4L939.4,563.4L939.4,539.4L922.8,539.4L884.6,539.4L846.5,539.4L808.3,539.4L791.1,539.4L791.1,563.4L786.4,587.4L780.7,611.4L783.5,635.4L775.9,659.4L770.2,668L742.4,683.4L732,697.8L729.2,707.4L717.5,731.4L709.1,755.4L693.9,765L682.4,779.4L693.9,795.9L702.2,803.4L693.9,821L691.9,827.4L689.3,851.4L682.4,875.4L691.8,899.4L693.9,900.8L732,921.2L735.8,923.4ZM1026.1,947.4L1037.2,947.4L1075.3,947.4L1075.3,923.4L1075.3,908.8L1037.2,908.8L1026.1,923.4Z"/><path fill="#00a0ff" fill-rule="evenodd" d="M743.4,947.4L770.2,947.4L808.3,947.4L846.5,947.4L884.6,947.4L922.8,947.4L960.9,947.4L976.3,947.4L976.3,923.4L978.8,899.4L979.7,875.4L978.8,851.4L972.5,827.4L968.6,803.4L970.1,779.4L962.3,755.4L960.9,749L954,731.4L950.2,707.4L945.6,683.4L960.9,662.9L962.3,659.4L960.9,657L935.9,635.4L932.8,611.4L934.6,587.4L937.7,563.4L937.7,539.4L922.8,539.4L884.6,539.4L846.5,539.4L808.3,539.4L794.9,539.4L794.9,563.4L790.2,587.4L783.6,611.4L791.1,635.4L781,659.4L770.2,675.7L756.3,683.4L735.6,707.4L732,713.8L723.6,731.4L716.7,755.4L693.9,769.8L686.2,779.4L693.9,790.4L708.3,803.4L696.6,827.4L693.9,846.6L693.3,851.4L686.2,875.4L693.9,894.6L698.2,899.4L732,916.7L743.4,923.4ZM1027.1,947.4L1037.2,947.4L1075.3,947.4L1075.3,923.4L1075.3,910.2L1037.2,910.2L1027.1,923.4Z"/><path fill="#00a8ff" fill-rule="evenodd" d="M751.1,947.4L770.2,947.4L808.3,947.4L846.5,947.4L884.6,947.4L922.8,947.4L960.9,947.4L975.5,947.4L975.5,923.4L978,899.4L979,875.4L978,851.4L971.4,827.4L967.4,803.4L969,779.4L960.9,755.4L960.9,755.4L951.5,731.4L947.5,707.4L943,683.4L960.9,659.4L933.2,635.4L930.7,611.4L932.7,587.4L935.9,563.4L935.9,539.4L922.8,539.4L884.6,539.4L846.5,539.4L808.3,539.4L798.8,539.4L798.8,563.4L794,587.4L786.5,611.4L798.8,635.4L786,659.4L770.2,683.4L770.2,683.4L742.9,707.4L732,726.6L729.7,731.4L724.4,755.4L693.9,774.6L690,779.4L693.9,784.9L714.5,803.4L702.2,827.4L699.2,851.4L693.9,862.6L690,875.4L693.9,885L706.9,899.4L732,912.2L751.1,923.4ZM1028.2,947.4L1037.2,947.4L1075.3,947.4L1075.3,923.4L1075.3,911.6L1037.2,911.6L1028.2,923.4Z"/><path fill="#00b0ff" fill-rule="evenodd" d="M758.7,947.4L770.2,947.4L808.3,947.4L846.5,947.4L884.6,947.4L922.8,947.4L960.9,947.4L974.6,947.4L974.6,923.4L977.2,899.4L978.3,875.4L977.2,851.4L970.4,827.4L966.3,803.4L967.9,779.4L960.9,758.6L958,755.4L949,731.4L944.8,707.4L940.4,683.4L955,659.4L930.4,635.4L928.6,611.4L930.7,587.4L934.2,563.4L934.2,539.4L922.8,539.4L884.6,539.4L846.5,539.4L808.3,539.4L802.6,539.4L802.6,563.4L797.8,587.4L789.4,611.4L806.4,635.4L791.1,659.4L773.8,683.4L770.2,689.8L750.2,707.4L736.1,731.4L732,755.4L732,755.4L693.9,779.4L720.6,803.4L707.7,827.4L705.3,851.4L693.9,875.4L715.6,899.4L732,907.8L758.7,923.4ZM1029.3,947.4L1037.2,947.4L1075.3,947.4L1075.3,923.4L1075.3,913L1037.2,913L1029.3,923.4Z"/><path fill="#00b8ff" fill-rule="evenodd" d="M766.3,947.4L770.2,947.4L808.3,947.4L846.5,947.4L884.6,947.4L922.8,947.4L960.9,947.4L973.7,947.4L973.7,923.4L976.4,899.4L977.5,875.4L976.4,851.4L969.4,827.4L965.1,803.4L966.8,779.4L960.9,761.8L955.2,755.4L946.5,731.4L942.1,707.4L937.7,683.4L949.2,659.4L927.6,635.4L926.5,611.4L928.7,587.4L932.4,563.4L932.4,539.4L922.8,539.4L884.6,539.4L846.5,539.4L808.3,539.4L806.4,539.4L806.4,563.4L801.6,587.4L792.3,611.4L808.3,632.5L810.5,635.4L808.3,641.2L796.2,659.4L777.4,683.4L770.2,696.2L757.4,707.4L742.6,731.4L737.5,755.4L732,763.1L706.1,779.4L726.7,803.4L713.3,827.4L711.4,851.4L709.1,875.4L724.4,899.4L732,903.3L766.3,923.4ZM1030.4,947.4L1037.2,947.4L1075.3,947.4L1075.3,923.4L1075.3,914.4L1037.2,914.4L1030.4,923.4Z"/><path fill="#00c0ff" fill-rule="evenodd" d="M785.4,947.4L808.3,947.4L846.5,947.4L884.6,947.4L922.8,947.4L960.9,947.4L972.9,947.4L972.9,923.4L975.7,899.4L976.8,875.4L975.7,851.4L968.4,827.4L963.9,803.4L965.8,779.4L960.9,765L952.3,755.4L944,731.4L939.4,707.4L935.1,683.4L943.3,659.4L924.8,635.4L924.3,611.4L926.7,587.4L930.6,563.4L930.6,539.4L922.8,539.4L884.6,539.4L846.5,539.4L810.7,539.4L810.7,563.4L808.3,573L805.4,587.4L795.2,611.4L808.3,628.7L813.4,635.4L808.3,648.8L801.3,659.4L781.1,683.4L770.2,702.6L764.7,707.4L749,731.4L742.9,755.4L732,770.8L718.3,779.4L732,801L732.9,803.4L732,804.6L718.8,827.4L717.5,851.4L724.4,875.4L732,894.6L733.2,899.4L770.2,920.7L785.4,923.4ZM808.3,909L803.9,899.4L808.3,897.3L811.5,899.4ZM1031.4,947.4L1037.2,947.4L1075.3,947.4L1075.3,923.4L1075.3,915.8L1037.2,915.8L1031.4,923.4Z"/><path fill="#00c8ff" fill-rule="evenodd" d="M813.4,947.4L846.5,947.4L884.6,947.4L922.8,947.4L960.9,947.4L972,947.4L972,923.4L974.9,899.4L976.1,875.4L974.9,851.4L967.4,827.4L962.8,803.4L964.7,779.4L960.9,768.2L949.5,755.4L941.5,731.4L936.7,707.4L932.5,683.4L937.4,659.4L922.8,637.6L921.5,635.4L907.5,611.4L922.8,606.6L924.7,587.4L928.9,563.4L928.9,539.4L922.8,539.4L887.1,539.4L887.1,563.4L884.6,573L883.2,563.4L883.2,539.4L846.5,539.4L815.5,539.4L815.5,563.4L809.7,587.4L808.3,589L798.1,611.4L808.3,624.8L816.4,635.4L808.3,656.5L806.4,659.4L784.7,683.4L771,707.4L770.2,709.8L755.5,731.4L748.4,755.4L732,778.4L730.5,779.4L732,781.8L740.4,803.4L732,814.2L724.4,827.4L723.6,851.4L732,869L736.3,875.4L742.7,899.4L770.2,915.2L795.2,899.4L808.3,893L818,899.4L813.4,923.4ZM770.2,855.7L755.3,851.4L770.2,846.6L773.3,851.4ZM1032.5,947.4L1037.2,947.4L1075.3,947.4L1075.3,923.4L1075.3,917.2L1037.2,917.2L1032.5,923.4Z"/><path fill="#00d0ff" fill-rule="evenodd" d="M833.7,947.4L846.5,947.4L884.6,947.4L922.8,947.4L960.9,947.4L971.2,947.4L971.2,923.4L974.1,899.4L975.3,875.4L974.1,851.4L966.4,827.4L961.6,803.4L963.6,779.4L960.9,771.4L946.6,755.4L939,731.4L934,707.4L929.9,683.4L931.6,659.4L922.8,646.3L916.6,635.4L884.6,613.5L879.8,611.4L880.7,587.4L877.5,563.4L877.5,539.4L846.5,539.4L820.2,539.4L820.2,563.4L815.4,587.4L808.3,595.4L801,611.4L808.3,621L819.3,635.4L810.3,659.4L808.3,661.9L788.3,683.4L774.4,707.4L770.2,719.4L762,731.4L753.8,755.4L739.1,779.4L747.9,803.4L732,823.8L729.9,827.4L729.7,851.4L732,856.2L738.4,851.4L770.2,841.1L777,851.4L770.2,860.7L744.8,875.4L752.3,899.4L770.2,909.7L786.5,899.4L808.3,888.8L824.5,899.4L833.7,923.4ZM1033.6,947.4L1037.2,947.4L1075.3,947.4L1075.3,923.4L1075.3,918.6L1037.2,918.6L1033.6,923.4ZM897.3,563.4L922.8,587.4L927.1,563.4L927.1,539.4L922.8,539.4L897.3,539.4Z"/><path fill="#00dcfe" fill-rule="evenodd" d="M869.3,947.4L884.6,947.4L922.8,947.4L960.9,947.4L970.3,947.4L970.3,923.4L973.4,899.4L974.6,875.4L973.4,851.4L965.4,827.4L960.9,805.3L958.8,803.4L960.9,798.6L962.5,779.4L960.9,774.6L943.8,755.4L936.5,731.4L931.3,707.4L927.3,683.4L925.7,659.4L922.8,655L911.6,635.4L884.6,616.9L872.2,611.4L874.5,587.4L871.9,563.4L871.9,539.4L846.5,539.4L825,539.4L825,563.4L821,587.4L808.3,601.8L803.9,611.4L808.3,617.2L822.2,635.4L813.6,659.4L808.3,665.8L792,683.4L777.9,707.4L770.2,729L768.5,731.4L759.3,755.4L747.3,779.4L755.3,803.4L743.2,827.4L770.2,835.6L780.6,851.4L770.2,865.6L753.3,875.4L761.8,899.4L770.2,904.2L777.8,899.4L808.3,884.5L830.9,899.4L846.5,920.2L869.3,923.4ZM1034.6,947.4L1037.2,947.4L1075.3,947.4L1075.3,923.4L1075.3,920L1037.2,920L1034.6,923.4ZM907.5,563.4L922.8,577.8L925.4,563.4L925.4,539.4L922.8,539.4L907.5,539.4Z"/><path fill="#00e4f8" fill-rule="evenodd" d="M923.2,947.4L960.9,947.4L969.4,947.4L969.4,923.4L972.6,899.4L973.9,875.4L972.6,851.4L964.4,827.4L960.9,810.3L953.1,803.4L960.9,785.8L961.4,779.4L960.9,777.8L940.9,755.4L934,731.4L928.7,707.4L924.7,683.4L922.8,669L920.5,659.4L906.7,635.4L884.6,620.3L864.6,611.4L868.2,587.4L866.2,563.4L866.2,539.4L846.5,539.4L829.8,539.4L829.8,563.4L826.7,587.4L808.3,608.2L806.8,611.4L808.3,613.3L825.2,635.4L816.8,659.4L808.3,669.7L795.6,683.4L781.3,707.4L772.9,731.4L770.2,741.8L764.8,755.4L755.5,779.4L762.8,803.4L761.2,827.4L770.2,830.1L784.2,851.4L770.2,870.5L761.8,875.4L770.2,896.7L808.3,880.3L837.4,899.4L846.5,911.5L884.6,919.5L922.8,920.7L923.2,923.4ZM1035.7,947.4L1037.2,947.4L1075.3,947.4L1075.3,923.4L1075.3,921.4L1037.2,921.4L1035.7,923.4ZM917.7,563.4L922.8,568.2L923.6,563.4L923.6,539.4L922.8,539.4L917.7,539.4Z"/><path fill="#06ecf1" fill-rule="evenodd" d="M927.1,947.4L960.9,947.4L968.6,947.4L968.6,923.4L971.8,899.4L973.1,875.4L971.8,851.4L963.3,827.4L960.9,815.3L947.5,803.4L958.2,779.4L938.1,755.4L931.5,731.4L926,707.4L922.8,687.5L921.6,683.4L915.9,659.4L901.8,635.4L884.6,623.7L856.9,611.4L862,587.4L860.5,563.4L860.5,539.4L846.5,539.4L834.6,539.4L834.6,563.4L832.4,587.4L818.5,611.4L828.1,635.4L820.1,659.4L808.3,673.6L799.3,683.4L784.7,707.4L776.5,731.4L770.2,755.4L770.2,755.8L763.6,779.4L770.2,803L770.3,803.4L773.1,827.4L787.9,851.4L773.1,875.4L808.3,876L843.9,899.4L846.5,902.9L884.6,914.2L922.6,899.4L922.8,897.6L922.8,899.4L927.1,923.4ZM922.8,828.7L922.4,827.4L922.7,826.5L925.3,827.4ZM1036.8,947.4L1037.2,947.4L1075.3,947.4L1075.3,923.4L1075.3,922.8L1037.2,922.8L1036.8,923.4Z"/><path fill="#0cf4eb" fill-rule="evenodd" d="M930.9,947.4L960.9,947.4L967.7,947.4L967.7,923.4L971,899.4L972.4,875.4L971,851.4L962.3,827.4L960.9,820.3L941.8,803.4L952.8,779.4L935.2,755.4L929,731.4L923.3,707.4L922.8,704.1L917.1,683.4L911.4,659.4L896.8,635.4L884.6,627L849.3,611.4L855.7,587.4L854.9,563.4L854.9,539.4L846.5,539.4L839.3,539.4L839.3,563.4L838,587.4L838.8,611.4L831,635.4L823.3,659.4L808.3,677.6L802.9,683.4L788.2,707.4L780.1,731.4L774.6,755.4L771.1,779.4L778.5,803.4L779.1,827.4L791.5,851.4L808.3,871.7L820.5,875.4L846.5,893.4L855.9,899.4L884.6,908.9L909.1,899.4L884.6,881.4L875.1,875.4L884.6,872.9L922.8,868.2L924.7,875.4L925.5,899.4L930.9,923.4ZM922.8,836.4L920.3,827.4L922.8,821.2L940.1,827.4Z"/><path fill="#13fce4" fill-rule="evenodd" d="M934.7,947.4L960.9,947.4L966.8,947.4L966.8,923.4L970.3,899.4L971.7,875.4L970.3,851.4L961.3,827.4L960.9,825.3L954.8,827.4L922.8,844L918.2,827.4L922.8,815.9L936.2,803.4L947.5,779.4L932.4,755.4L926.5,731.4L922.8,715.7L917.4,707.4L912.5,683.4L906.8,659.4L891.9,635.4L884.6,630.4L846.5,614.5L834,635.4L826.6,659.4L808.3,681.5L806.5,683.4L791.6,707.4L783.8,731.4L778.9,755.4L775.9,779.4L786.7,803.4L785.1,827.4L795.1,851.4L808.3,867.3L834.8,875.4L846.5,883.5L859.3,875.4L884.6,868.8L922.8,859.7L927,875.4L928.2,899.4L934.7,923.4ZM871.8,899.4L884.6,903.7L895.6,899.4L884.6,891.3ZM843.7,587.4L846.5,597.9L849.5,587.4L849.2,563.4L849.2,539.4L846.5,539.4L844.1,539.4L844.1,563.4Z"/><path fill="#19ffde" fill-rule="evenodd" d="M938.5,947.4L960.9,947.4L966,947.4L966,923.4L969.5,899.4L970.9,875.4L969.5,851.4L960.9,828.6L922.8,851.4L929.3,875.4L930.9,899.4L938.5,923.4ZM798.8,851.4L808.3,862.9L846.5,874.2L884.6,864.7L922.5,851.4L916,827.4L922.8,810.7L930.5,803.4L942.1,779.4L929.5,755.4L924,731.4L922.8,726.2L910.8,707.4L907.9,683.4L902.3,659.4L886.9,635.4L884.6,633.8L846.5,619.4L836.9,635.4L829.8,659.4L810.4,683.4L808.3,686.2L795,707.4L787.4,731.4L783.3,755.4L780.7,779.4L794.9,803.4L791.1,827.4Z"/><path fill="#1fffd7" fill-rule="evenodd" d="M942.4,947.4L960.9,947.4L965.1,947.4L965.1,923.4L968.7,899.4L970.2,875.4L968.7,851.4L960.9,830.7L926.3,851.4L931.7,875.4L933.6,899.4L942.4,923.4ZM802.4,851.4L808.3,858.5L846.5,867.9L884.6,860.6L910.8,851.4L913.9,827.4L922.8,805.4L924.9,803.4L936.7,779.4L926.7,755.4L922.8,737.8L918.4,731.4L904.1,707.4L903.4,683.4L897.7,659.4L884.6,639.1L877.4,635.4L846.5,624.3L839.8,635.4L833.1,659.4L814.5,683.4L808.3,691.7L798.4,707.4L791,731.4L787.6,755.4L785.5,779.4L803.2,803.4L797.1,827.4Z"/><path fill="#26ffd1" fill-rule="evenodd" d="M946.2,947.4L960.9,947.4L964.2,947.4L964.2,923.4L968,899.4L969.4,875.4L968,851.4L960.9,832.7L929.7,851.4L934,875.4L936.3,899.4L946.2,923.4ZM806,851.4L808.3,854.1L846.5,861.5L884.6,856.5L899.2,851.4L911.8,827.4L919.8,803.4L922.8,796.7L931.3,779.4L923.8,755.4L922.8,750.6L909.6,731.4L897.5,707.4L898.8,683.4L893.1,659.4L884.6,646.2L863.6,635.4L846.5,629.2L842.8,635.4L836.3,659.4L818.7,683.4L808.3,697.1L801.9,707.4L794.7,731.4L792,755.4L790.3,779.4L808.3,801.2L809.6,803.4L808.3,810.6L803.1,827.4Z"/><path fill="#2cffca" fill-rule="evenodd" d="M950,947.4L960.9,947.4L963.4,947.4L963.4,923.4L967.2,899.4L968.7,875.4L967.2,851.4L960.9,834.8L933.1,851.4L936.3,875.4L939,899.4L950,923.4ZM823,851.4L846.5,855.2L884.6,852.4L887.5,851.4L909.7,827.4L915.2,803.4L922.8,785.9L926,779.4L922.8,767.6L915.9,755.4L900.8,731.4L890.8,707.4L894.3,683.4L888.6,659.4L884.6,653.2L849.9,635.4L846.5,634.2L845.7,635.4L839.6,659.4L822.8,683.4L808.3,702.6L805.3,707.4L798.3,731.4L796.3,755.4L795.1,779.4L808.3,795.4L813.2,803.4L809.5,827.4Z"/><path fill="#33ffc4" fill-rule="evenodd" d="M953.8,947.4L960.9,947.4L962.5,947.4L962.5,923.4L966.4,899.4L968,875.4L966.4,851.4L960.9,836.8L936.5,851.4L938.6,875.4L941.7,899.4L953.8,923.4ZM819.1,827.4L846.4,848.5L884.6,849.9L907.6,827.4L910.6,803.4L921.1,779.4L904.9,755.4L892.1,731.4L884.6,709L884.4,707.4L884.6,706.1L889.7,683.4L884.6,661.8L880.8,659.4L846.5,645L842.8,659.4L826.9,683.4L808.8,707.4L808.3,709L801.9,731.4L800.7,755.4L799.9,779.4L808.3,789.6L816.7,803.4Z"/><path fill="#39ffbe" fill-rule="evenodd" d="M957.6,947.4L960.9,947.4L961.6,947.4L961.6,923.4L965.6,899.4L967.2,875.4L965.6,851.4L960.9,838.8L939.9,851.4L940.9,875.4L944.4,899.4L957.6,923.4ZM828.6,827.4L846.5,841.1L884.6,847.8L905.5,827.4L905.9,803.4L917.1,779.4L893.9,755.4L884.6,735L884.1,731.4L880.7,707.4L884.6,685.9L885.2,683.4L884.6,681L850.3,659.4L846.5,657.8L846,659.4L831,683.4L812.4,707.4L808.3,721.8L805.6,731.4L805,755.4L804.7,779.4L808.3,783.8L820.3,803.4Z"/><path fill="#40ffb7" fill-rule="evenodd" d="M947.1,899.4L960.9,922.7L964.9,899.4L966.5,875.4L964.9,851.4L960.9,840.9L943.4,851.4L943.2,875.4ZM838.2,827.4L846.5,833.7L884.6,845.7L903.4,827.4L901.3,803.4L913,779.4L884.6,755.9L884.2,755.4L880.5,731.4L877,707.4L875.4,683.4L846.5,665.2L835.2,683.4L816.1,707.4L809.3,731.4L809,755.4L809.1,779.4L823.8,803.4Z"/><path fill="#46ffb1" fill-rule="evenodd" d="M949.8,899.4L960.9,918.2L964.1,899.4L965.8,875.4L964.1,851.4L960.9,842.9L946.8,851.4L945.6,875.4ZM847.1,827.4L884.6,843.7L901.2,827.4L896.6,803.4L909,779.4L884.6,759.3L881.2,755.4L876.9,731.4L873.3,707.4L864.8,683.4L846.5,671.9L839.3,683.4L819.8,707.4L813.2,731.4L812,755.4L812.2,779.4L827.4,803.4L846.5,826.8Z"/><path fill="#4dffaa" fill-rule="evenodd" d="M952.5,899.4L960.9,913.6L963.3,899.4L965,875.4L963.3,851.4L960.9,845L950.2,851.4L947.9,875.4ZM851.9,827.4L884.6,841.6L899.1,827.4L892,803.4L904.9,779.4L884.6,762.6L878.2,755.4L873.3,731.4L869.6,707.4L854.2,683.4L846.5,678.5L843.4,683.4L823.5,707.4L817.1,731.4L815,755.4L815.3,779.4L830.9,803.4L846.5,822.4Z"/><path fill="#53ffa4" fill-rule="evenodd" d="M955.2,899.4L960.9,909.1L962.5,899.4L964.3,875.4L962.5,851.4L960.9,847L953.6,851.4L950.2,875.4ZM856.6,827.4L884.6,839.5L897,827.4L887.3,803.4L900.8,779.4L884.6,766L875.2,755.4L869.7,731.4L865.9,707.4L846.5,684.5L827.1,707.4L821,731.4L817.9,755.4L818.4,779.4L834.5,803.4L846.5,818.1Z"/><path fill="#5aff9d" fill-rule="evenodd" d="M957.9,899.4L960.9,904.5L961.8,899.4L963.6,875.4L961.8,851.4L960.9,849.1L957.1,851.4L952.5,875.4ZM861.4,827.4L884.6,837.5L894.9,827.4L884.6,805.3L879,803.4L884.6,800.5L896.8,779.4L884.6,769.3L872.2,755.4L866.2,731.4L862.2,707.4L846.5,688.9L830.8,707.4L824.9,731.4L820.9,755.4L821.5,779.4L838,803.4L846.5,813.7Z"/><path fill="#60ff97" fill-rule="evenodd" d="M960.6,899.4L960.9,900L961,899.4L962.8,875.4L961,851.4L960.9,851.1L960.5,851.4L954.8,875.4ZM866.1,827.4L884.6,835.4L892.8,827.4L884.6,809.8ZM841.6,803.4L846.5,809.4L865.3,803.4L884.6,793.5L892.7,779.4L884.6,772.7L869.2,755.4L862.6,731.4L858.5,707.4L846.5,693.3L834.5,707.4L828.8,731.4L823.9,755.4L824.7,779.4Z"/><path fill="#66ff90" fill-rule="evenodd" d="M957.1,875.4L960.9,891L962.1,875.4L960.9,859.8ZM870.9,827.4L884.6,833.3L890.7,827.4L884.6,814.4ZM845.1,803.4L846.5,805L851.6,803.4L884.6,786.4L888.7,779.4L884.6,776L866.2,755.4L859,731.4L854.8,707.4L846.5,697.6L838.2,707.4L832.8,731.4L826.8,755.4L827.8,779.4Z"/><path fill="#6dff8a" fill-rule="evenodd" d="M959.5,875.4L960.9,881.4L961.4,875.4L960.9,869.4ZM875.7,827.4L884.6,831.3L888.6,827.4L884.6,818.9ZM830.9,779.4L846.4,800.7L884.6,779.4L863.2,755.4L855.4,731.4L851.1,707.4L846.5,702L841.9,707.4L836.7,731.4L829.8,755.4Z"/><path fill="#73ff83" fill-rule="evenodd" d="M880.4,827.4L884.6,829.2L886.4,827.4L884.6,823.4ZM834,779.4L846.5,796.5L877,779.4L860.3,755.4L851.8,731.4L847.4,707.4L846.5,706.3L845.5,707.4L840.6,731.4L832.7,755.4Z"/><path fill="#7dff7a" fill-rule="evenodd" d="M837.1,779.4L846.5,792.2L869.3,779.4L857.3,755.4L848.2,731.4L846.5,721.8L844.5,731.4L835.7,755.4Z"/><path fill="#83ff73" fill-rule="evenodd" d="M840.2,779.4L846.5,787.9L861.7,779.4L854.3,755.4L846.5,735.2L838.7,755.4Z"/><path fill="#8aff6d" fill-rule="evenodd" d="M843.3,779.4L846.5,783.7L854.1,779.4L851.3,755.4L846.5,742.9L841.6,755.4Z"/><path fill="#90ff66" fill-rule="evenodd" d="M844.6,755.4L846.5,779.4L848.3,755.4L846.5,750.6Z"/></g></g>
<rect x="655.7" y="563.4" width="381.5" height="360" fill="none" stroke="#000" stroke-width="1.3"/>
<path d="M751.1,923.4v4.6" stroke="#000" stroke-width="1.1"/><text class="t" x="751.1" y="948.7" text-anchor="middle" style="font-size:22px">0.5</text>
<path d="M870.3,923.4v4.6" stroke="#000" stroke-width="1.1"/><text class="t" x="870.3" y="948.7" text-anchor="middle" style="font-size:22px">1.0</text>
<path d="M989.5,923.4v4.6" stroke="#000" stroke-width="1.1"/><text class="t" x="989.5" y="948.7" text-anchor="middle" style="font-size:22px">1.5</text>
<path d="M655.7,860.6h-4.6" stroke="#000" stroke-width="1.1"/><text class="t" x="647.5" y="868.6" text-anchor="end" style="font-size:22px">0.5</text>
<path d="M655.7,782.0h-4.6" stroke="#000" stroke-width="1.1"/><text class="t" x="647.5" y="790.1" text-anchor="end" style="font-size:22px">1.0</text>
<path d="M655.7,703.5h-4.6" stroke="#000" stroke-width="1.1"/><text class="t" x="647.5" y="711.5" text-anchor="end" style="font-size:22px">1.5</text>
<path d="M655.7,625.0h-4.6" stroke="#000" stroke-width="1.1"/><text class="t" x="647.5" y="633.0" text-anchor="end" style="font-size:22px">2.0</text>
<text class="i" x="846.5" y="976.2" text-anchor="middle">θ</text>
<text class="i" transform="translate(601.8,743.9) rotate(-90)" text-anchor="middle">α</text>
<rect x="1060.2" y="916.20" width="18.5" height="7.70" fill="#000089"/><rect x="1060.2" y="909.00" width="18.5" height="7.70" fill="#00009f"/><rect x="1060.2" y="901.80" width="18.5" height="7.70" fill="#0000b6"/><rect x="1060.2" y="894.60" width="18.5" height="7.70" fill="#0000cd"/><rect x="1060.2" y="887.40" width="18.5" height="7.70" fill="#0000e8"/><rect x="1060.2" y="880.20" width="18.5" height="7.70" fill="#0000ff"/><rect x="1060.2" y="873.00" width="18.5" height="7.70" fill="#0004ff"/><rect x="1060.2" y="865.80" width="18.5" height="7.70" fill="#0018ff"/><rect x="1060.2" y="858.60" width="18.5" height="7.70" fill="#002cff"/><rect x="1060.2" y="851.40" width="18.5" height="7.70" fill="#0040ff"/><rect x="1060.2" y="844.20" width="18.5" height="7.70" fill="#0054ff"/><rect x="1060.2" y="837.00" width="18.5" height="7.70" fill="#0068ff"/><rect x="1060.2" y="829.80" width="18.5" height="7.70" fill="#0080ff"/><rect x="1060.2" y="822.60" width="18.5" height="7.70" fill="#0094ff"/><rect x="1060.2" y="815.40" width="18.5" height="7.70" fill="#00a8ff"/><rect x="1060.2" y="808.20" width="18.5" height="7.70" fill="#00bcff"/><rect x="1060.2" y="801.00" width="18.5" height="7.70" fill="#00d0ff"/><rect x="1060.2" y="793.80" width="18.5" height="7.70" fill="#00e4f8"/><rect x="1060.2" y="786.60" width="18.5" height="7.70" fill="#0ff8e7"/><rect x="1060.2" y="779.40" width="18.5" height="7.70" fill="#1fffd7"/><rect x="1060.2" y="772.20" width="18.5" height="7.70" fill="#30ffc7"/><rect x="1060.2" y="765.00" width="18.5" height="7.70" fill="#43ffb4"/><rect x="1060.2" y="757.80" width="18.5" height="7.70" fill="#53ffa4"/><rect x="1060.2" y="750.60" width="18.5" height="7.70" fill="#63ff94"/><rect x="1060.2" y="743.40" width="18.5" height="7.70" fill="#73ff83"/><rect x="1060.2" y="736.20" width="18.5" height="7.70" fill="#83ff73"/><rect x="1060.2" y="729.00" width="18.5" height="7.70" fill="#94ff63"/><rect x="1060.2" y="721.80" width="18.5" height="7.70" fill="#a4ff53"/><rect x="1060.2" y="714.60" width="18.5" height="7.70" fill="#b4ff43"/><rect x="1060.2" y="707.40" width="18.5" height="7.70" fill="#c7ff30"/><rect x="1060.2" y="700.20" width="18.5" height="7.70" fill="#d7ff1f"/><rect x="1060.2" y="693.00" width="18.5" height="7.70" fill="#e7ff0f"/><rect x="1060.2" y="685.80" width="18.5" height="7.70" fill="#f8f500"/><rect x="1060.2" y="678.60" width="18.5" height="7.70" fill="#ffe200"/><rect x="1060.2" y="671.40" width="18.5" height="7.70" fill="#ffd000"/><rect x="1060.2" y="664.20" width="18.5" height="7.70" fill="#ffbd00"/><rect x="1060.2" y="657.00" width="18.5" height="7.70" fill="#ffab00"/><rect x="1060.2" y="649.80" width="18.5" height="7.70" fill="#ff9400"/><rect x="1060.2" y="642.60" width="18.5" height="7.70" fill="#ff8200"/><rect x="1060.2" y="635.40" width="18.5" height="7.70" fill="#ff6f00"/><rect x="1060.2" y="628.20" width="18.5" height="7.70" fill="#ff5d00"/><rect x="1060.2" y="621.00" width="18.5" height="7.70" fill="#ff4a00"/><rect x="1060.2" y="613.80" width="18.5" height="7.70" fill="#ff3800"/><rect x="1060.2" y="606.60" width="18.5" height="7.70" fill="#ff2500"/><rect x="1060.2" y="599.40" width="18.5" height="7.70" fill="#ff1300"/><rect x="1060.2" y="592.20" width="18.5" height="7.70" fill="#e80000"/><rect x="1060.2" y="585.00" width="18.5" height="7.70" fill="#cd0000"/><rect x="1060.2" y="577.80" width="18.5" height="7.70" fill="#b60000"/><rect x="1060.2" y="570.60" width="18.5" height="7.70" fill="#9f0000"/><rect x="1060.2" y="563.40" width="18.5" height="7.70" fill="#890000"/><rect x="1060.2" y="563.4" width="18.5" height="360" fill="none" stroke="#000" stroke-width="1.3"/>
<path d="M1078.7,923.4h4.6" stroke="#000" stroke-width="1.1"/><text class="t" x="1087.5" y="932.2" style="font-size:22px">0</text>
<path d="M1078.7,880.2h4.6" stroke="#000" stroke-width="1.1"/><text class="t" x="1087.5" y="889.0" style="font-size:22px">600</text>
<path d="M1078.7,837.0h4.6" stroke="#000" stroke-width="1.1"/><text class="t" x="1087.5" y="845.8" style="font-size:22px">1200</text>
<path d="M1078.7,793.8h4.6" stroke="#000" stroke-width="1.1"/><text class="t" x="1087.5" y="802.6" style="font-size:22px">1800</text>
<path d="M1078.7,750.6h4.6" stroke="#000" stroke-width="1.1"/><text class="t" x="1087.5" y="759.4" style="font-size:22px">2400</text>
<path d="M1078.7,707.4h4.6" stroke="#000" stroke-width="1.1"/><text class="t" x="1087.5" y="716.2" style="font-size:22px">3000</text>
<path d="M1078.7,664.2h4.6" stroke="#000" stroke-width="1.1"/><text class="t" x="1087.5" y="673.0" style="font-size:22px">3600</text>
<path d="M1078.7,621.0h4.6" stroke="#000" stroke-width="1.1"/><text class="t" x="1087.5" y="629.8" style="font-size:22px">4200</text>
<path d="M1078.7,577.8h4.6" stroke="#000" stroke-width="1.1"/><text class="t" x="1087.5" y="586.6" style="font-size:22px">4800</text>
<text class="b" x="593.5" y="580">(e)</text>
<defs><clipPath id="cf"><rect x="1220.2" y="563.4" width="381.5" height="360"/></clipPath><filter id="ff" color-interpolation-filters="sRGB" filterUnits="userSpaceOnUse" x="1182" y="539.4" width="457.8" height="408"><feGaussianBlur stdDeviation="0.45"/></filter></defs><g clip-path="url(#cf)"><g filter="url(#ff)"><rect x="1182" y="539.4" width="457.8" height="408" fill="#0000cd"/><path fill="#0000d6" fill-rule="evenodd" d="M1182,947.4L1220.2,947.4L1258.4,947.4L1296.5,947.4L1334.7,947.4L1372.8,947.4L1411,947.4L1449.1,947.4L1487.2,947.4L1525.4,947.4L1563.5,947.4L1601.7,947.4L1639.9,947.4L1639.9,923.4L1639.9,899.4L1639.9,875.4L1639.9,851.4L1639.9,827.4L1639.9,803.4L1639.9,779.4L1639.9,755.4L1639.9,731.4L1639.9,707.4L1639.9,683.4L1639.9,659.4L1639.9,635.4L1639.9,611.4L1639.9,587.4L1639.9,573L1601.7,573L1586.4,563.4L1586.4,539.4L1563.5,539.4L1525.4,539.4L1487.2,539.4L1449.1,539.4L1411,539.4L1372.8,539.4L1334.7,539.4L1296.5,539.4L1258.4,539.4L1220.2,539.4L1182,539.4L1182,563.4L1182,587.4L1182,611.4L1182,635.4L1182,659.4L1182,683.4L1182,707.4L1182,731.4L1182,755.4L1182,779.4L1182,803.4L1182,827.4L1182,851.4L1182,875.4L1182,899.4L1182,923.4Z"/><path fill="#0000df" fill-rule="evenodd" d="M1182,947.4L1220.2,947.4L1258.4,947.4L1296.5,947.4L1334.7,947.4L1372.8,947.4L1411,947.4L1449.1,947.4L1487.2,947.4L1525.4,947.4L1563.5,947.4L1601.7,947.4L1639.9,947.4L1639.9,923.4L1639.9,899.4L1639.9,875.4L1639.9,851.4L1639.9,827.4L1639.9,803.4L1639.9,779.4L1639.9,755.4L1639.9,731.4L1639.9,707.4L1639.9,683.4L1639.9,659.4L1639.9,635.4L1639.9,611.4L1601.7,611.4L1582.6,635.4L1563.5,659.4L1563.5,683.4L1563.5,707.4L1563.5,731.4L1579.4,755.4L1582.6,779.4L1582.6,803.4L1582.6,827.4L1563.5,851.4L1563.5,851.4L1563.5,851.4L1560.1,827.4L1559.7,803.4L1559.3,779.4L1557.2,755.4L1563.5,731.4L1563.5,707.4L1563.5,683.4L1563.5,659.4L1558.1,635.4L1550.8,611.4L1547.7,587.4L1544.5,563.4L1544.5,539.4L1525.4,539.4L1487.2,539.4L1449.1,539.4L1411,539.4L1372.8,539.4L1334.7,539.4L1296.5,539.4L1258.4,539.4L1229.7,539.4L1229.7,563.4L1220.2,587.4L1220.2,587.4L1182,587.4L1182,611.4L1182,635.4L1182,659.4L1182,683.4L1182,707.4L1182,731.4L1182,755.4L1182,779.4L1182,803.4L1182,827.4L1182,851.4L1182,875.4L1182,899.4L1182,923.4ZM1563.5,899.4L1563.5,899.4L1563.5,899.4L1563.5,899.4Z"/><path fill="#0000e8" fill-rule="evenodd" d="M1182,947.4L1220.2,947.4L1258.4,947.4L1296.5,947.4L1334.7,947.4L1372.8,947.4L1411,947.4L1449.1,947.4L1487.2,947.4L1525.4,947.4L1563.2,947.4L1563.2,923.4L1562.5,899.4L1563,875.4L1559.4,851.4L1554.5,827.4L1553.6,803.4L1552.5,779.4L1547,755.4L1548.3,731.4L1548.3,707.4L1548.3,683.4L1543.2,659.4L1536.3,635.4L1530.5,611.4L1525.4,595.4L1523.9,587.4L1520.8,563.4L1520.8,539.4L1487.2,539.4L1449.1,539.4L1411,539.4L1372.8,539.4L1334.7,539.4L1296.5,539.4L1258.4,539.4L1245,539.4L1245,563.4L1235.5,587.4L1220.2,606.6L1182,606.6L1182,611.4L1182,635.4L1182,659.4L1182,683.4L1182,707.4L1182,731.4L1182,755.4L1182,779.4L1182,803.4L1182,827.4L1182,851.4L1182,875.4L1182,899.4L1182,923.4ZM1564,947.4L1601.7,947.4L1639.9,947.4L1639.9,923.4L1639.9,899.4L1639.9,877.2L1601.7,877.2L1570.3,899.4L1564,923.4ZM1594.1,731.4L1601.7,747.4L1639.9,747.4L1639.9,731.4L1639.9,707.4L1639.9,697.8L1601.7,697.8L1594.1,707.4Z"/><path fill="#0000f1" fill-rule="evenodd" d="M1182,947.4L1220.2,947.4L1258.4,947.4L1296.5,947.4L1334.7,947.4L1372.8,947.4L1411,947.4L1449.1,947.4L1487.2,947.4L1525.4,947.4L1562.2,947.4L1562.2,923.4L1561.5,899.4L1561.4,875.4L1555.2,851.4L1549,827.4L1547.5,803.4L1545.7,779.4L1536.8,755.4L1533,731.4L1533,707.4L1533,683.4L1525.4,664.2L1524.1,659.4L1520,635.4L1516.2,611.4L1511.7,587.4L1508.6,563.4L1508.6,539.4L1487.2,539.4L1449.1,539.4L1411,539.4L1372.8,539.4L1334.7,539.4L1296.5,539.4L1260.3,539.4L1260.3,563.4L1258.4,568.2L1250.7,587.4L1231.6,611.4L1220.2,621L1182,621L1182,635.4L1182,659.4L1182,683.4L1182,707.4L1182,731.4L1182,755.4L1182,779.4L1182,803.4L1182,827.4L1182,851.4L1182,875.4L1182,899.4L1182,923.4ZM1565.2,947.4L1601.7,947.4L1639.9,947.4L1639.9,923.4L1639.9,899.4L1639.9,882L1601.7,882L1577.1,899.4L1565.2,923.4Z"/><path fill="#0000fa" fill-rule="evenodd" d="M1182,947.4L1220.2,947.4L1258.4,947.4L1296.5,947.4L1334.7,947.4L1372.8,947.4L1411,947.4L1449.1,947.4L1487.2,947.4L1525.4,947.4L1561.2,947.4L1561.2,923.4L1560.5,899.4L1559.8,875.4L1551,851.4L1543.4,827.4L1541.4,803.4L1539,779.4L1526.7,755.4L1525.4,750.6L1521.5,731.4L1520.3,707.4L1519.3,683.4L1514,659.4L1509,635.4L1504,611.4L1499.5,587.4L1496.4,563.4L1496.4,539.4L1487.2,539.4L1449.1,539.4L1411,539.4L1372.8,539.4L1334.7,539.4L1296.5,539.4L1275.5,539.4L1275.5,563.4L1266,587.4L1258.4,597L1246.9,611.4L1220.2,633.8L1182,633.8L1182,635.4L1182,659.4L1182,683.4L1182,707.4L1182,731.4L1182,755.4L1182,779.4L1182,803.4L1182,827.4L1182,851.4L1182,875.4L1182,899.4L1182,923.4ZM1566.4,947.4L1601.7,947.4L1639.9,947.4L1639.9,923.4L1639.9,899.4L1639.9,886.8L1601.7,886.8L1583.9,899.4L1566.4,923.4Z"/><path fill="#0000ff" fill-rule="evenodd" d="M1182,947.4L1220.2,947.4L1258.4,947.4L1296.5,947.4L1334.7,947.4L1372.8,947.4L1411,947.4L1449.1,947.4L1487.2,947.4L1525.4,947.4L1560.2,947.4L1560.2,923.4L1559.5,899.4L1558.3,875.4L1546.8,851.4L1537.9,827.4L1535.3,803.4L1532.2,779.4L1525.4,766.6L1522.4,755.4L1513.7,731.4L1510.1,707.4L1507.1,683.4L1503.8,659.4L1498.2,635.4L1491.8,611.4L1487.2,587.4L1487.2,587.4L1485.7,563.4L1485.7,539.4L1449.1,539.4L1411,539.4L1372.8,539.4L1334.7,539.4L1296.5,539.4L1290.8,539.4L1290.8,563.4L1281.2,587.4L1263.4,611.4L1258.4,616.2L1238,635.4L1220.2,646.6L1182,646.6L1182,659.4L1182,683.4L1182,707.4L1182,731.4L1182,755.4L1182,779.4L1182,803.4L1182,827.4L1182,851.4L1182,875.4L1182,899.4L1182,923.4ZM1567.6,947.4L1601.7,947.4L1639.9,947.4L1639.9,923.4L1639.9,899.4L1639.8,891.6L1601.7,891.6L1590.7,899.4L1567.6,923.4Z"/><path fill="#0000ff" fill-rule="evenodd" d="M1182,947.4L1220.2,947.4L1258.4,947.4L1296.5,947.4L1334.7,947.4L1372.8,947.4L1411,947.4L1449.1,947.4L1487.2,947.4L1525.4,947.4L1559.2,947.4L1559.2,923.4L1558.5,899.4L1556.7,875.4L1542.6,851.4L1532.3,827.4L1529.2,803.4L1525.4,779.4L1525.4,779.4L1519,755.4L1505.8,731.4L1500,707.4L1494.9,683.4L1493.6,659.4L1487.2,635.4L1487.2,635.4L1484.4,611.4L1481.7,587.4L1479.6,563.4L1479.6,539.4L1449.1,539.4L1411,539.4L1372.8,539.4L1334.7,539.4L1304.4,539.4L1304.4,563.4L1296.5,587.4L1296.5,587.4L1283.8,611.4L1258.4,635.4L1258.4,635.4L1220.2,659.4L1220.2,659.4L1182,659.4L1182,683.4L1182,707.4L1182,731.4L1182,755.4L1182,779.4L1182,803.4L1182,827.4L1182,851.4L1182,875.4L1182,899.4L1182,923.4ZM1568.7,947.4L1601.7,947.4L1639.9,947.4L1639.9,923.4L1639.9,899.4L1639.9,896.4L1601.7,896.4L1597.5,899.4L1568.7,923.4Z"/><path fill="#0004ff" fill-rule="evenodd" d="M1182,947.4L1220.2,947.4L1258.4,947.4L1296.5,947.4L1334.7,947.4L1372.8,947.4L1411,947.4L1449.1,947.4L1487.2,947.4L1525.4,947.4L1558.3,947.4L1558.3,923.4L1557.5,899.4L1555.1,875.4L1538.4,851.4L1526.8,827.4L1525.4,817.8L1525,803.4L1524.1,779.4L1515.7,755.4L1498,731.4L1489.8,707.4L1487.2,697.8L1486.3,683.4L1486,659.4L1483.4,635.4L1479.7,611.4L1476.2,587.4L1473.5,563.4L1473.5,539.4L1449.1,539.4L1411,539.4L1372.8,539.4L1334.7,539.4L1317.2,539.4L1317.2,563.4L1312.6,587.4L1300.6,611.4L1296.5,614.8L1269.9,635.4L1258.4,642.7L1231.8,659.4L1220.2,669.5L1182,669.5L1182,683.4L1182,707.4L1182,731.4L1182,755.4L1182,779.4L1182,803.4L1182,827.4L1182,851.4L1182,875.4L1182,899.4L1182,923.4ZM1569.9,947.4L1601.7,947.4L1639.9,947.4L1639.9,923.4L1639.9,899.7L1601.7,899.7L1569.9,923.4Z"/><path fill="#000cff" fill-rule="evenodd" d="M1182,947.4L1220.2,947.4L1258.4,947.4L1296.5,947.4L1334.7,947.4L1372.8,947.4L1411,947.4L1449.1,947.4L1487.2,947.4L1525.4,947.4L1557.3,947.4L1557.3,923.4L1556.5,899.4L1553.6,875.4L1534.2,851.4L1525.4,833.7L1524.4,827.4L1523.9,803.4L1522.9,779.4L1512.3,755.4L1490.2,731.4L1487.2,723.4L1486,707.4L1483.8,683.4L1482.6,659.4L1479.6,635.4L1475.1,611.4L1470.7,587.4L1467.4,563.4L1467.4,539.4L1449.1,539.4L1411,539.4L1372.8,539.4L1334.7,539.4L1329.9,539.4L1329.9,563.4L1328.6,587.4L1311.6,611.4L1296.5,623.7L1281.5,635.4L1258.4,649.9L1243.3,659.4L1220.2,679.6L1182,679.6L1182,683.4L1182,707.4L1182,731.4L1182,755.4L1182,779.4L1182,803.4L1182,827.4L1182,851.4L1182,875.4L1182,899.4L1182,923.4ZM1571.1,947.4L1601.7,947.4L1639.9,947.4L1639.9,923.4L1639.9,900.6L1601.7,900.6L1571.1,923.4Z"/><path fill="#0014ff" fill-rule="evenodd" d="M1182,947.4L1220.2,947.4L1258.4,947.4L1296.5,947.4L1334.7,947.4L1372.8,947.4L1411,947.4L1449.1,947.4L1487.2,947.4L1525.4,947.4L1556.3,947.4L1556.3,923.4L1555.5,899.4L1552,875.4L1530,851.4L1525.4,842.1L1523.1,827.4L1522.8,803.4L1521.6,779.4L1508.9,755.4L1487.2,733.5L1486.5,731.4L1484.4,707.4L1481.2,683.4L1479.2,659.4L1475.8,635.4L1470.5,611.4L1465.1,587.4L1461.3,563.4L1461.3,539.4L1449.1,539.4L1411,539.4L1372.8,539.4L1339.2,539.4L1339.2,563.4L1338.4,587.4L1334.7,596.1L1322.6,611.4L1296.5,632.7L1293,635.4L1258.4,657.2L1254.9,659.4L1223.9,683.4L1220.2,689.1L1182,689.1L1182,707.4L1182,731.4L1182,755.4L1182,779.4L1182,803.4L1182,827.4L1182,851.4L1182,875.4L1182,899.4L1182,923.4ZM1572.3,947.4L1601.7,947.4L1639.9,947.4L1639.9,923.4L1639.9,901.5L1601.7,901.5L1572.3,923.4Z"/><path fill="#001cff" fill-rule="evenodd" d="M1182,947.4L1220.2,947.4L1258.4,947.4L1296.5,947.4L1334.7,947.4L1372.8,947.4L1411,947.4L1449.1,947.4L1487.2,947.4L1525.4,947.4L1555.3,947.4L1555.3,923.4L1554.5,899.4L1550.4,875.4L1525.8,851.4L1525.4,850.6L1521.7,827.4L1521.7,803.4L1520.3,779.4L1505.5,755.4L1487.2,737L1485.3,731.4L1482.7,707.4L1478.7,683.4L1475.8,659.4L1472,635.4L1465.9,611.4L1459.6,587.4L1455.2,563.4L1455.2,539.4L1449.1,539.4L1411,539.4L1372.8,539.4L1346.5,539.4L1346.5,563.4L1344.4,587.4L1334.7,610L1333.6,611.4L1300.9,635.4L1296.5,638.5L1263.3,659.4L1258.4,662.5L1229.9,683.4L1220.2,698.3L1182.1,698.3L1182,707.4L1182,731.4L1182,755.4L1182,779.4L1182,803.4L1182,827.4L1182,851.4L1182,875.4L1182,899.4L1182,923.4ZM1573.5,947.4L1601.7,947.4L1639.9,947.4L1639.9,923.4L1639.9,902.4L1601.7,902.4L1573.5,923.4Z"/><path fill="#0024ff" fill-rule="evenodd" d="M1182,947.4L1220.2,947.4L1258.4,947.4L1258.4,923.4L1258.4,923.4L1258.4,923.4L1258.4,947.4L1296.5,947.4L1334.7,947.4L1372.8,947.4L1411,947.4L1449.1,947.4L1487.2,947.4L1525.4,947.4L1554.3,947.4L1554.3,923.4L1553.5,899.4L1548.9,875.4L1525.4,852.8L1524,851.4L1520.4,827.4L1520.5,803.4L1519,779.4L1502.1,755.4L1487.2,740.4L1484,731.4L1481.1,707.4L1476.1,683.4L1472.4,659.4L1468.2,635.4L1461.2,611.4L1454.1,587.4L1449.1,563.4L1449.1,563.4L1449.1,539.4L1411,539.4L1372.8,539.4L1353.7,539.4L1353.7,563.4L1350.4,587.4L1339.9,611.4L1334.7,615.5L1307.2,635.4L1296.5,642.9L1270.2,659.4L1258.4,666.9L1235.9,683.4L1220.2,707.4L1220.2,707.4L1182,707.4L1182,731.4L1182,755.4L1182,779.4L1182,803.4L1182,827.4L1182,851.4L1182,875.4L1182,899.4L1182,923.4ZM1574.7,947.4L1601.7,947.4L1639.9,947.4L1639.9,923.4L1639.9,903.3L1601.7,903.3L1574.7,923.4Z"/><path fill="#0030ff" fill-rule="evenodd" d="M1265.1,947.4L1296.5,947.4L1334.7,947.4L1372.8,947.4L1411,947.4L1449.1,947.4L1487.2,947.4L1525.4,947.4L1553.3,947.4L1553.3,923.4L1552.5,899.4L1547.3,875.4L1525.4,854.3L1522.5,851.4L1519,827.4L1519.4,803.4L1517.8,779.4L1498.7,755.4L1487.2,743.8L1482.8,731.4L1479.4,707.4L1473.6,683.4L1469,659.4L1464.4,635.4L1456.6,611.4L1449.1,588.8L1448.6,587.4L1443.6,563.4L1443.6,539.4L1411,539.4L1372.8,539.4L1361,539.4L1361,563.4L1356.3,587.4L1345.8,611.4L1334.7,620L1313.5,635.4L1296.5,647.3L1277.2,659.4L1258.4,671.3L1241.9,683.4L1226.3,707.4L1220.2,718.8L1182,718.8L1182,731.4L1182,755.4L1182,779.4L1182,803.4L1182,827.4L1182,851.4L1182,875.4L1182,899.4L1182,922.6L1220.2,922.6L1258.4,917L1265.1,923.4ZM1575.8,947.4L1601.7,947.4L1639.9,947.4L1639.9,923.4L1639.9,904.1L1601.7,904.1L1575.8,923.4Z"/><path fill="#0038ff" fill-rule="evenodd" d="M1271.9,947.4L1296.5,947.4L1334.7,947.4L1372.8,947.4L1411,947.4L1449.1,947.4L1487.2,947.4L1525.4,947.4L1552.4,947.4L1552.4,923.4L1551.5,899.4L1545.7,875.4L1525.4,855.8L1520.9,851.4L1517.7,827.4L1518.3,803.4L1516.5,779.4L1495.3,755.4L1487.2,747.3L1481.6,731.4L1477.8,707.4L1471,683.4L1465.6,659.4L1460.5,635.4L1452,611.4L1449.1,602.7L1443.3,587.4L1438,563.4L1438,539.4L1411,539.4L1372.8,539.4L1368.3,539.4L1368.3,563.4L1362.3,587.4L1351.6,611.4L1334.7,624.6L1319.7,635.4L1296.5,651.7L1284.2,659.4L1258.4,675.7L1247.9,683.4L1232.4,707.4L1220.2,730.3L1182,730.3L1182,731.4L1182,755.4L1182,779.4L1182,803.4L1182,827.4L1182,851.4L1182,875.4L1182,899.4L1182,914.1L1220.2,914.1L1258.4,910.6L1271.9,923.4ZM1577,947.4L1601.7,947.4L1639.9,947.4L1639.9,923.4L1639.9,905L1601.7,905L1577,923.4Z"/><path fill="#0040ff" fill-rule="evenodd" d="M1278.7,947.4L1296.5,947.4L1334.7,947.4L1372.8,947.4L1411,947.4L1449.1,947.4L1487.2,947.4L1525.4,947.4L1551.4,947.4L1551.4,923.4L1550.5,899.4L1544.2,875.4L1525.4,857.3L1519.4,851.4L1516.3,827.4L1517.2,803.4L1515.2,779.4L1491.9,755.4L1487.2,750.7L1480.4,731.4L1476.1,707.4L1468.5,683.4L1462.2,659.4L1456.7,635.4L1449.1,615.2L1447.3,611.4L1438,587.4L1432.5,563.4L1432.5,539.4L1411,539.4L1376.2,539.4L1376.2,563.4L1372.8,571.4L1368.3,587.4L1357.5,611.4L1334.7,629.1L1326,635.4L1296.5,656.1L1291.2,659.4L1258.4,680.1L1253.9,683.4L1238.5,707.4L1225.9,731.4L1220.2,740.9L1182,740.9L1182,755.4L1182,779.4L1182,803.4L1182,827.4L1182,851.4L1182,875.4L1182,899.4L1182,905.7L1220.2,905.7L1258.4,904.2L1278.7,923.4ZM1578.2,947.4L1601.7,947.4L1639.9,947.4L1639.9,923.4L1639.8,905.9L1601.7,905.9L1578.2,923.4Z"/><path fill="#0048ff" fill-rule="evenodd" d="M1285.5,947.4L1296.5,947.4L1334.7,947.4L1372.8,947.4L1411,947.4L1449.1,947.4L1487.2,947.4L1525.4,947.4L1550.4,947.4L1550.4,923.4L1549.5,899.4L1542.6,875.4L1525.4,858.8L1517.8,851.4L1515,827.4L1516.1,803.4L1514,779.4L1488.5,755.4L1487.2,754.1L1479.1,731.4L1474.5,707.4L1465.9,683.4L1458.8,659.4L1452.9,635.4L1449.1,625.3L1442.5,611.4L1432.7,587.4L1426.9,563.4L1426.9,539.4L1411,539.4L1385.1,539.4L1385.1,563.4L1375,587.4L1372.8,590.6L1363.3,611.4L1334.7,633.7L1332.3,635.4L1299,659.4L1296.5,661.3L1261.4,683.4L1258.4,685.8L1244.6,707.4L1232.2,731.4L1220.2,751.4L1182,751.4L1182,755.4L1182,779.4L1182,803.4L1182,827.4L1182,851.4L1182,875.4L1182.1,896.2L1220.2,896.2L1258.4,897.5L1273.6,899.4L1285.5,923.4ZM1579.4,947.4L1601.7,947.4L1639.9,947.4L1639.9,923.4L1639.8,906.8L1601.7,906.8L1579.4,923.4Z"/><path fill="#0050ff" fill-rule="evenodd" d="M1292.3,947.4L1296.5,947.4L1334.7,947.4L1372.8,947.4L1411,947.4L1449.1,947.4L1487.2,947.4L1525.4,947.4L1549.4,947.4L1549.4,923.4L1548.5,899.4L1541.1,875.4L1525.4,860.3L1516.3,851.4L1513.7,827.4L1515,803.4L1512.7,779.4L1487.2,756.1L1486,755.4L1477.9,731.4L1472.8,707.4L1463.4,683.4L1455.5,659.4L1449.1,635.4L1449.1,635.4L1437.8,611.4L1427.5,587.4L1421.4,563.4L1421.4,539.4L1411,539.4L1394.1,539.4L1394.1,563.4L1383.7,587.4L1372.8,603.4L1369.1,611.4L1340.1,635.4L1334.7,640.2L1309.2,659.4L1296.5,669L1273.6,683.4L1258.4,695.4L1250.7,707.4L1238.6,731.4L1224.6,755.4L1220.2,759.4L1182,759.4L1182,779.4L1182,803.4L1182,827.4L1182,851.4L1182,875.4L1182,883.4L1220.2,883.4L1258.4,889.8L1296.5,891.4L1301.3,899.4L1296.5,911.4L1292.3,923.4ZM1334.7,855.4L1327,851.4L1334.7,848.7L1339.4,851.4ZM1580.6,947.4L1601.7,947.4L1639.9,947.4L1639.9,923.4L1639.9,907.7L1601.7,907.7L1580.6,923.4Z"/><path fill="#0058ff" fill-rule="evenodd" d="M1299.4,947.4L1334.7,947.4L1372.8,947.4L1411,947.4L1449.1,947.4L1487.2,947.4L1525.4,947.4L1548.4,947.4L1548.4,923.4L1547.5,899.4L1539.5,875.4L1525.4,861.8L1514.7,851.4L1512.3,827.4L1513.9,803.4L1511.4,779.4L1487.2,757.3L1484.1,755.4L1476.7,731.4L1471.2,707.4L1460.9,683.4L1452.1,659.4L1449.1,648.2L1444.4,635.4L1433,611.4L1422.2,587.4L1415.8,563.4L1415.8,539.4L1411,539.4L1403.1,539.4L1403.1,563.4L1392.4,587.4L1375.7,611.4L1372.8,614.3L1348.8,635.4L1334.7,647.9L1319.4,659.4L1296.5,676.7L1285.8,683.4L1258.4,705L1256.8,707.4L1244.9,731.4L1231.7,755.4L1220.2,765.8L1182,765.8L1182,779.4L1182,803.4L1182,827.4L1182,851.4L1182,868.2L1220.2,868.2L1231.6,875.4L1258.4,882.1L1296.5,878.6L1308.9,899.4L1299.4,923.4ZM1334.7,861.8L1314.8,851.4L1334.7,844.5L1347,851.4ZM1581.8,947.4L1601.7,947.4L1639.9,947.4L1639.9,923.4L1639.9,908.6L1601.7,908.6L1581.8,923.4Z"/><path fill="#0060ff" fill-rule="evenodd" d="M1307,947.4L1334.7,947.4L1372.8,947.4L1411,947.4L1449.1,947.4L1487.2,947.4L1525.4,947.4L1547.4,947.4L1547.4,923.4L1546.5,899.4L1537.9,875.4L1525.4,863.3L1513.2,851.4L1511,827.4L1512.8,803.4L1510.1,779.4L1487.2,758.5L1482.2,755.4L1475.5,731.4L1469.5,707.4L1458.3,683.4L1449.1,660.2L1448.5,659.4L1439.7,635.4L1428.2,611.4L1416.9,587.4L1411,565.8L1401.1,587.4L1383.3,611.4L1372.8,622L1357.5,635.4L1334.7,655.6L1329.6,659.4L1297.6,683.4L1296.5,684.4L1266,707.4L1258.4,717L1251.2,731.4L1238.8,755.4L1220.2,772.2L1182,772.2L1182,779.4L1182,803.4L1182,827.4L1182,849.8L1220.2,849.8L1224,851.4L1258.4,873L1296.5,861L1302.6,851.4L1334.7,840.2L1354.7,851.4L1334.7,868.2L1311.8,875.4L1316.5,899.4L1307,923.4ZM1583,947.4L1601.7,947.4L1639.9,947.4L1639.9,923.4L1639.9,909.4L1601.7,909.4L1583,923.4Z"/><path fill="#0068ff" fill-rule="evenodd" d="M1314.6,947.4L1334.7,947.4L1372.8,947.4L1411,947.4L1449.1,947.4L1487.2,947.4L1525.4,947.4L1546.4,947.4L1546.4,923.4L1545.5,899.4L1536.4,875.4L1525.4,864.8L1511.6,851.4L1509.6,827.4L1511.7,803.4L1508.9,779.4L1487.2,759.6L1480.2,755.4L1474.2,731.4L1467.9,707.4L1455.8,683.4L1449.1,666.6L1443.8,659.4L1435,635.4L1423.5,611.4L1411.6,587.4L1411,585L1409.9,587.4L1390.9,611.4L1372.8,629.6L1366.3,635.4L1339.7,659.4L1334.7,662.6L1306.3,683.4L1296.5,692L1276.2,707.4L1258.3,729.8L1257.6,731.4L1245.9,755.4L1220.2,778.6L1182,778.6L1182,779.4L1182,803.4L1182,827.4L1182,837L1220.2,837L1254.5,851.4L1258.4,853.8L1266,851.4L1296.5,841.8L1334.7,835.9L1362.3,851.4L1334.7,874.6L1332.1,875.4L1324.2,899.4L1314.6,923.4ZM1584.1,947.4L1601.7,947.4L1639.9,947.4L1639.9,923.4L1639.8,910.3L1601.7,910.3L1584.1,923.4Z"/><path fill="#0070ff" fill-rule="evenodd" d="M1322.3,947.4L1334.7,947.4L1372.8,947.4L1411,947.4L1449.1,947.4L1487.2,947.4L1525.4,947.4L1545.5,947.4L1545.5,923.4L1544.5,899.4L1534.8,875.4L1525.4,866.3L1510.1,851.4L1508.3,827.4L1510.6,803.4L1507.6,779.4L1487.2,760.8L1478.3,755.4L1473,731.4L1466.2,707.4L1453.2,683.4L1449.1,673L1439.1,659.4L1430.3,635.4L1418.7,611.4L1410.9,595.8L1398.6,611.4L1375,635.4L1372.8,637.8L1349.9,659.4L1334.7,669L1315,683.4L1296.5,699.7L1286.3,707.4L1266,731.4L1258.4,744.3L1253,755.4L1226.9,779.4L1225.3,803.4L1227.8,827.4L1258.4,840.2L1288.9,827.4L1283.1,803.4L1296.5,797.8L1304.1,803.4L1304.1,827.4L1334.7,831.7L1369.9,851.4L1352.5,875.4L1334.7,892.2L1331.8,899.4L1322.3,923.4ZM1585.3,947.4L1601.7,947.4L1639.9,947.4L1639.9,923.4L1639.9,911.2L1601.7,911.2L1585.3,923.4Z"/><path fill="#0078ff" fill-rule="evenodd" d="M1329.9,947.4L1334.7,947.4L1372.8,947.4L1411,947.4L1449.1,947.4L1487.2,947.4L1525.4,947.4L1544.5,947.4L1544.5,923.4L1543.5,899.4L1533.2,875.4L1525.4,867.9L1508.5,851.4L1507,827.4L1509.4,803.4L1506.3,779.4L1487.2,761.9L1476.3,755.4L1471.8,731.4L1464.6,707.4L1450.7,683.4L1449.1,679.4L1434.4,659.4L1425.6,635.4L1413.9,611.4L1411,605.4L1406.2,611.4L1383.7,635.4L1372.8,647.4L1360.1,659.4L1334.7,675.4L1323.8,683.4L1296.5,707.4L1296.5,707.4L1274.7,731.4L1261.8,755.4L1258.4,757.2L1234.5,779.4L1245.6,803.4L1258.4,827.4L1267.9,803.4L1296.5,791.4L1312.8,803.4L1334.7,827.4L1334.7,827.4L1372.8,846.6L1378.6,851.4L1372.8,875.4L1372.8,875.4L1341,899.4L1334.7,911.4L1329.9,923.4ZM1586.5,947.4L1601.7,947.4L1639.9,947.4L1639.9,923.4L1639.9,912.1L1601.7,912.1L1586.5,923.4Z"/><path fill="#0080ff" fill-rule="evenodd" d="M1340.4,947.4L1372.8,947.4L1411,947.4L1449.1,947.4L1487.2,947.4L1525.4,947.4L1543.5,947.4L1543.5,923.4L1542.5,899.4L1531.7,875.4L1525.4,869.4L1507,851.4L1505.6,827.4L1508.3,803.4L1505.1,779.4L1487.2,763.1L1474.4,755.4L1470.5,731.4L1462.9,707.4L1449.1,684.4L1447.7,683.4L1429.7,659.4L1420.9,635.4L1411,615L1392.4,635.4L1372.8,657L1370.3,659.4L1334.7,681.8L1332.5,683.4L1301.6,707.4L1296.5,717L1283.4,731.4L1275.7,755.4L1258.4,764.3L1242.1,779.4L1258.4,799.8L1296.5,785L1321.6,803.4L1334.7,817.8L1349.9,827.4L1372.8,838.9L1387.8,851.4L1380.4,875.4L1372.8,883.1L1351.2,899.4L1340.4,923.4ZM1587.7,947.4L1601.7,947.4L1639.9,947.4L1639.9,923.4L1639.9,913L1601.7,913L1587.7,923.4Z"/><path fill="#0088ff" fill-rule="evenodd" d="M1355.6,947.4L1372.8,947.4L1411,947.4L1449.1,947.4L1487.2,947.4L1525.4,947.4L1542.5,947.4L1542.5,923.4L1541.5,899.4L1530.1,875.4L1525.4,870.9L1505.4,851.4L1504.3,827.4L1507.2,803.4L1503.8,779.4L1487.2,764.3L1472.5,755.4L1469.3,731.4L1461.3,707.4L1449.1,687.2L1443.9,683.4L1425,659.4L1416.2,635.4L1411,624.6L1401.1,635.4L1380.4,659.4L1372.8,664.2L1342.3,683.4L1334.7,686.3L1306.7,707.4L1296.5,726.6L1292.1,731.4L1289.6,755.4L1296.5,774.6L1299,779.4L1330.3,803.4L1334.7,808.2L1365.2,827.4L1372.8,831.2L1397.1,851.4L1388.1,875.4L1372.8,890.8L1361.4,899.4L1355.6,923.4ZM1588.9,947.4L1601.7,947.4L1639.9,947.4L1639.9,923.4L1639.9,913.9L1601.7,913.9L1588.9,923.4ZM1249.8,779.4L1258.4,790.2L1292.7,779.4L1258.4,771.4Z"/><path fill="#0090ff" fill-rule="evenodd" d="M1370.9,947.4L1372.8,947.4L1411,947.4L1449.1,947.4L1487.2,947.4L1525.4,947.4L1541.5,947.4L1541.5,923.4L1540.5,899.4L1528.5,875.4L1525.4,872.4L1503.9,851.4L1502.9,827.4L1506.1,803.4L1502.5,779.4L1487.2,765.4L1470.5,755.4L1468.1,731.4L1459.6,707.4L1449.1,689.9L1440,683.4L1420.3,659.4L1411.5,635.4L1411,634.2L1409.9,635.4L1390.6,659.4L1372.8,670.6L1352.5,683.4L1334.7,690.1L1311.8,707.4L1302,731.4L1302.6,755.4L1319.4,779.4L1334.7,793.8L1339,803.4L1372.8,824.7L1377.9,827.4L1406.3,851.4L1395.7,875.4L1372.8,898.4L1371.5,899.4L1370.9,923.4ZM1590.1,947.4L1601.7,947.4L1639.9,947.4L1639.9,923.4L1639.9,914.7L1601.7,914.7L1590.1,923.4ZM1257.4,779.4L1258.4,780.6L1262.2,779.4L1258.4,778.5Z"/><path fill="#0098ff" fill-rule="evenodd" d="M1383.5,947.4L1411,947.4L1449.1,947.4L1487.2,947.4L1525.4,947.4L1540.5,947.4L1540.5,923.4L1539.5,899.4L1527,875.4L1525.4,873.9L1502.3,851.4L1501.6,827.4L1505,803.4L1501.2,779.4L1487.2,766.6L1468.6,755.4L1466.9,731.4L1458,707.4L1449.1,692.7L1436.2,683.4L1415.6,659.4L1411,646.6L1400.8,659.4L1372.8,677L1362.6,683.4L1334.7,694L1316.8,707.4L1312.8,731.4L1314.8,755.4L1334.7,776.2L1336.8,779.4L1347.7,803.4L1372.8,819.2L1388.1,827.4L1411,847L1413.2,851.4L1411,859.4L1403.3,875.4L1388.5,899.4L1383.5,923.4ZM1591.3,947.4L1601.7,947.4L1639.9,947.4L1639.9,923.4L1639.9,915.6L1601.7,915.6L1591.3,923.4Z"/><path fill="#00a0ff" fill-rule="evenodd" d="M1395.7,947.4L1411,947.4L1449.1,947.4L1487.2,947.4L1525.4,947.4L1539.6,947.4L1539.6,923.4L1538.5,899.4L1525.4,875.4L1525.4,875.4L1500.8,851.4L1500.2,827.4L1503.9,803.4L1500,779.4L1487.2,767.8L1466.7,755.4L1465.6,731.4L1456.3,707.4L1449.1,695.4L1432.4,683.4L1411,659.4L1372.8,683.4L1372.8,683.4L1334.7,697.8L1321.9,707.4L1323.8,731.4L1327,755.4L1334.7,763.4L1345.6,779.4L1356.5,803.4L1372.8,813.7L1398.2,827.4L1411,838.3L1417.7,851.4L1411,875.4L1411,875.4L1406.5,899.4L1395.7,923.4ZM1592.4,947.4L1601.7,947.4L1639.9,947.4L1639.9,923.4L1639.9,916.5L1601.7,916.5L1592.4,923.4Z"/><path fill="#00a8ff" fill-rule="evenodd" d="M1407.9,947.4L1411,947.4L1449.1,947.4L1487.2,947.4L1525.4,947.4L1538.6,947.4L1538.6,923.4L1537.5,899.4L1525.4,877.2L1521.7,875.4L1499.2,851.4L1498.9,827.4L1502.8,803.4L1498.7,779.4L1487.2,768.9L1464.7,755.4L1464.4,731.4L1454.7,707.4L1449.1,698.1L1428.6,683.4L1411,663.7L1379.6,683.4L1372.8,688.9L1334.7,701.6L1327,707.4L1334.7,731.4L1334.7,731.4L1338.1,755.4L1354.3,779.4L1365.2,803.4L1372.8,808.2L1408.4,827.4L1411,829.6L1422.1,851.4L1416.4,875.4L1414.4,899.4L1410.9,917.4L1407.9,923.4ZM1593.6,947.4L1601.7,947.4L1639.9,947.4L1639.9,923.4L1639.9,917.4L1601.7,917.4L1593.6,923.4Z"/><path fill="#00b0ff" fill-rule="evenodd" d="M1414.3,947.4L1449.1,947.4L1487.2,947.4L1525.4,947.4L1537.6,947.4L1537.6,923.4L1536.5,899.4L1525.4,879.1L1518,875.4L1497.7,851.4L1497.6,827.4L1501.7,803.4L1497.4,779.4L1487.2,770.1L1462.8,755.4L1463.2,731.4L1453,707.4L1449.1,700.9L1424.8,683.4L1411,667.9L1386.4,683.4L1372.8,694.4L1334.7,705.5L1332.1,707.4L1334.7,715.4L1341.9,731.4L1347.4,755.4L1363,779.4L1372.8,801L1373.9,803.4L1411,823.8L1415.3,827.4L1426.6,851.4L1421.8,875.4L1419.1,899.4L1414.3,923.4ZM1594.8,947.4L1601.7,947.4L1639.9,947.4L1639.9,923.4L1639.9,918.3L1601.7,918.3L1594.8,923.4Z"/><path fill="#00b8ff" fill-rule="evenodd" d="M1418.9,947.4L1449.1,947.4L1487.2,947.4L1525.4,947.4L1536.6,947.4L1536.6,923.4L1535.5,899.4L1525.4,880.9L1514.3,875.4L1496.1,851.4L1496.2,827.4L1500.6,803.4L1496.2,779.4L1487.2,771.3L1460.8,755.4L1462,731.4L1451.4,707.4L1449.1,703.6L1421,683.4L1411,672.2L1393.1,683.4L1372.8,699.9L1344.8,707.4L1349.2,731.4L1356.6,755.4L1371.7,779.4L1372.8,781.8L1382.6,803.4L1411,819L1421.1,827.4L1431.1,851.4L1427.2,875.4L1423.8,899.4L1418.9,923.4ZM1596,947.4L1601.7,947.4L1639.9,947.4L1639.9,923.4L1639.8,919.2L1601.7,919.2L1596,923.4Z"/><path fill="#00c0ff" fill-rule="evenodd" d="M1423.4,947.4L1449.1,947.4L1487.2,947.4L1525.4,947.4L1535.6,947.4L1535.6,923.4L1534.5,899.4L1525.4,882.7L1510.6,875.4L1494.6,851.4L1494.9,827.4L1499.5,803.4L1494.9,779.4L1487.2,772.4L1458.9,755.4L1460.7,731.4L1449.7,707.4L1449.1,706.4L1417.1,683.4L1411,676.5L1399.9,683.4L1372.8,705.3L1365.2,707.4L1356.5,731.4L1365.9,755.4L1372.8,766.5L1378.9,779.4L1391.3,803.4L1411,814.2L1426.9,827.4L1435.6,851.4L1432.7,875.4L1428.4,899.4L1423.4,923.4ZM1597.2,947.4L1601.7,947.4L1639.9,947.4L1639.9,923.4L1639.9,920L1601.7,920L1597.2,923.4Z"/><path fill="#00c8ff" fill-rule="evenodd" d="M1427.9,947.4L1449.1,947.4L1487.2,947.4L1525.4,947.4L1534.6,947.4L1534.6,923.4L1533.5,899.4L1525.4,884.5L1506.9,875.4L1493.1,851.4L1493.5,827.4L1498.3,803.4L1493.6,779.4L1487.2,773.6L1457,755.4L1459.5,731.4L1449.1,709L1445.1,707.4L1413.3,683.4L1411,680.7L1406.7,683.4L1376.8,707.4L1372.8,715.4L1363.7,731.4L1372.8,751.4L1374.7,755.4L1385.9,779.4L1400.1,803.4L1411,809.4L1432.8,827.4L1440,851.4L1438.1,875.4L1433.1,899.4L1427.9,923.4ZM1598.4,947.4L1601.7,947.4L1639.9,947.4L1639.9,923.4L1639.9,920.9L1601.7,920.9L1598.4,923.4Z"/><path fill="#00d0ff" fill-rule="evenodd" d="M1432.4,947.4L1449.1,947.4L1487.2,947.4L1525.4,947.4L1533.6,947.4L1533.6,923.4L1532.5,899.4L1525.4,886.4L1503.2,875.4L1491.5,851.4L1492.2,827.4L1497.2,803.4L1492.3,779.4L1487.2,774.7L1455,755.4L1458.3,731.4L1449.1,711.7L1438.7,707.4L1411,685.3L1383.2,707.4L1372.8,728.2L1371,731.4L1372.8,735.4L1382.2,755.4L1392.9,779.4L1408.8,803.4L1411,804.6L1438.6,827.4L1444.5,851.4L1443.5,875.4L1437.7,899.4L1432.4,923.4ZM1599.6,947.4L1601.7,947.4L1639.9,947.4L1639.9,923.4L1639.9,921.8L1601.7,921.8L1599.6,923.4Z"/><path fill="#00dcfe" fill-rule="evenodd" d="M1436.9,947.4L1449.1,947.4L1487.2,947.4L1525.4,947.4L1532.7,947.4L1532.7,923.4L1531.5,899.4L1525.4,888.2L1499.5,875.4L1490,851.4L1490.9,827.4L1496.1,803.4L1491.1,779.4L1487.2,775.9L1453.1,755.4L1457.1,731.4L1449.1,714.3L1432.2,707.4L1411,690.4L1389.7,707.4L1375.9,731.4L1389.7,755.4L1399.9,779.4L1411,795.7L1422.4,803.4L1444.4,827.4L1449,851.4L1449,875.4L1442.4,899.4L1436.9,923.4ZM1600.7,947.4L1601.7,947.4L1639.9,947.4L1639.9,923.4L1639.9,922.7L1601.7,922.7L1600.7,923.4Z"/><path fill="#00e4f8" fill-rule="evenodd" d="M1441.5,947.4L1449.1,947.4L1487.2,947.4L1525.4,947.4L1531.7,947.4L1531.7,923.4L1530.5,899.4L1525.4,890L1495.8,875.4L1488.4,851.4L1489.5,827.4L1495,803.4L1489.8,779.4L1487.2,777.1L1451.2,755.4L1455.8,731.4L1449.1,716.9L1425.8,707.4L1411,695.6L1396.1,707.4L1379.9,731.4L1397.2,755.4L1406.8,779.4L1411,785.4L1437.7,803.4L1449.1,822.6L1452.9,827.4L1470.7,851.4L1460.4,875.4L1449.1,892L1447.1,899.4L1441.5,923.4Z"/><path fill="#06ecf1" fill-rule="evenodd" d="M1446,947.4L1449.1,947.4L1487.2,947.4L1525.4,947.4L1530.7,947.4L1530.7,923.4L1529.5,899.4L1525.4,891.9L1492.1,875.4L1487.2,855.2L1472,875.4L1453.7,899.4L1449.1,910.2L1446,923.4ZM1473.3,827.4L1487.2,845L1488.2,827.4L1493.9,803.4L1488.5,779.4L1487.2,778.2L1449.2,755.4L1454.6,731.4L1449.1,719.6L1419.4,707.4L1411,700.7L1402.5,707.4L1384,731.4L1404.7,755.4L1411,771.5L1425.3,779.4L1449.1,797L1450.6,803.4Z"/><path fill="#0cf4eb" fill-rule="evenodd" d="M1452,947.4L1487.2,947.4L1525.4,947.4L1529.7,947.4L1529.7,923.4L1528.5,899.4L1525.4,893.7L1488.4,875.4L1487.2,870.6L1483.6,875.4L1461.8,899.4L1452,923.4ZM1456.7,803.4L1487.2,826L1492.8,803.4L1487.2,779.4ZM1388.1,731.4L1411,754.7L1449.1,750.3L1453.4,731.4L1449.1,722.2L1413,707.4L1411,705.8L1408.9,707.4Z"/><path fill="#13fce4" fill-rule="evenodd" d="M1461.4,947.4L1487.2,947.4L1525.4,947.4L1528.7,947.4L1528.7,923.4L1527.5,899.4L1525.4,895.5L1487.2,881.3L1470,899.4L1461.4,923.4ZM1462.8,803.4L1487.2,821.5L1491.7,803.4L1487.2,784.2ZM1392.1,731.4L1411,750.6L1449.1,744.9L1452.2,731.4L1449.1,724.8L1411,710.5Z"/><path fill="#19ffde" fill-rule="evenodd" d="M1470.8,947.4L1487.2,947.4L1525.4,947.4L1527.7,947.4L1527.7,923.4L1526.5,899.4L1525.4,897.3L1487.2,889.8L1478.1,899.4L1470.8,923.4ZM1468.9,803.4L1487.2,817L1490.6,803.4L1487.2,789ZM1396.2,731.4L1411,746.4L1449.1,739.5L1450.9,731.4L1449.1,727.5L1411,715Z"/><path fill="#1fffd7" fill-rule="evenodd" d="M1480.2,947.4L1487.2,947.4L1525.4,947.4L1526.8,947.4L1526.8,923.4L1525.5,899.4L1525.4,899.2L1487.2,898.3L1486.2,899.4L1480.2,923.4ZM1475,803.4L1487.2,812.4L1489.5,803.4L1487.2,793.8ZM1400.3,731.4L1411,742.3L1449.1,734.1L1449.7,731.4L1449.1,730.1L1411,719.5Z"/><path fill="#26ffd1" fill-rule="evenodd" d="M1502.5,947.4L1525.4,947.4L1525.8,947.4L1525.8,923.4L1525.4,916.2L1502.5,923.4ZM1481.1,803.4L1487.2,807.9L1488.4,803.4L1487.2,798.6ZM1404.3,731.4L1411,738.1L1440.1,731.4L1411,724.1Z"/><path fill="#2cffca" fill-rule="evenodd" d="M1408.4,731.4L1411,734L1422.2,731.4L1411,728.6Z"/></g></g>
<rect x="1220.2" y="563.4" width="381.5" height="360" fill="none" stroke="#000" stroke-width="1.3"/>
<path d="M1315.6,923.4v4.6" stroke="#000" stroke-width="1.1"/><text class="t" x="1315.6" y="948.7" text-anchor="middle" style="font-size:22px">0.5</text>
<path d="M1434.8,923.4v4.6" stroke="#000" stroke-width="1.1"/><text class="t" x="1434.8" y="948.7" text-anchor="middle" style="font-size:22px">1.0</text>
<path d="M1554.0,923.4v4.6" stroke="#000" stroke-width="1.1"/><text class="t" x="1554.0" y="948.7" text-anchor="middle" style="font-size:22px">1.5</text>
<path d="M1220.2,860.6h-4.6" stroke="#000" stroke-width="1.1"/><text class="t" x="1212.0" y="868.6" text-anchor="end" style="font-size:22px">0.5</text>
<path d="M1220.2,782.0h-4.6" stroke="#000" stroke-width="1.1"/><text class="t" x="1212.0" y="790.1" text-anchor="end" style="font-size:22px">1.0</text>
<path d="M1220.2,703.5h-4.6" stroke="#000" stroke-width="1.1"/><text class="t" x="1212.0" y="711.5" text-anchor="end" style="font-size:22px">1.5</text>
<path d="M1220.2,625.0h-4.6" stroke="#000" stroke-width="1.1"/><text class="t" x="1212.0" y="633.0" text-anchor="end" style="font-size:22px">2.0</text>
<text class="i" x="1411.0" y="976.2" text-anchor="middle">θ</text>
<text class="i" transform="translate(1166.3,743.9) rotate(-90)" text-anchor="middle">α</text>
<rect x="1625.1" y="916.20" width="18.3" height="7.70" fill="#000089"/><rect x="1625.1" y="909.00" width="18.3" height="7.70" fill="#00009f"/><rect x="1625.1" y="901.80" width="18.3" height="7.70" fill="#0000b6"/><rect x="1625.1" y="894.60" width="18.3" height="7.70" fill="#0000cd"/><rect x="1625.1" y="887.40" width="18.3" height="7.70" fill="#0000e8"/><rect x="1625.1" y="880.20" width="18.3" height="7.70" fill="#0000ff"/><rect x="1625.1" y="873.00" width="18.3" height="7.70" fill="#0004ff"/><rect x="1625.1" y="865.80" width="18.3" height="7.70" fill="#0018ff"/><rect x="1625.1" y="858.60" width="18.3" height="7.70" fill="#002cff"/><rect x="1625.1" y="851.40" width="18.3" height="7.70" fill="#0040ff"/><rect x="1625.1" y="844.20" width="18.3" height="7.70" fill="#0054ff"/><rect x="1625.1" y="837.00" width="18.3" height="7.70" fill="#0068ff"/><rect x="1625.1" y="829.80" width="18.3" height="7.70" fill="#0080ff"/><rect x="1625.1" y="822.60" width="18.3" height="7.70" fill="#0094ff"/><rect x="1625.1" y="815.40" width="18.3" height="7.70" fill="#00a8ff"/><rect x="1625.1" y="808.20" width="18.3" height="7.70" fill="#00bcff"/><rect x="1625.1" y="801.00" width="18.3" height="7.70" fill="#00d0ff"/><rect x="1625.1" y="793.80" width="18.3" height="7.70" fill="#00e4f8"/><rect x="1625.1" y="786.60" width="18.3" height="7.70" fill="#0ff8e7"/><rect x="1625.1" y="779.40" width="18.3" height="7.70" fill="#1fffd7"/><rect x="1625.1" y="772.20" width="18.3" height="7.70" fill="#30ffc7"/><rect x="1625.1" y="765.00" width="18.3" height="7.70" fill="#43ffb4"/><rect x="1625.1" y="757.80" width="18.3" height="7.70" fill="#53ffa4"/><rect x="1625.1" y="750.60" width="18.3" height="7.70" fill="#63ff94"/><rect x="1625.1" y="743.40" width="18.3" height="7.70" fill="#73ff83"/><rect x="1625.1" y="736.20" width="18.3" height="7.70" fill="#83ff73"/><rect x="1625.1" y="729.00" width="18.3" height="7.70" fill="#94ff63"/><rect x="1625.1" y="721.80" width="18.3" height="7.70" fill="#a4ff53"/><rect x="1625.1" y="714.60" width="18.3" height="7.70" fill="#b4ff43"/><rect x="1625.1" y="707.40" width="18.3" height="7.70" fill="#c7ff30"/><rect x="1625.1" y="700.20" width="18.3" height="7.70" fill="#d7ff1f"/><rect x="1625.1" y="693.00" width="18.3" height="7.70" fill="#e7ff0f"/><rect x="1625.1" y="685.80" width="18.3" height="7.70" fill="#f8f500"/><rect x="1625.1" y="678.60" width="18.3" height="7.70" fill="#ffe200"/><rect x="1625.1" y="671.40" width="18.3" height="7.70" fill="#ffd000"/><rect x="1625.1" y="664.20" width="18.3" height="7.70" fill="#ffbd00"/><rect x="1625.1" y="657.00" width="18.3" height="7.70" fill="#ffab00"/><rect x="1625.1" y="649.80" width="18.3" height="7.70" fill="#ff9400"/><rect x="1625.1" y="642.60" width="18.3" height="7.70" fill="#ff8200"/><rect x="1625.1" y="635.40" width="18.3" height="7.70" fill="#ff6f00"/><rect x="1625.1" y="628.20" width="18.3" height="7.70" fill="#ff5d00"/><rect x="1625.1" y="621.00" width="18.3" height="7.70" fill="#ff4a00"/><rect x="1625.1" y="613.80" width="18.3" height="7.70" fill="#ff3800"/><rect x="1625.1" y="606.60" width="18.3" height="7.70" fill="#ff2500"/><rect x="1625.1" y="599.40" width="18.3" height="7.70" fill="#ff1300"/><rect x="1625.1" y="592.20" width="18.3" height="7.70" fill="#e80000"/><rect x="1625.1" y="585.00" width="18.3" height="7.70" fill="#cd0000"/><rect x="1625.1" y="577.80" width="18.3" height="7.70" fill="#b60000"/><rect x="1625.1" y="570.60" width="18.3" height="7.70" fill="#9f0000"/><rect x="1625.1" y="563.40" width="18.3" height="7.70" fill="#890000"/><rect x="1625.1" y="563.4" width="18.3" height="360" fill="none" stroke="#000" stroke-width="1.3"/>
<path d="M1643.4,923.4h4.6" stroke="#000" stroke-width="1.1"/><text class="t" x="1652.2" y="932.2" style="font-size:22px">0</text>
<path d="M1643.4,880.2h4.6" stroke="#000" stroke-width="1.1"/><text class="t" x="1652.2" y="889.0" style="font-size:22px">600</text>
<path d="M1643.4,837.0h4.6" stroke="#000" stroke-width="1.1"/><text class="t" x="1652.2" y="845.8" style="font-size:22px">1200</text>
<path d="M1643.4,793.8h4.6" stroke="#000" stroke-width="1.1"/><text class="t" x="1652.2" y="802.6" style="font-size:22px">1800</text>
<path d="M1643.4,750.6h4.6" stroke="#000" stroke-width="1.1"/><text class="t" x="1652.2" y="759.4" style="font-size:22px">2400</text>
<path d="M1643.4,707.4h4.6" stroke="#000" stroke-width="1.1"/><text class="t" x="1652.2" y="716.2" style="font-size:22px">3000</text>
<path d="M1643.4,664.2h4.6" stroke="#000" stroke-width="1.1"/><text class="t" x="1652.2" y="673.0" style="font-size:22px">3600</text>
<path d="M1643.4,621.0h4.6" stroke="#000" stroke-width="1.1"/><text class="t" x="1652.2" y="629.8" style="font-size:22px">4200</text>
<path d="M1643.4,577.8h4.6" stroke="#000" stroke-width="1.1"/><text class="t" x="1652.2" y="586.6" style="font-size:22px">4800</text>
<text class="b" x="1157" y="580">(f)</text>
<text class="h" x="858.3" y="40.7" text-anchor="middle">Infidelity</text>
<text class="h" x="854.2" y="551.6" text-anchor="middle">Iteration</text>
</svg>
</body></html>
